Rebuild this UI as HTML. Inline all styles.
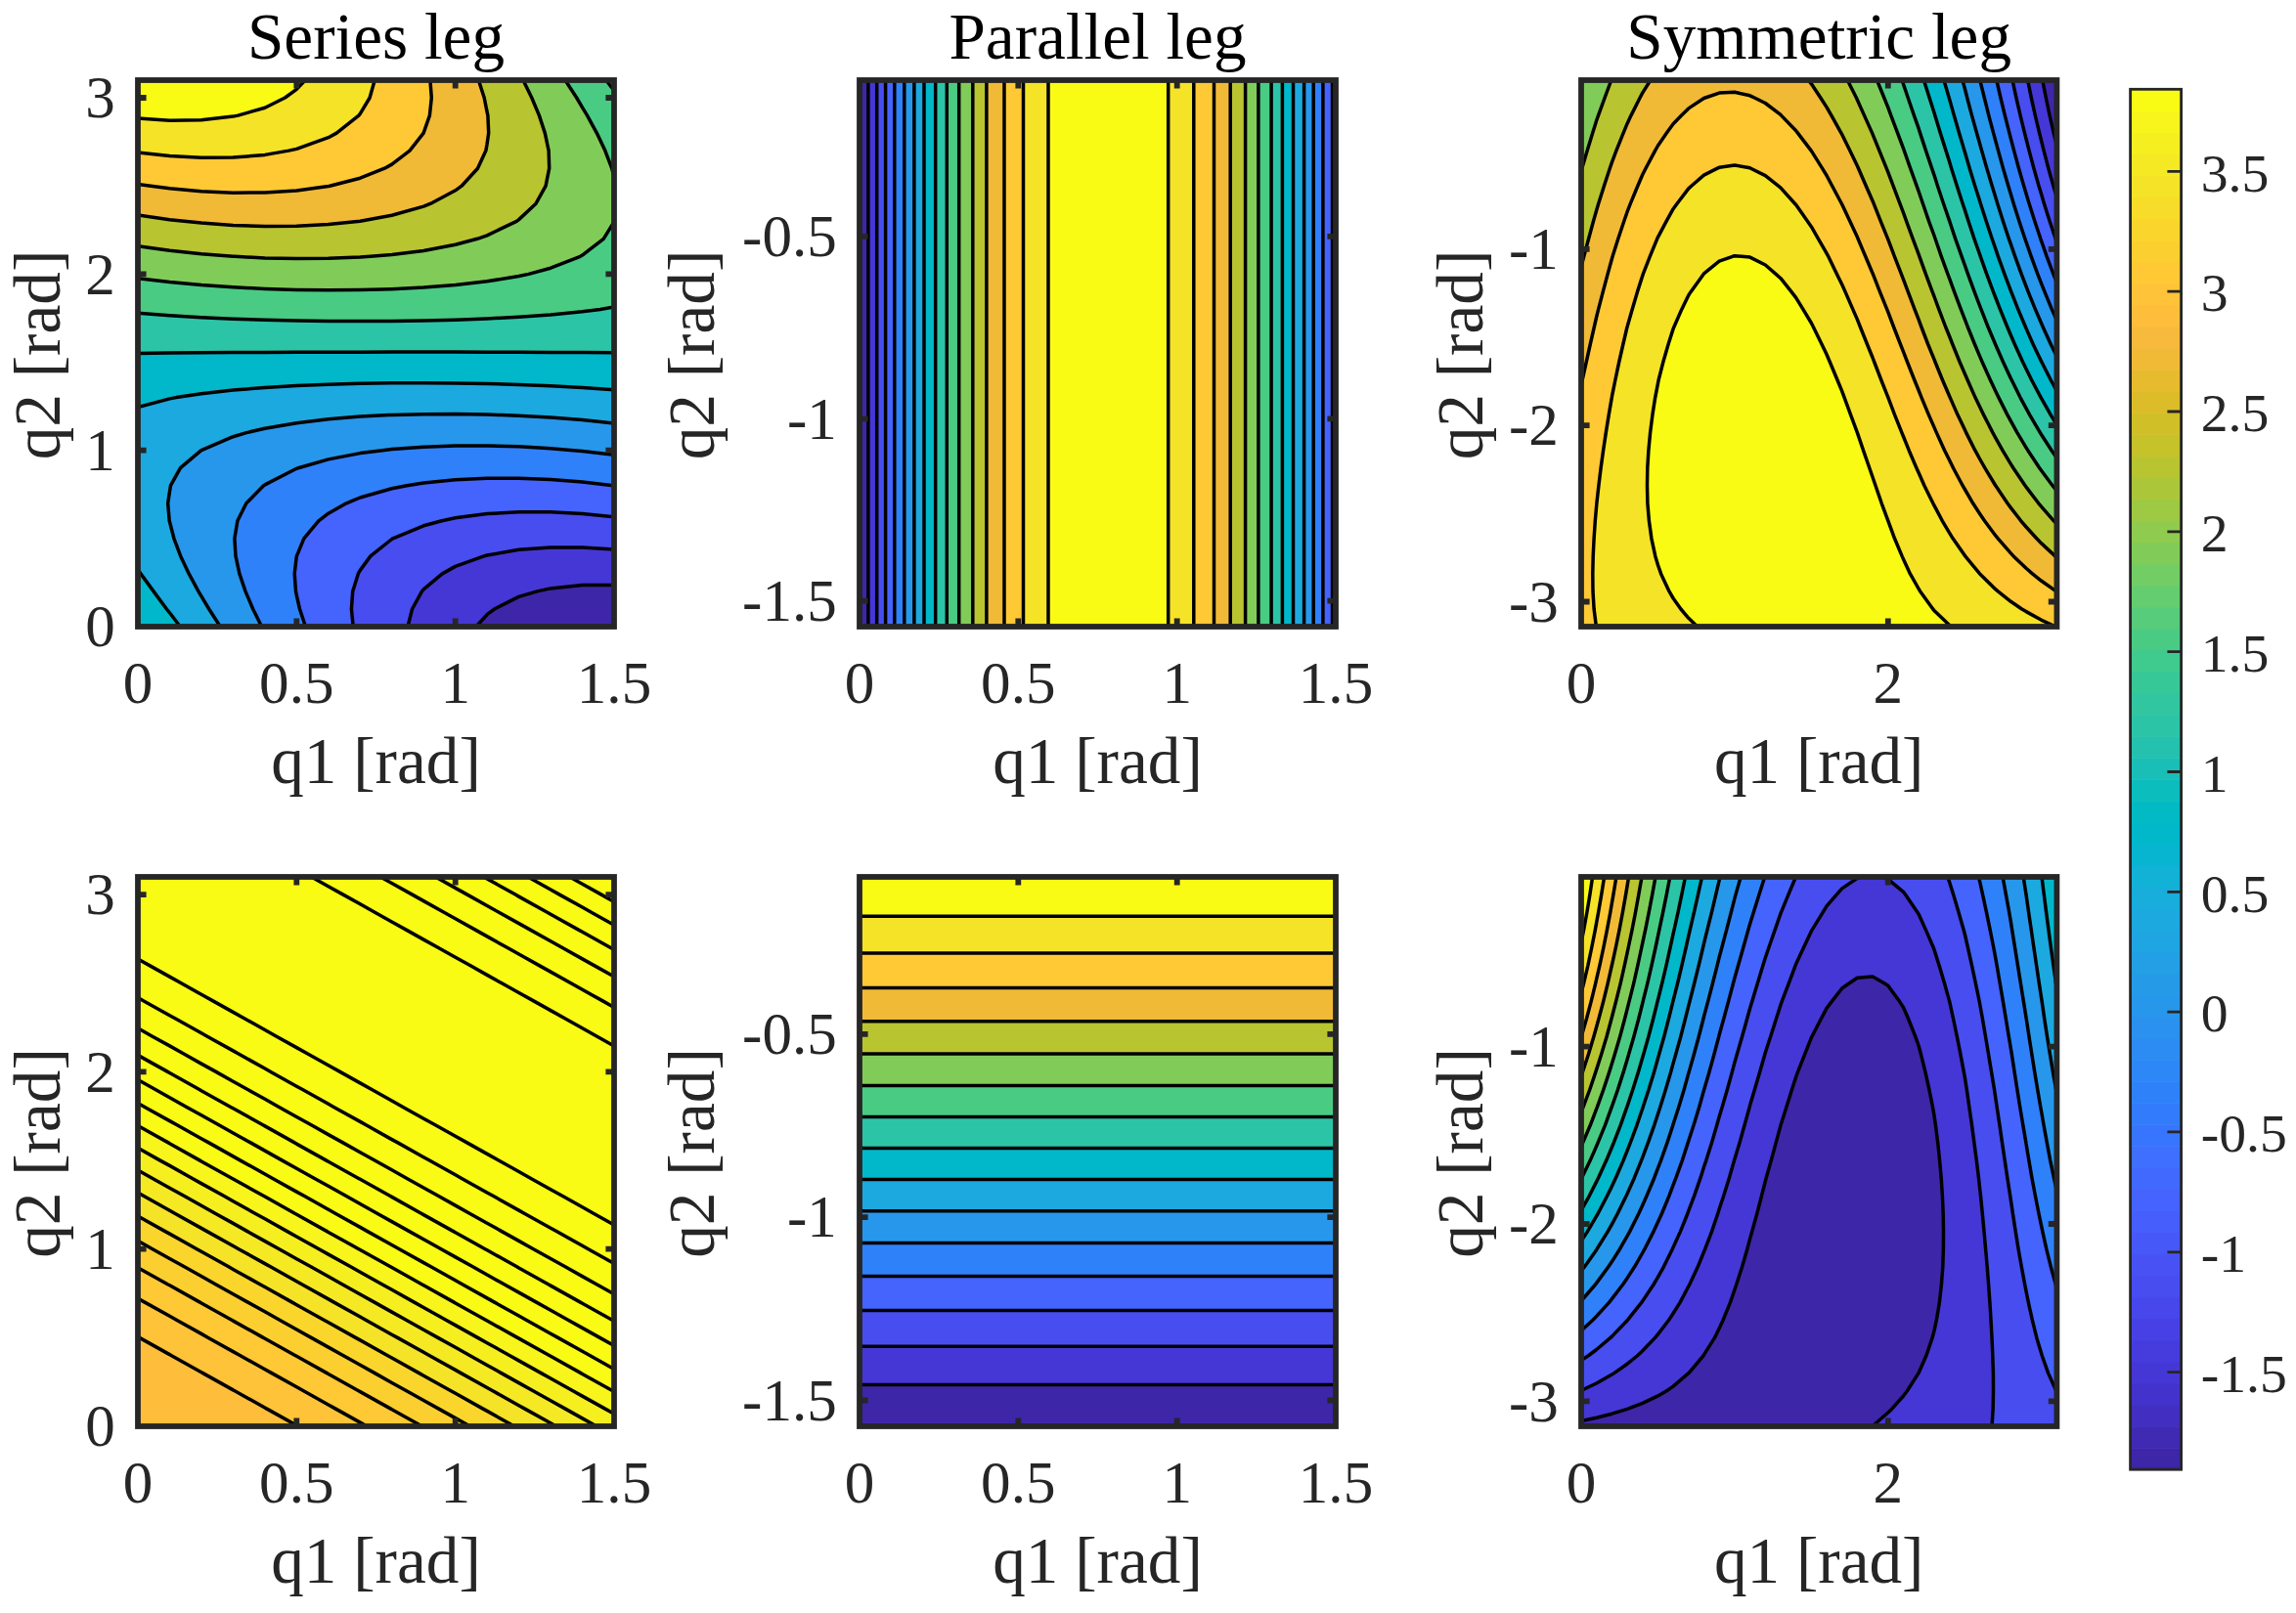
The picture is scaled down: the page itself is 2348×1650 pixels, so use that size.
<!DOCTYPE html>
<html><head><meta charset="utf-8"><title>Leg contour plots</title>
<style>html,body{margin:0;padding:0;background:#fff}svg{display:block}text{font-family:"Liberation Serif","Times New Roman",Times,serif}</style></head>
<body>
<svg xmlns="http://www.w3.org/2000/svg" width="2348" height="1650" viewBox="0 0 2348 1650">
<rect width="2348" height="1650" fill="#fff"/>
<g id="ax00">
<clipPath id="cp00"><rect x="141.0" y="82.0" width="487.0" height="559.0"/></clipPath>
<g clip-path="url(#cp00)">
<rect x="141.0" y="82.0" width="487.0" height="559.0" fill="#3e26a8"/>
<path d="M141.0,641.0 L173.5,641.0 L205.9,641.0 L238.4,641.0 L270.9,641.0 L303.3,641.0 L335.8,641.0 L368.3,641.0 L400.7,641.0 L433.2,641.0 L465.7,641.0 L486.9,641.0 L498.1,628.7 L505.7,623.0 L530.6,610.4 L549.5,604.9 L563.1,601.9 L595.5,598.6 L628.0,598.5 L628.0,586.9 L628.0,568.9 L628.0,550.8 L628.0,532.8 L628.0,514.8 L628.0,496.7 L628.0,478.7 L628.0,460.7 L628.0,442.6 L628.0,424.6 L628.0,406.6 L628.0,388.5 L628.0,370.5 L628.0,352.5 L628.0,334.5 L628.0,316.4 L628.0,298.4 L628.0,280.4 L628.0,262.3 L628.0,244.3 L628.0,226.3 L628.0,208.2 L628.0,190.2 L628.0,172.2 L628.0,154.1 L628.0,136.1 L628.0,118.1 L628.0,100.0 L628.0,82.0 L595.5,82.0 L563.1,82.0 L530.6,82.0 L498.1,82.0 L465.7,82.0 L433.2,82.0 L400.7,82.0 L368.3,82.0 L335.8,82.0 L303.3,82.0 L270.9,82.0 L238.4,82.0 L205.9,82.0 L173.5,82.0 L141.0,82.0 L141.0,100.0 L141.0,118.1 L141.0,136.1 L141.0,154.1 L141.0,172.2 L141.0,190.2 L141.0,208.2 L141.0,226.3 L141.0,244.3 L141.0,262.3 L141.0,280.4 L141.0,298.4 L141.0,316.4 L141.0,334.5 L141.0,352.5 L141.0,370.5 L141.0,388.5 L141.0,406.6 L141.0,424.6 L141.0,442.6 L141.0,460.7 L141.0,478.7 L141.0,496.7 L141.0,514.8 L141.0,532.8 L141.0,550.8 L141.0,568.9 L141.0,586.9 L141.0,604.9 L141.0,623.0 L141.0,641.0Z" fill="#4537d5" fill-rule="evenodd"/>
<path d="M141.0,641.0 L173.5,641.0 L205.9,641.0 L238.4,641.0 L270.9,641.0 L303.3,641.0 L335.8,641.0 L368.3,641.0 L400.7,641.0 L417.0,641.0 L421.5,623.0 L431.5,604.9 L433.2,602.9 L452.3,586.9 L465.7,579.4 L494.9,568.9 L498.1,568.0 L530.6,562.3 L563.1,559.9 L595.5,559.9 L628.0,562.1 L628.0,550.8 L628.0,532.8 L628.0,514.8 L628.0,496.7 L628.0,478.7 L628.0,460.7 L628.0,442.6 L628.0,424.6 L628.0,406.6 L628.0,388.5 L628.0,370.5 L628.0,352.5 L628.0,334.5 L628.0,316.4 L628.0,298.4 L628.0,280.4 L628.0,262.3 L628.0,244.3 L628.0,226.3 L628.0,208.2 L628.0,190.2 L628.0,172.2 L628.0,154.1 L628.0,136.1 L628.0,118.1 L628.0,100.0 L628.0,82.0 L595.5,82.0 L563.1,82.0 L530.6,82.0 L498.1,82.0 L465.7,82.0 L433.2,82.0 L400.7,82.0 L368.3,82.0 L335.8,82.0 L303.3,82.0 L270.9,82.0 L238.4,82.0 L205.9,82.0 L173.5,82.0 L141.0,82.0 L141.0,100.0 L141.0,118.1 L141.0,136.1 L141.0,154.1 L141.0,172.2 L141.0,190.2 L141.0,208.2 L141.0,226.3 L141.0,244.3 L141.0,262.3 L141.0,280.4 L141.0,298.4 L141.0,316.4 L141.0,334.5 L141.0,352.5 L141.0,370.5 L141.0,388.5 L141.0,406.6 L141.0,424.6 L141.0,442.6 L141.0,460.7 L141.0,478.7 L141.0,496.7 L141.0,514.8 L141.0,532.8 L141.0,550.8 L141.0,568.9 L141.0,586.9 L141.0,604.9 L141.0,623.0 L141.0,641.0Z" fill="#484df0" fill-rule="evenodd"/>
<path d="M141.0,641.0 L173.5,641.0 L205.9,641.0 L238.4,641.0 L270.9,641.0 L303.3,641.0 L335.8,641.0 L361.2,641.0 L359.4,623.0 L360.7,604.9 L366.3,586.9 L368.3,583.4 L378.9,568.9 L400.7,551.5 L401.8,550.8 L433.2,537.8 L451.9,532.8 L465.7,529.8 L498.1,525.6 L530.6,523.7 L563.1,523.8 L595.5,525.5 L628.0,528.7 L628.0,514.8 L628.0,496.7 L628.0,478.7 L628.0,460.7 L628.0,442.6 L628.0,424.6 L628.0,406.6 L628.0,388.5 L628.0,370.5 L628.0,352.5 L628.0,334.5 L628.0,316.4 L628.0,298.4 L628.0,280.4 L628.0,262.3 L628.0,244.3 L628.0,226.3 L628.0,208.2 L628.0,190.2 L628.0,172.2 L628.0,154.1 L628.0,136.1 L628.0,118.1 L628.0,100.0 L628.0,82.0 L595.5,82.0 L563.1,82.0 L530.6,82.0 L498.1,82.0 L465.7,82.0 L433.2,82.0 L400.7,82.0 L368.3,82.0 L335.8,82.0 L303.3,82.0 L270.9,82.0 L238.4,82.0 L205.9,82.0 L173.5,82.0 L141.0,82.0 L141.0,100.0 L141.0,118.1 L141.0,136.1 L141.0,154.1 L141.0,172.2 L141.0,190.2 L141.0,208.2 L141.0,226.3 L141.0,244.3 L141.0,262.3 L141.0,280.4 L141.0,298.4 L141.0,316.4 L141.0,334.5 L141.0,352.5 L141.0,370.5 L141.0,388.5 L141.0,406.6 L141.0,424.6 L141.0,442.6 L141.0,460.7 L141.0,478.7 L141.0,496.7 L141.0,514.8 L141.0,532.8 L141.0,550.8 L141.0,568.9 L141.0,586.9 L141.0,604.9 L141.0,623.0 L141.0,641.0Z" fill="#4563fd" fill-rule="evenodd"/>
<path d="M141.0,641.0 L173.5,641.0 L205.9,641.0 L238.4,641.0 L270.9,641.0 L303.3,641.0 L312.5,641.0 L306.5,623.0 L303.3,608.8 L302.5,604.9 L301.2,586.9 L303.3,569.0 L303.4,568.9 L310.8,550.8 L325.8,532.8 L335.8,525.2 L354.2,514.8 L368.3,509.0 L400.7,499.7 L416.1,496.7 L433.2,494.0 L465.7,490.8 L498.1,489.3 L530.6,489.3 L563.1,490.5 L595.5,493.1 L627.3,496.7 L628.0,496.8 L628.0,496.7 L628.0,478.7 L628.0,460.7 L628.0,442.6 L628.0,424.6 L628.0,406.6 L628.0,388.5 L628.0,370.5 L628.0,352.5 L628.0,334.5 L628.0,316.4 L628.0,298.4 L628.0,280.4 L628.0,262.3 L628.0,244.3 L628.0,226.3 L628.0,208.2 L628.0,190.2 L628.0,172.2 L628.0,154.1 L628.0,136.1 L628.0,118.1 L628.0,100.0 L628.0,82.0 L595.5,82.0 L563.1,82.0 L530.6,82.0 L498.1,82.0 L465.7,82.0 L433.2,82.0 L400.7,82.0 L368.3,82.0 L335.8,82.0 L303.3,82.0 L270.9,82.0 L238.4,82.0 L205.9,82.0 L173.5,82.0 L141.0,82.0 L141.0,100.0 L141.0,118.1 L141.0,136.1 L141.0,154.1 L141.0,172.2 L141.0,190.2 L141.0,208.2 L141.0,226.3 L141.0,244.3 L141.0,262.3 L141.0,280.4 L141.0,298.4 L141.0,316.4 L141.0,334.5 L141.0,352.5 L141.0,370.5 L141.0,388.5 L141.0,406.6 L141.0,424.6 L141.0,442.6 L141.0,460.7 L141.0,478.7 L141.0,496.7 L141.0,514.8 L141.0,532.8 L141.0,550.8 L141.0,568.9 L141.0,586.9 L141.0,604.9 L141.0,623.0 L141.0,641.0Z" fill="#2f81fa" fill-rule="evenodd"/>
<path d="M141.0,641.0 L173.5,641.0 L205.9,641.0 L238.4,641.0 L267.6,641.0 L258.7,623.0 L251.0,604.9 L244.9,586.9 L241.0,568.9 L239.9,550.8 L242.9,532.8 L251.9,514.8 L269.6,496.7 L270.9,495.9 L303.3,479.3 L305.0,478.7 L335.8,469.9 L368.3,463.6 L391.1,460.7 L400.7,459.6 L433.2,457.2 L465.7,456.1 L498.1,456.0 L530.6,456.8 L563.1,458.7 L586.3,460.7 L595.5,461.5 L628.0,465.3 L628.0,460.7 L628.0,442.6 L628.0,424.6 L628.0,406.6 L628.0,388.5 L628.0,370.5 L628.0,352.5 L628.0,334.5 L628.0,316.4 L628.0,298.4 L628.0,280.4 L628.0,262.3 L628.0,244.3 L628.0,226.3 L628.0,208.2 L628.0,190.2 L628.0,172.2 L628.0,154.1 L628.0,136.1 L628.0,118.1 L628.0,100.0 L628.0,82.0 L595.5,82.0 L563.1,82.0 L530.6,82.0 L498.1,82.0 L465.7,82.0 L433.2,82.0 L400.7,82.0 L368.3,82.0 L335.8,82.0 L303.3,82.0 L270.9,82.0 L238.4,82.0 L205.9,82.0 L173.5,82.0 L141.0,82.0 L141.0,100.0 L141.0,118.1 L141.0,136.1 L141.0,154.1 L141.0,172.2 L141.0,190.2 L141.0,208.2 L141.0,226.3 L141.0,244.3 L141.0,262.3 L141.0,280.4 L141.0,298.4 L141.0,316.4 L141.0,334.5 L141.0,352.5 L141.0,370.5 L141.0,388.5 L141.0,406.6 L141.0,424.6 L141.0,442.6 L141.0,460.7 L141.0,478.7 L141.0,496.7 L141.0,514.8 L141.0,532.8 L141.0,550.8 L141.0,568.9 L141.0,586.9 L141.0,604.9 L141.0,623.0 L141.0,641.0Z" fill="#2797eb" fill-rule="evenodd"/>
<path d="M141.0,641.0 L173.5,641.0 L205.9,641.0 L225.3,641.0 L213.7,623.0 L205.9,609.9 L202.9,604.9 L193.2,586.9 L184.7,568.9 L177.9,550.8 L173.5,533.8 L173.2,532.8 L171.7,514.8 L173.5,502.7 L174.5,496.7 L184.5,478.7 L205.8,460.7 L205.9,460.6 L238.4,446.7 L252.0,442.6 L270.9,438.3 L303.3,432.7 L335.8,428.8 L368.3,426.1 L397.8,424.6 L400.7,424.5 L433.2,423.7 L465.7,423.5 L498.1,424.1 L513.0,424.6 L530.6,425.3 L563.1,427.1 L595.5,429.6 L628.0,433.0 L628.0,424.6 L628.0,406.6 L628.0,388.5 L628.0,370.5 L628.0,352.5 L628.0,334.5 L628.0,316.4 L628.0,298.4 L628.0,280.4 L628.0,262.3 L628.0,244.3 L628.0,226.3 L628.0,208.2 L628.0,190.2 L628.0,172.2 L628.0,154.1 L628.0,136.1 L628.0,118.1 L628.0,100.0 L628.0,82.0 L595.5,82.0 L563.1,82.0 L530.6,82.0 L498.1,82.0 L465.7,82.0 L433.2,82.0 L400.7,82.0 L368.3,82.0 L335.8,82.0 L303.3,82.0 L270.9,82.0 L238.4,82.0 L205.9,82.0 L173.5,82.0 L141.0,82.0 L141.0,100.0 L141.0,118.1 L141.0,136.1 L141.0,154.1 L141.0,172.2 L141.0,190.2 L141.0,208.2 L141.0,226.3 L141.0,244.3 L141.0,262.3 L141.0,280.4 L141.0,298.4 L141.0,316.4 L141.0,334.5 L141.0,352.5 L141.0,370.5 L141.0,388.5 L141.0,406.6 L141.0,424.6 L141.0,442.6 L141.0,460.7 L141.0,478.7 L141.0,496.7 L141.0,514.8 L141.0,532.8 L141.0,550.8 L141.0,568.9 L141.0,586.9 L141.0,604.9 L141.0,623.0 L141.0,641.0Z" fill="#1ca9df" fill-rule="evenodd"/>
<path d="M141.0,641.0 L173.5,641.0 L184.3,641.0 L173.5,626.8 L170.4,623.0 L157.0,604.9 L143.9,586.9 L141.0,582.4 L141.0,586.9 L141.0,604.9 L141.0,623.0 L141.0,641.0ZM141.0,406.6 L141.0,416.5 L173.5,407.9 L180.2,406.6 L205.9,402.7 L238.4,399.1 L270.9,396.4 L303.3,394.5 L335.8,393.2 L368.3,392.3 L400.7,391.8 L433.2,391.7 L465.7,391.9 L498.1,392.5 L530.6,393.4 L563.1,394.7 L595.5,396.5 L628.0,398.8 L628.0,388.5 L628.0,370.5 L628.0,352.5 L628.0,334.5 L628.0,316.4 L628.0,298.4 L628.0,280.4 L628.0,262.3 L628.0,244.3 L628.0,226.3 L628.0,208.2 L628.0,190.2 L628.0,172.2 L628.0,154.1 L628.0,136.1 L628.0,118.1 L628.0,100.0 L628.0,82.0 L595.5,82.0 L563.1,82.0 L530.6,82.0 L498.1,82.0 L465.7,82.0 L433.2,82.0 L400.7,82.0 L368.3,82.0 L335.8,82.0 L303.3,82.0 L270.9,82.0 L238.4,82.0 L205.9,82.0 L173.5,82.0 L141.0,82.0 L141.0,100.0 L141.0,118.1 L141.0,136.1 L141.0,154.1 L141.0,172.2 L141.0,190.2 L141.0,208.2 L141.0,226.3 L141.0,244.3 L141.0,262.3 L141.0,280.4 L141.0,298.4 L141.0,316.4 L141.0,334.5 L141.0,352.5 L141.0,370.5 L141.0,388.5 L141.0,406.6Z" fill="#01b8ca" fill-rule="evenodd"/>
<path d="M141.0,641.0 L144.0,641.0 L141.0,637.4 L141.0,641.0ZM141.0,352.5 L141.0,361.4 L173.5,361.0 L205.9,360.8 L238.4,360.6 L270.9,360.4 L303.3,360.3 L335.8,360.2 L368.3,360.2 L400.7,360.1 L433.2,360.1 L465.7,360.1 L498.1,360.2 L530.6,360.3 L563.1,360.4 L595.5,360.5 L628.0,360.7 L628.0,352.5 L628.0,334.5 L628.0,316.4 L628.0,298.4 L628.0,280.4 L628.0,262.3 L628.0,244.3 L628.0,226.3 L628.0,208.2 L628.0,190.2 L628.0,172.2 L628.0,154.1 L628.0,136.1 L628.0,118.1 L628.0,100.0 L628.0,82.0 L595.5,82.0 L563.1,82.0 L530.6,82.0 L498.1,82.0 L465.7,82.0 L433.2,82.0 L400.7,82.0 L368.3,82.0 L335.8,82.0 L303.3,82.0 L270.9,82.0 L238.4,82.0 L205.9,82.0 L173.5,82.0 L141.0,82.0 L141.0,100.0 L141.0,118.1 L141.0,136.1 L141.0,154.1 L141.0,172.2 L141.0,190.2 L141.0,208.2 L141.0,226.3 L141.0,244.3 L141.0,262.3 L141.0,280.4 L141.0,298.4 L141.0,316.4 L141.0,334.5 L141.0,352.5Z" fill="#2cc4a7" fill-rule="evenodd"/>
<path d="M141.0,316.4 L141.0,320.3 L173.5,322.8 L205.9,324.7 L238.4,326.2 L270.9,327.3 L303.3,328.0 L335.8,328.4 L368.3,328.6 L400.7,328.4 L433.2,328.0 L465.7,327.2 L498.1,325.9 L530.6,324.2 L563.1,321.9 L595.5,318.8 L613.9,316.4 L628.0,314.1 L628.0,298.4 L628.0,280.4 L628.0,262.3 L628.0,244.3 L628.0,226.3 L628.0,208.2 L628.0,190.2 L628.0,172.2 L628.0,154.1 L628.0,136.1 L628.0,118.1 L628.0,100.0 L628.0,92.8 L619.8,82.0 L595.5,82.0 L563.1,82.0 L530.6,82.0 L498.1,82.0 L465.7,82.0 L433.2,82.0 L400.7,82.0 L368.3,82.0 L335.8,82.0 L303.3,82.0 L270.9,82.0 L238.4,82.0 L205.9,82.0 L173.5,82.0 L141.0,82.0 L141.0,100.0 L141.0,118.1 L141.0,136.1 L141.0,154.1 L141.0,172.2 L141.0,190.2 L141.0,208.2 L141.0,226.3 L141.0,244.3 L141.0,262.3 L141.0,280.4 L141.0,298.4 L141.0,316.4Z" fill="#4acb84" fill-rule="evenodd"/>
<path d="M141.0,280.4 L141.0,284.7 L173.5,288.6 L205.9,291.6 L238.4,293.8 L270.9,295.4 L303.3,296.4 L335.8,296.8 L368.3,296.6 L400.7,295.7 L433.2,294.1 L465.7,291.5 L498.1,287.8 L530.6,282.5 L540.6,280.4 L563.1,274.2 L593.4,262.3 L595.5,261.1 L617.2,244.3 L628.0,226.8 L628.0,226.3 L628.0,208.2 L628.0,190.2 L628.0,181.5 L625.7,172.2 L618.8,154.1 L610.3,136.1 L600.5,118.1 L595.5,109.9 L589.7,100.0 L578.0,82.0 L563.1,82.0 L530.6,82.0 L498.1,82.0 L465.7,82.0 L433.2,82.0 L400.7,82.0 L368.3,82.0 L335.8,82.0 L303.3,82.0 L270.9,82.0 L238.4,82.0 L205.9,82.0 L173.5,82.0 L141.0,82.0 L141.0,100.0 L141.0,118.1 L141.0,136.1 L141.0,154.1 L141.0,172.2 L141.0,190.2 L141.0,208.2 L141.0,226.3 L141.0,244.3 L141.0,262.3 L141.0,280.4Z" fill="#81cc59" fill-rule="evenodd"/>
<path d="M240.0,262.3 L270.9,263.9 L303.3,264.6 L335.8,264.3 L368.3,263.1 L378.8,262.3 L400.7,260.6 L433.2,256.5 L465.7,250.3 L488.1,244.3 L498.1,240.8 L528.3,226.3 L530.6,224.6 L548.1,208.2 L558.1,190.2 L561.7,172.2 L561.1,154.1 L557.3,136.1 L551.4,118.1 L543.8,100.0 L535.0,82.0 L530.6,82.0 L498.1,82.0 L465.7,82.0 L433.2,82.0 L400.7,82.0 L368.3,82.0 L335.8,82.0 L303.3,82.0 L270.9,82.0 L238.4,82.0 L205.9,82.0 L173.5,82.0 L141.0,82.0 L141.0,100.0 L141.0,118.1 L141.0,136.1 L141.0,154.1 L141.0,172.2 L141.0,190.2 L141.0,208.2 L141.0,226.3 L141.0,244.3 L141.0,251.8 L173.5,256.3 L205.9,259.7 L238.4,262.2 L240.0,262.3Z" fill="#b9c431" fill-rule="evenodd"/>
<path d="M188.3,226.3 L205.9,228.1 L238.4,230.4 L270.9,231.4 L303.3,231.2 L335.8,229.6 L368.3,226.3 L368.3,226.3 L400.7,220.3 L433.2,211.1 L440.5,208.2 L465.7,194.8 L472.1,190.2 L488.5,172.2 L496.9,154.1 L498.1,147.2 L499.7,136.1 L498.9,118.1 L498.1,114.5 L495.2,100.0 L489.4,82.0 L465.7,82.0 L433.2,82.0 L400.7,82.0 L368.3,82.0 L335.8,82.0 L303.3,82.0 L270.9,82.0 L238.4,82.0 L205.9,82.0 L173.5,82.0 L141.0,82.0 L141.0,100.0 L141.0,118.1 L141.0,136.1 L141.0,154.1 L141.0,172.2 L141.0,190.2 L141.0,208.2 L141.0,220.0 L173.5,224.7 L188.3,226.3Z" fill="#f0ba36" fill-rule="evenodd"/>
<path d="M154.2,190.2 L173.5,192.8 L205.9,195.7 L238.4,197.2 L270.9,197.0 L303.3,194.9 L335.8,190.5 L337.2,190.2 L368.3,182.2 L393.3,172.2 L400.7,168.1 L419.0,154.1 L433.1,136.1 L433.2,135.9 L439.4,118.1 L441.3,100.0 L439.9,82.0 L433.2,82.0 L400.7,82.0 L368.3,82.0 L335.8,82.0 L303.3,82.0 L270.9,82.0 L238.4,82.0 L205.9,82.0 L173.5,82.0 L141.0,82.0 L141.0,100.0 L141.0,118.1 L141.0,136.1 L141.0,154.1 L141.0,172.2 L141.0,188.4 L154.2,190.2Z" fill="#fec934" fill-rule="evenodd"/>
<path d="M141.0,154.1 L141.0,155.9 L173.5,159.5 L205.9,161.3 L238.4,161.1 L270.9,158.4 L295.2,154.1 L303.3,152.4 L335.8,140.7 L344.2,136.1 L366.9,118.1 L368.3,116.4 L378.1,100.0 L383.2,82.0 L368.3,82.0 L335.8,82.0 L303.3,82.0 L270.9,82.0 L238.4,82.0 L205.9,82.0 L173.5,82.0 L141.0,82.0 L141.0,100.0 L141.0,118.1 L141.0,136.1 L141.0,154.1Z" fill="#f5e327" fill-rule="evenodd"/>
<path d="M141.0,118.1 L141.0,121.1 L173.5,123.2 L205.9,122.8 L238.4,119.1 L243.3,118.1 L270.9,110.2 L291.4,100.0 L303.3,91.3 L312.2,82.0 L303.3,82.0 L270.9,82.0 L238.4,82.0 L205.9,82.0 L173.5,82.0 L141.0,82.0 L141.0,100.0 L141.0,118.1Z" fill="#f9fb15" fill-rule="evenodd"/>
<path d="M486.9,641.0 L498.1,628.7 L505.7,623.0 L530.6,610.4 L549.5,604.9 L563.1,601.9 L595.5,598.6 L628.0,598.5M417.0,641.0 L421.5,623.0 L431.5,604.9 L433.2,602.9 L452.3,586.9 L465.7,579.4 L494.9,568.9 L498.1,568.0 L530.6,562.3 L563.1,559.9 L595.5,559.9 L628.0,562.1M361.2,641.0 L359.4,623.0 L360.7,604.9 L366.3,586.9 L368.3,583.4 L378.9,568.9 L400.7,551.5 L401.8,550.8 L433.2,537.8 L451.9,532.8 L465.7,529.8 L498.1,525.6 L530.6,523.7 L563.1,523.8 L595.5,525.5 L628.0,528.7M312.5,641.0 L306.5,623.0 L303.3,608.8 L302.5,604.9 L301.2,586.9 L303.3,569.0 L303.4,568.9 L310.8,550.8 L325.8,532.8 L335.8,525.2 L354.2,514.8 L368.3,509.0 L400.7,499.7 L416.1,496.7 L433.2,494.0 L465.7,490.8 L498.1,489.3 L530.6,489.3 L563.1,490.5 L595.5,493.1 L627.3,496.7 L628.0,496.8M267.6,641.0 L258.7,623.0 L251.0,604.9 L244.9,586.9 L241.0,568.9 L239.9,550.8 L242.9,532.8 L251.9,514.8 L269.6,496.7 L270.9,495.9 L303.3,479.3 L305.0,478.7 L335.8,469.9 L368.3,463.6 L391.1,460.7 L400.7,459.6 L433.2,457.2 L465.7,456.1 L498.1,456.0 L530.6,456.8 L563.1,458.7 L586.3,460.7 L595.5,461.5 L628.0,465.3M225.3,641.0 L213.7,623.0 L205.9,609.9 L202.9,604.9 L193.2,586.9 L184.7,568.9 L177.9,550.8 L173.5,533.8 L173.2,532.8 L171.7,514.8 L173.5,502.7 L174.5,496.7 L184.5,478.7 L205.8,460.7 L205.9,460.6 L238.4,446.7 L252.0,442.6 L270.9,438.3 L303.3,432.7 L335.8,428.8 L368.3,426.1 L397.8,424.6 L400.7,424.5 L433.2,423.7 L465.7,423.5 L498.1,424.1 L513.0,424.6 L530.6,425.3 L563.1,427.1 L595.5,429.6 L628.0,433.0M184.3,641.0 L173.5,626.8 L170.4,623.0 L157.0,604.9 L143.9,586.9 L141.0,582.4M141.0,416.5 L173.5,407.9 L180.2,406.6 L205.9,402.7 L238.4,399.1 L270.9,396.4 L303.3,394.5 L335.8,393.2 L368.3,392.3 L400.7,391.8 L433.2,391.7 L465.7,391.9 L498.1,392.5 L530.6,393.4 L563.1,394.7 L595.5,396.5 L628.0,398.8M144.0,641.0 L141.0,637.4M141.0,361.4 L173.5,361.0 L205.9,360.8 L238.4,360.6 L270.9,360.4 L303.3,360.3 L335.8,360.2 L368.3,360.2 L400.7,360.1 L433.2,360.1 L465.7,360.1 L498.1,360.2 L530.6,360.3 L563.1,360.4 L595.5,360.5 L628.0,360.7M141.0,320.3 L173.5,322.8 L205.9,324.7 L238.4,326.2 L270.9,327.3 L303.3,328.0 L335.8,328.4 L368.3,328.6 L400.7,328.4 L433.2,328.0 L465.7,327.2 L498.1,325.9 L530.6,324.2 L563.1,321.9 L595.5,318.8 L613.9,316.4 L628.0,314.1M628.0,92.8 L619.8,82.0M141.0,284.7 L173.5,288.6 L205.9,291.6 L238.4,293.8 L270.9,295.4 L303.3,296.4 L335.8,296.8 L368.3,296.6 L400.7,295.7 L433.2,294.1 L465.7,291.5 L498.1,287.8 L530.6,282.5 L540.6,280.4 L563.1,274.2 L593.4,262.3 L595.5,261.1 L617.2,244.3 L628.0,226.8M628.0,181.5 L625.7,172.2 L618.8,154.1 L610.3,136.1 L600.5,118.1 L595.5,109.9 L589.7,100.0 L578.0,82.0M141.0,251.8 L173.5,256.3 L205.9,259.7 L238.4,262.2 L240.0,262.3 L270.9,263.9 L303.3,264.6 L335.8,264.3 L368.3,263.1 L378.8,262.3 L400.7,260.6 L433.2,256.5 L465.7,250.3 L488.1,244.3 L498.1,240.8 L528.3,226.3 L530.6,224.6 L548.1,208.2 L558.1,190.2 L561.7,172.2 L561.1,154.1 L557.3,136.1 L551.4,118.1 L543.8,100.0 L535.0,82.0M141.0,220.0 L173.5,224.7 L188.3,226.3 L205.9,228.1 L238.4,230.4 L270.9,231.4 L303.3,231.2 L335.8,229.6 L368.3,226.3 L368.3,226.3 L400.7,220.3 L433.2,211.1 L440.5,208.2 L465.7,194.8 L472.1,190.2 L488.5,172.2 L496.9,154.1 L498.1,147.2 L499.7,136.1 L498.9,118.1 L498.1,114.5 L495.2,100.0 L489.4,82.0M141.0,188.4 L154.2,190.2 L173.5,192.8 L205.9,195.7 L238.4,197.2 L270.9,197.0 L303.3,194.9 L335.8,190.5 L337.2,190.2 L368.3,182.2 L393.3,172.2 L400.7,168.1 L419.0,154.1 L433.1,136.1 L433.2,135.9 L439.4,118.1 L441.3,100.0 L439.9,82.0M141.0,155.9 L173.5,159.5 L205.9,161.3 L238.4,161.1 L270.9,158.4 L295.2,154.1 L303.3,152.4 L335.8,140.7 L344.2,136.1 L366.9,118.1 L368.3,116.4 L378.1,100.0 L383.2,82.0M141.0,121.1 L173.5,123.2 L205.9,122.8 L238.4,119.1 L243.3,118.1 L270.9,110.2 L291.4,100.0 L303.3,91.3 L312.2,82.0" fill="none" stroke="#000" stroke-width="3.5" stroke-linejoin="round" stroke-linecap="butt"/>
</g>
<path d="M303.3,641.0v-8.6M303.3,82.0v8.6M465.7,641.0v-8.6M465.7,82.0v8.6M141.0,460.7h8.6M628.0,460.7h-8.6M141.0,280.4h8.6M628.0,280.4h-8.6M141.0,100.0h8.6M628.0,100.0h-8.6" stroke="#262626" stroke-width="5.8" fill="none"/>
<rect x="141.0" y="82.0" width="487.0" height="559.0" fill="none" stroke="#262626" stroke-width="5.8"/>
<text x="141.0" y="718.5" font-size="61.1" text-anchor="middle" fill="#262626">0</text>
<text x="303.3" y="718.5" font-size="61.1" text-anchor="middle" fill="#262626">0.5</text>
<text x="465.7" y="718.5" font-size="61.1" text-anchor="middle" fill="#262626">1</text>
<text x="628.0" y="718.5" font-size="61.1" text-anchor="middle" fill="#262626">1.5</text>
<text x="117.8" y="661.3" font-size="61.1" text-anchor="end" fill="#262626">0</text>
<text x="117.8" y="481.0" font-size="61.1" text-anchor="end" fill="#262626">1</text>
<text x="117.8" y="300.7" font-size="61.1" text-anchor="end" fill="#262626">2</text>
<text x="117.8" y="120.3" font-size="61.1" text-anchor="end" fill="#262626">3</text>
<text x="384.5" y="801.1" font-size="67.2" text-anchor="middle" fill="#262626">q1 [rad]</text>
<text transform="translate(61.3,363.0) rotate(-90)" font-size="67.2" text-anchor="middle" fill="#262626">q2 [rad]</text>
<text x="384.5" y="59.8" font-size="67.2" text-anchor="middle" fill="#000">Series leg</text>
</g>
<g id="ax01">
<clipPath id="cp01"><rect x="879.0" y="82.0" width="487.0" height="559.0"/></clipPath>
<g clip-path="url(#cp01)">
<rect x="879.0" y="82.0" width="487.0" height="559.0" fill="#3e26a8"/>
<path d="M887.9,641.0 L911.5,641.0 L943.9,641.0 L976.4,641.0 L1008.9,641.0 L1041.3,641.0 L1073.8,641.0 L1106.3,641.0 L1138.7,641.0 L1171.2,641.0 L1203.7,641.0 L1236.1,641.0 L1268.6,641.0 L1301.1,641.0 L1333.5,641.0 L1366.0,641.0 L1366.0,603.7 L1366.0,566.5 L1366.0,529.2 L1366.0,491.9 L1366.0,454.7 L1366.0,417.4 L1366.0,380.1 L1366.0,342.9 L1366.0,305.6 L1366.0,268.3 L1366.0,231.1 L1366.0,193.8 L1366.0,156.5 L1366.0,119.3 L1366.0,82.0 L1333.5,82.0 L1301.1,82.0 L1268.6,82.0 L1236.1,82.0 L1203.7,82.0 L1171.2,82.0 L1138.7,82.0 L1106.3,82.0 L1073.8,82.0 L1041.3,82.0 L1008.9,82.0 L976.4,82.0 L943.9,82.0 L911.5,82.0 L887.9,82.0 L887.9,119.3 L887.9,156.5 L887.9,193.8 L887.9,231.1 L887.9,268.3 L887.9,305.6 L887.9,342.9 L887.9,380.1 L887.9,417.4 L887.9,454.7 L887.9,491.9 L887.9,529.2 L887.9,566.5 L887.9,603.7 L887.9,641.0Z" fill="#4537d5" fill-rule="evenodd"/>
<path d="M896.7,641.0 L911.5,641.0 L943.9,641.0 L976.4,641.0 L1008.9,641.0 L1041.3,641.0 L1073.8,641.0 L1106.3,641.0 L1138.7,641.0 L1171.2,641.0 L1203.7,641.0 L1236.1,641.0 L1268.6,641.0 L1301.1,641.0 L1333.5,641.0 L1366.0,641.0 L1366.0,603.7 L1366.0,566.5 L1366.0,529.2 L1366.0,491.9 L1366.0,454.7 L1366.0,417.4 L1366.0,380.1 L1366.0,342.9 L1366.0,305.6 L1366.0,268.3 L1366.0,231.1 L1366.0,193.8 L1366.0,156.5 L1366.0,119.3 L1366.0,82.0 L1333.5,82.0 L1301.1,82.0 L1268.6,82.0 L1236.1,82.0 L1203.7,82.0 L1171.2,82.0 L1138.7,82.0 L1106.3,82.0 L1073.8,82.0 L1041.3,82.0 L1008.9,82.0 L976.4,82.0 L943.9,82.0 L911.5,82.0 L896.7,82.0 L896.7,119.3 L896.7,156.5 L896.7,193.8 L896.7,231.1 L896.7,268.3 L896.7,305.6 L896.7,342.9 L896.7,380.1 L896.7,417.4 L896.7,454.7 L896.7,491.9 L896.7,529.2 L896.7,566.5 L896.7,603.7 L896.7,641.0Z" fill="#484df0" fill-rule="evenodd"/>
<path d="M905.6,641.0 L911.5,641.0 L943.9,641.0 L976.4,641.0 L1008.9,641.0 L1041.3,641.0 L1073.8,641.0 L1106.3,641.0 L1138.7,641.0 L1171.2,641.0 L1203.7,641.0 L1236.1,641.0 L1268.6,641.0 L1301.1,641.0 L1333.5,641.0 L1362.5,641.0 L1362.5,603.7 L1362.5,566.5 L1362.5,529.2 L1362.5,491.9 L1362.5,454.7 L1362.5,417.4 L1362.5,380.1 L1362.5,342.9 L1362.5,305.6 L1362.5,268.3 L1362.5,231.1 L1362.5,193.8 L1362.5,156.5 L1362.5,119.3 L1362.5,82.0 L1333.5,82.0 L1301.1,82.0 L1268.6,82.0 L1236.1,82.0 L1203.7,82.0 L1171.2,82.0 L1138.7,82.0 L1106.3,82.0 L1073.8,82.0 L1041.3,82.0 L1008.9,82.0 L976.4,82.0 L943.9,82.0 L911.5,82.0 L905.6,82.0 L905.6,119.3 L905.6,156.5 L905.6,193.8 L905.6,231.1 L905.6,268.3 L905.6,305.6 L905.6,342.9 L905.6,380.1 L905.6,417.4 L905.6,454.7 L905.6,491.9 L905.6,529.2 L905.6,566.5 L905.6,603.7 L905.6,641.0Z" fill="#4563fd" fill-rule="evenodd"/>
<path d="M914.8,641.0 L943.9,641.0 L976.4,641.0 L1008.9,641.0 L1041.3,641.0 L1073.8,641.0 L1106.3,641.0 L1138.7,641.0 L1171.2,641.0 L1203.7,641.0 L1236.1,641.0 L1268.6,641.0 L1301.1,641.0 L1333.5,641.0 L1352.9,641.0 L1352.9,603.7 L1352.9,566.5 L1352.9,529.2 L1352.9,491.9 L1352.9,454.7 L1352.9,417.4 L1352.9,380.1 L1352.9,342.9 L1352.9,305.6 L1352.9,268.3 L1352.9,231.1 L1352.9,193.8 L1352.9,156.5 L1352.9,119.3 L1352.9,82.0 L1333.5,82.0 L1301.1,82.0 L1268.6,82.0 L1236.1,82.0 L1203.7,82.0 L1171.2,82.0 L1138.7,82.0 L1106.3,82.0 L1073.8,82.0 L1041.3,82.0 L1008.9,82.0 L976.4,82.0 L943.9,82.0 L914.8,82.0 L914.8,119.3 L914.8,156.5 L914.8,193.8 L914.8,231.1 L914.8,268.3 L914.8,305.6 L914.8,342.9 L914.8,380.1 L914.8,417.4 L914.8,454.7 L914.8,491.9 L914.8,529.2 L914.8,566.5 L914.8,603.7 L914.8,641.0Z" fill="#2f81fa" fill-rule="evenodd"/>
<path d="M924.8,641.0 L943.9,641.0 L976.4,641.0 L1008.9,641.0 L1041.3,641.0 L1073.8,641.0 L1106.3,641.0 L1138.7,641.0 L1171.2,641.0 L1203.7,641.0 L1236.1,641.0 L1268.6,641.0 L1301.1,641.0 L1333.5,641.0 L1343.2,641.0 L1343.2,603.7 L1343.2,566.5 L1343.2,529.2 L1343.2,491.9 L1343.2,454.7 L1343.2,417.4 L1343.2,380.1 L1343.2,342.9 L1343.2,305.6 L1343.2,268.3 L1343.2,231.1 L1343.2,193.8 L1343.2,156.5 L1343.2,119.3 L1343.2,82.0 L1333.5,82.0 L1301.1,82.0 L1268.6,82.0 L1236.1,82.0 L1203.7,82.0 L1171.2,82.0 L1138.7,82.0 L1106.3,82.0 L1073.8,82.0 L1041.3,82.0 L1008.9,82.0 L976.4,82.0 L943.9,82.0 L924.8,82.0 L924.8,119.3 L924.8,156.5 L924.8,193.8 L924.8,231.1 L924.8,268.3 L924.8,305.6 L924.8,342.9 L924.8,380.1 L924.8,417.4 L924.8,454.7 L924.8,491.9 L924.8,529.2 L924.8,566.5 L924.8,603.7 L924.8,641.0Z" fill="#2797eb" fill-rule="evenodd"/>
<path d="M934.9,641.0 L943.9,641.0 L976.4,641.0 L1008.9,641.0 L1041.3,641.0 L1073.8,641.0 L1106.3,641.0 L1138.7,641.0 L1171.2,641.0 L1203.7,641.0 L1236.1,641.0 L1268.6,641.0 L1301.1,641.0 L1333.5,641.0 L1333.6,641.0 L1333.6,603.7 L1333.6,566.5 L1333.6,529.2 L1333.6,491.9 L1333.6,454.7 L1333.6,417.4 L1333.6,380.1 L1333.6,342.9 L1333.6,305.6 L1333.6,268.3 L1333.6,231.1 L1333.6,193.8 L1333.6,156.5 L1333.6,119.3 L1333.6,82.0 L1333.5,82.0 L1301.1,82.0 L1268.6,82.0 L1236.1,82.0 L1203.7,82.0 L1171.2,82.0 L1138.7,82.0 L1106.3,82.0 L1073.8,82.0 L1041.3,82.0 L1008.9,82.0 L976.4,82.0 L943.9,82.0 L934.9,82.0 L934.9,119.3 L934.9,156.5 L934.9,193.8 L934.9,231.1 L934.9,268.3 L934.9,305.6 L934.9,342.9 L934.9,380.1 L934.9,417.4 L934.9,454.7 L934.9,491.9 L934.9,529.2 L934.9,566.5 L934.9,603.7 L934.9,641.0Z" fill="#1ca9df" fill-rule="evenodd"/>
<path d="M945.0,641.0 L976.4,641.0 L1008.9,641.0 L1041.3,641.0 L1073.8,641.0 L1106.3,641.0 L1138.7,641.0 L1171.2,641.0 L1203.7,641.0 L1236.1,641.0 L1268.6,641.0 L1301.1,641.0 L1322.5,641.0 L1322.5,603.7 L1322.5,566.5 L1322.5,529.2 L1322.5,491.9 L1322.5,454.7 L1322.5,417.4 L1322.5,380.1 L1322.5,342.9 L1322.5,305.6 L1322.5,268.3 L1322.5,231.1 L1322.5,193.8 L1322.5,156.5 L1322.5,119.3 L1322.5,82.0 L1301.1,82.0 L1268.6,82.0 L1236.1,82.0 L1203.7,82.0 L1171.2,82.0 L1138.7,82.0 L1106.3,82.0 L1073.8,82.0 L1041.3,82.0 L1008.9,82.0 L976.4,82.0 L945.0,82.0 L945.0,119.3 L945.0,156.5 L945.0,193.8 L945.0,231.1 L945.0,268.3 L945.0,305.6 L945.0,342.9 L945.0,380.1 L945.0,417.4 L945.0,454.7 L945.0,491.9 L945.0,529.2 L945.0,566.5 L945.0,603.7 L945.0,641.0Z" fill="#01b8ca" fill-rule="evenodd"/>
<path d="M956.7,641.0 L976.4,641.0 L1008.9,641.0 L1041.3,641.0 L1073.8,641.0 L1106.3,641.0 L1138.7,641.0 L1171.2,641.0 L1203.7,641.0 L1236.1,641.0 L1268.6,641.0 L1301.1,641.0 L1311.4,641.0 L1311.4,603.7 L1311.4,566.5 L1311.4,529.2 L1311.4,491.9 L1311.4,454.7 L1311.4,417.4 L1311.4,380.1 L1311.4,342.9 L1311.4,305.6 L1311.4,268.3 L1311.4,231.1 L1311.4,193.8 L1311.4,156.5 L1311.4,119.3 L1311.4,82.0 L1301.1,82.0 L1268.6,82.0 L1236.1,82.0 L1203.7,82.0 L1171.2,82.0 L1138.7,82.0 L1106.3,82.0 L1073.8,82.0 L1041.3,82.0 L1008.9,82.0 L976.4,82.0 L956.7,82.0 L956.7,119.3 L956.7,156.5 L956.7,193.8 L956.7,231.1 L956.7,268.3 L956.7,305.6 L956.7,342.9 L956.7,380.1 L956.7,417.4 L956.7,454.7 L956.7,491.9 L956.7,529.2 L956.7,566.5 L956.7,603.7 L956.7,641.0Z" fill="#2cc4a7" fill-rule="evenodd"/>
<path d="M968.3,641.0 L976.4,641.0 L1008.9,641.0 L1041.3,641.0 L1073.8,641.0 L1106.3,641.0 L1138.7,641.0 L1171.2,641.0 L1203.7,641.0 L1236.1,641.0 L1268.6,641.0 L1300.1,641.0 L1300.1,603.7 L1300.1,566.5 L1300.1,529.2 L1300.1,491.9 L1300.1,454.7 L1300.1,417.4 L1300.1,380.1 L1300.1,342.9 L1300.1,305.6 L1300.1,268.3 L1300.1,231.1 L1300.1,193.8 L1300.1,156.5 L1300.1,119.3 L1300.1,82.0 L1268.6,82.0 L1236.1,82.0 L1203.7,82.0 L1171.2,82.0 L1138.7,82.0 L1106.3,82.0 L1073.8,82.0 L1041.3,82.0 L1008.9,82.0 L976.4,82.0 L968.3,82.0 L968.3,119.3 L968.3,156.5 L968.3,193.8 L968.3,231.1 L968.3,268.3 L968.3,305.6 L968.3,342.9 L968.3,380.1 L968.3,417.4 L968.3,454.7 L968.3,491.9 L968.3,529.2 L968.3,566.5 L968.3,603.7 L968.3,641.0Z" fill="#4acb84" fill-rule="evenodd"/>
<path d="M980.7,641.0 L1008.9,641.0 L1041.3,641.0 L1073.8,641.0 L1106.3,641.0 L1138.7,641.0 L1171.2,641.0 L1203.7,641.0 L1236.1,641.0 L1268.6,641.0 L1286.9,641.0 L1286.9,603.7 L1286.9,566.5 L1286.9,529.2 L1286.9,491.9 L1286.9,454.7 L1286.9,417.4 L1286.9,380.1 L1286.9,342.9 L1286.9,305.6 L1286.9,268.3 L1286.9,231.1 L1286.9,193.8 L1286.9,156.5 L1286.9,119.3 L1286.9,82.0 L1268.6,82.0 L1236.1,82.0 L1203.7,82.0 L1171.2,82.0 L1138.7,82.0 L1106.3,82.0 L1073.8,82.0 L1041.3,82.0 L1008.9,82.0 L980.7,82.0 L980.7,119.3 L980.7,156.5 L980.7,193.8 L980.7,231.1 L980.7,268.3 L980.7,305.6 L980.7,342.9 L980.7,380.1 L980.7,417.4 L980.7,454.7 L980.7,491.9 L980.7,529.2 L980.7,566.5 L980.7,603.7 L980.7,641.0Z" fill="#81cc59" fill-rule="evenodd"/>
<path d="M994.8,641.0 L1008.9,641.0 L1041.3,641.0 L1073.8,641.0 L1106.3,641.0 L1138.7,641.0 L1171.2,641.0 L1203.7,641.0 L1236.1,641.0 L1268.6,641.0 L1273.6,641.0 L1273.6,603.7 L1273.6,566.5 L1273.6,529.2 L1273.6,491.9 L1273.6,454.7 L1273.6,417.4 L1273.6,380.1 L1273.6,342.9 L1273.6,305.6 L1273.6,268.3 L1273.6,231.1 L1273.6,193.8 L1273.6,156.5 L1273.6,119.3 L1273.6,82.0 L1268.6,82.0 L1236.1,82.0 L1203.7,82.0 L1171.2,82.0 L1138.7,82.0 L1106.3,82.0 L1073.8,82.0 L1041.3,82.0 L1008.9,82.0 L994.8,82.0 L994.8,119.3 L994.8,156.5 L994.8,193.8 L994.8,231.1 L994.8,268.3 L994.8,305.6 L994.8,342.9 L994.8,380.1 L994.8,417.4 L994.8,454.7 L994.8,491.9 L994.8,529.2 L994.8,566.5 L994.8,603.7 L994.8,641.0Z" fill="#b9c431" fill-rule="evenodd"/>
<path d="M1008.9,641.0 L1041.3,641.0 L1073.8,641.0 L1106.3,641.0 L1138.7,641.0 L1171.2,641.0 L1203.7,641.0 L1236.1,641.0 L1258.2,641.0 L1258.2,603.7 L1258.2,566.5 L1258.2,529.2 L1258.2,491.9 L1258.2,454.7 L1258.2,417.4 L1258.2,380.1 L1258.2,342.9 L1258.2,305.6 L1258.2,268.3 L1258.2,231.1 L1258.2,193.8 L1258.2,156.5 L1258.2,119.3 L1258.2,82.0 L1236.1,82.0 L1203.7,82.0 L1171.2,82.0 L1138.7,82.0 L1106.3,82.0 L1073.8,82.0 L1041.3,82.0 L1008.9,82.0 L1008.9,119.3 L1008.9,156.5 L1008.9,193.8 L1008.9,231.1 L1008.9,268.3 L1008.9,305.6 L1008.9,342.9 L1008.9,380.1 L1008.9,417.4 L1008.9,454.7 L1008.9,491.9 L1008.9,529.2 L1008.9,566.5 L1008.9,603.7 L1008.9,641.0Z" fill="#f0ba36" fill-rule="evenodd"/>
<path d="M1027.0,641.0 L1041.3,641.0 L1073.8,641.0 L1106.3,641.0 L1138.7,641.0 L1171.2,641.0 L1203.7,641.0 L1236.1,641.0 L1241.5,641.0 L1241.5,603.7 L1241.5,566.5 L1241.5,529.2 L1241.5,491.9 L1241.5,454.7 L1241.5,417.4 L1241.5,380.1 L1241.5,342.9 L1241.5,305.6 L1241.5,268.3 L1241.5,231.1 L1241.5,193.8 L1241.5,156.5 L1241.5,119.3 L1241.5,82.0 L1236.1,82.0 L1203.7,82.0 L1171.2,82.0 L1138.7,82.0 L1106.3,82.0 L1073.8,82.0 L1041.3,82.0 L1027.0,82.0 L1027.0,119.3 L1027.0,156.5 L1027.0,193.8 L1027.0,231.1 L1027.0,268.3 L1027.0,305.6 L1027.0,342.9 L1027.0,380.1 L1027.0,417.4 L1027.0,454.7 L1027.0,491.9 L1027.0,529.2 L1027.0,566.5 L1027.0,603.7 L1027.0,641.0Z" fill="#fec934" fill-rule="evenodd"/>
<path d="M1046.5,641.0 L1073.8,641.0 L1106.3,641.0 L1138.7,641.0 L1171.2,641.0 L1203.7,641.0 L1220.8,641.0 L1220.8,603.7 L1220.8,566.5 L1220.8,529.2 L1220.8,491.9 L1220.8,454.7 L1220.8,417.4 L1220.8,380.1 L1220.8,342.9 L1220.8,305.6 L1220.8,268.3 L1220.8,231.1 L1220.8,193.8 L1220.8,156.5 L1220.8,119.3 L1220.8,82.0 L1203.7,82.0 L1171.2,82.0 L1138.7,82.0 L1106.3,82.0 L1073.8,82.0 L1046.5,82.0 L1046.5,119.3 L1046.5,156.5 L1046.5,193.8 L1046.5,231.1 L1046.5,268.3 L1046.5,305.6 L1046.5,342.9 L1046.5,380.1 L1046.5,417.4 L1046.5,454.7 L1046.5,491.9 L1046.5,529.2 L1046.5,566.5 L1046.5,603.7 L1046.5,641.0Z" fill="#f5e327" fill-rule="evenodd"/>
<path d="M1072.0,641.0 L1073.8,641.0 L1106.3,641.0 L1138.7,641.0 L1171.2,641.0 L1194.7,641.0 L1194.7,603.7 L1194.7,566.5 L1194.7,529.2 L1194.7,491.9 L1194.7,454.7 L1194.7,417.4 L1194.7,380.1 L1194.7,342.9 L1194.7,305.6 L1194.7,268.3 L1194.7,231.1 L1194.7,193.8 L1194.7,156.5 L1194.7,119.3 L1194.7,82.0 L1171.2,82.0 L1138.7,82.0 L1106.3,82.0 L1073.8,82.0 L1072.0,82.0 L1072.0,119.3 L1072.0,156.5 L1072.0,193.8 L1072.0,231.1 L1072.0,268.3 L1072.0,305.6 L1072.0,342.9 L1072.0,380.1 L1072.0,417.4 L1072.0,454.7 L1072.0,491.9 L1072.0,529.2 L1072.0,566.5 L1072.0,603.7 L1072.0,641.0Z" fill="#f9fb15" fill-rule="evenodd"/>
<path d="M887.9,82.0 L887.9,119.3 L887.9,156.5 L887.9,193.8 L887.9,231.1 L887.9,268.3 L887.9,305.6 L887.9,342.9 L887.9,380.1 L887.9,417.4 L887.9,454.7 L887.9,491.9 L887.9,529.2 L887.9,566.5 L887.9,603.7 L887.9,641.0M896.7,82.0 L896.7,119.3 L896.7,156.5 L896.7,193.8 L896.7,231.1 L896.7,268.3 L896.7,305.6 L896.7,342.9 L896.7,380.1 L896.7,417.4 L896.7,454.7 L896.7,491.9 L896.7,529.2 L896.7,566.5 L896.7,603.7 L896.7,641.0M1362.5,641.0 L1362.5,603.7 L1362.5,566.5 L1362.5,529.2 L1362.5,491.9 L1362.5,454.7 L1362.5,417.4 L1362.5,380.1 L1362.5,342.9 L1362.5,305.6 L1362.5,268.3 L1362.5,231.1 L1362.5,193.8 L1362.5,156.5 L1362.5,119.3 L1362.5,82.0M905.6,82.0 L905.6,119.3 L905.6,156.5 L905.6,193.8 L905.6,231.1 L905.6,268.3 L905.6,305.6 L905.6,342.9 L905.6,380.1 L905.6,417.4 L905.6,454.7 L905.6,491.9 L905.6,529.2 L905.6,566.5 L905.6,603.7 L905.6,641.0M1352.9,641.0 L1352.9,603.7 L1352.9,566.5 L1352.9,529.2 L1352.9,491.9 L1352.9,454.7 L1352.9,417.4 L1352.9,380.1 L1352.9,342.9 L1352.9,305.6 L1352.9,268.3 L1352.9,231.1 L1352.9,193.8 L1352.9,156.5 L1352.9,119.3 L1352.9,82.0M914.8,82.0 L914.8,119.3 L914.8,156.5 L914.8,193.8 L914.8,231.1 L914.8,268.3 L914.8,305.6 L914.8,342.9 L914.8,380.1 L914.8,417.4 L914.8,454.7 L914.8,491.9 L914.8,529.2 L914.8,566.5 L914.8,603.7 L914.8,641.0M1343.2,641.0 L1343.2,603.7 L1343.2,566.5 L1343.2,529.2 L1343.2,491.9 L1343.2,454.7 L1343.2,417.4 L1343.2,380.1 L1343.2,342.9 L1343.2,305.6 L1343.2,268.3 L1343.2,231.1 L1343.2,193.8 L1343.2,156.5 L1343.2,119.3 L1343.2,82.0M924.8,82.0 L924.8,119.3 L924.8,156.5 L924.8,193.8 L924.8,231.1 L924.8,268.3 L924.8,305.6 L924.8,342.9 L924.8,380.1 L924.8,417.4 L924.8,454.7 L924.8,491.9 L924.8,529.2 L924.8,566.5 L924.8,603.7 L924.8,641.0M1333.6,641.0 L1333.6,603.7 L1333.6,566.5 L1333.6,529.2 L1333.6,491.9 L1333.6,454.7 L1333.6,417.4 L1333.6,380.1 L1333.6,342.9 L1333.6,305.6 L1333.6,268.3 L1333.6,231.1 L1333.6,193.8 L1333.6,156.5 L1333.6,119.3 L1333.6,82.0M934.9,82.0 L934.9,119.3 L934.9,156.5 L934.9,193.8 L934.9,231.1 L934.9,268.3 L934.9,305.6 L934.9,342.9 L934.9,380.1 L934.9,417.4 L934.9,454.7 L934.9,491.9 L934.9,529.2 L934.9,566.5 L934.9,603.7 L934.9,641.0M1322.5,641.0 L1322.5,603.7 L1322.5,566.5 L1322.5,529.2 L1322.5,491.9 L1322.5,454.7 L1322.5,417.4 L1322.5,380.1 L1322.5,342.9 L1322.5,305.6 L1322.5,268.3 L1322.5,231.1 L1322.5,193.8 L1322.5,156.5 L1322.5,119.3 L1322.5,82.0M945.0,82.0 L945.0,119.3 L945.0,156.5 L945.0,193.8 L945.0,231.1 L945.0,268.3 L945.0,305.6 L945.0,342.9 L945.0,380.1 L945.0,417.4 L945.0,454.7 L945.0,491.9 L945.0,529.2 L945.0,566.5 L945.0,603.7 L945.0,641.0M1311.4,641.0 L1311.4,603.7 L1311.4,566.5 L1311.4,529.2 L1311.4,491.9 L1311.4,454.7 L1311.4,417.4 L1311.4,380.1 L1311.4,342.9 L1311.4,305.6 L1311.4,268.3 L1311.4,231.1 L1311.4,193.8 L1311.4,156.5 L1311.4,119.3 L1311.4,82.0M956.7,82.0 L956.7,119.3 L956.7,156.5 L956.7,193.8 L956.7,231.1 L956.7,268.3 L956.7,305.6 L956.7,342.9 L956.7,380.1 L956.7,417.4 L956.7,454.7 L956.7,491.9 L956.7,529.2 L956.7,566.5 L956.7,603.7 L956.7,641.0M1300.1,641.0 L1300.1,603.7 L1300.1,566.5 L1300.1,529.2 L1300.1,491.9 L1300.1,454.7 L1300.1,417.4 L1300.1,380.1 L1300.1,342.9 L1300.1,305.6 L1300.1,268.3 L1300.1,231.1 L1300.1,193.8 L1300.1,156.5 L1300.1,119.3 L1300.1,82.0M968.3,82.0 L968.3,119.3 L968.3,156.5 L968.3,193.8 L968.3,231.1 L968.3,268.3 L968.3,305.6 L968.3,342.9 L968.3,380.1 L968.3,417.4 L968.3,454.7 L968.3,491.9 L968.3,529.2 L968.3,566.5 L968.3,603.7 L968.3,641.0M1286.9,641.0 L1286.9,603.7 L1286.9,566.5 L1286.9,529.2 L1286.9,491.9 L1286.9,454.7 L1286.9,417.4 L1286.9,380.1 L1286.9,342.9 L1286.9,305.6 L1286.9,268.3 L1286.9,231.1 L1286.9,193.8 L1286.9,156.5 L1286.9,119.3 L1286.9,82.0M980.7,82.0 L980.7,119.3 L980.7,156.5 L980.7,193.8 L980.7,231.1 L980.7,268.3 L980.7,305.6 L980.7,342.9 L980.7,380.1 L980.7,417.4 L980.7,454.7 L980.7,491.9 L980.7,529.2 L980.7,566.5 L980.7,603.7 L980.7,641.0M1273.6,641.0 L1273.6,603.7 L1273.6,566.5 L1273.6,529.2 L1273.6,491.9 L1273.6,454.7 L1273.6,417.4 L1273.6,380.1 L1273.6,342.9 L1273.6,305.6 L1273.6,268.3 L1273.6,231.1 L1273.6,193.8 L1273.6,156.5 L1273.6,119.3 L1273.6,82.0M994.8,82.0 L994.8,119.3 L994.8,156.5 L994.8,193.8 L994.8,231.1 L994.8,268.3 L994.8,305.6 L994.8,342.9 L994.8,380.1 L994.8,417.4 L994.8,454.7 L994.8,491.9 L994.8,529.2 L994.8,566.5 L994.8,603.7 L994.8,641.0M1258.2,641.0 L1258.2,603.7 L1258.2,566.5 L1258.2,529.2 L1258.2,491.9 L1258.2,454.7 L1258.2,417.4 L1258.2,380.1 L1258.2,342.9 L1258.2,305.6 L1258.2,268.3 L1258.2,231.1 L1258.2,193.8 L1258.2,156.5 L1258.2,119.3 L1258.2,82.0M1008.9,82.0 L1008.9,119.3 L1008.9,156.5 L1008.9,193.8 L1008.9,231.1 L1008.9,268.3 L1008.9,305.6 L1008.9,342.9 L1008.9,380.1 L1008.9,417.4 L1008.9,454.7 L1008.9,491.9 L1008.9,529.2 L1008.9,566.5 L1008.9,603.7 L1008.9,641.0M1241.5,641.0 L1241.5,603.7 L1241.5,566.5 L1241.5,529.2 L1241.5,491.9 L1241.5,454.7 L1241.5,417.4 L1241.5,380.1 L1241.5,342.9 L1241.5,305.6 L1241.5,268.3 L1241.5,231.1 L1241.5,193.8 L1241.5,156.5 L1241.5,119.3 L1241.5,82.0M1027.0,82.0 L1027.0,119.3 L1027.0,156.5 L1027.0,193.8 L1027.0,231.1 L1027.0,268.3 L1027.0,305.6 L1027.0,342.9 L1027.0,380.1 L1027.0,417.4 L1027.0,454.7 L1027.0,491.9 L1027.0,529.2 L1027.0,566.5 L1027.0,603.7 L1027.0,641.0M1220.8,641.0 L1220.8,603.7 L1220.8,566.5 L1220.8,529.2 L1220.8,491.9 L1220.8,454.7 L1220.8,417.4 L1220.8,380.1 L1220.8,342.9 L1220.8,305.6 L1220.8,268.3 L1220.8,231.1 L1220.8,193.8 L1220.8,156.5 L1220.8,119.3 L1220.8,82.0M1046.5,82.0 L1046.5,119.3 L1046.5,156.5 L1046.5,193.8 L1046.5,231.1 L1046.5,268.3 L1046.5,305.6 L1046.5,342.9 L1046.5,380.1 L1046.5,417.4 L1046.5,454.7 L1046.5,491.9 L1046.5,529.2 L1046.5,566.5 L1046.5,603.7 L1046.5,641.0M1194.7,641.0 L1194.7,603.7 L1194.7,566.5 L1194.7,529.2 L1194.7,491.9 L1194.7,454.7 L1194.7,417.4 L1194.7,380.1 L1194.7,342.9 L1194.7,305.6 L1194.7,268.3 L1194.7,231.1 L1194.7,193.8 L1194.7,156.5 L1194.7,119.3 L1194.7,82.0M1072.0,82.0 L1072.0,119.3 L1072.0,156.5 L1072.0,193.8 L1072.0,231.1 L1072.0,268.3 L1072.0,305.6 L1072.0,342.9 L1072.0,380.1 L1072.0,417.4 L1072.0,454.7 L1072.0,491.9 L1072.0,529.2 L1072.0,566.5 L1072.0,603.7 L1072.0,641.0" fill="none" stroke="#000" stroke-width="3.5" stroke-linejoin="round" stroke-linecap="butt"/>
</g>
<path d="M1041.3,641.0v-8.6M1041.3,82.0v8.6M1203.7,641.0v-8.6M1203.7,82.0v8.6M879.0,614.6h8.6M1366.0,614.6h-8.6M879.0,428.3h8.6M1366.0,428.3h-8.6M879.0,241.9h8.6M1366.0,241.9h-8.6" stroke="#262626" stroke-width="5.8" fill="none"/>
<rect x="879.0" y="82.0" width="487.0" height="559.0" fill="none" stroke="#262626" stroke-width="5.8"/>
<text x="879.0" y="718.5" font-size="61.1" text-anchor="middle" fill="#262626">0</text>
<text x="1041.3" y="718.5" font-size="61.1" text-anchor="middle" fill="#262626">0.5</text>
<text x="1203.7" y="718.5" font-size="61.1" text-anchor="middle" fill="#262626">1</text>
<text x="1366.0" y="718.5" font-size="61.1" text-anchor="middle" fill="#262626">1.5</text>
<text x="855.8" y="634.9" font-size="61.1" text-anchor="end" fill="#262626">-1.5</text>
<text x="855.8" y="448.6" font-size="61.1" text-anchor="end" fill="#262626">-1</text>
<text x="855.8" y="262.2" font-size="61.1" text-anchor="end" fill="#262626">-0.5</text>
<text x="1122.5" y="801.1" font-size="67.2" text-anchor="middle" fill="#262626">q1 [rad]</text>
<text transform="translate(730.4,363.0) rotate(-90)" font-size="67.2" text-anchor="middle" fill="#262626">q2 [rad]</text>
<text x="1122.5" y="59.8" font-size="67.2" text-anchor="middle" fill="#000">Parallel leg</text>
</g>
<g id="ax02">
<clipPath id="cp02"><rect x="1617.0" y="82.0" width="486.4000000000001" height="559.0"/></clipPath>
<g clip-path="url(#cp02)">
<rect x="1617.0" y="82.0" width="486.4000000000001" height="559.0" fill="#3e26a8"/>
<path d="M1617.0,641.0 L1632.7,641.0 L1648.4,641.0 L1664.1,641.0 L1679.8,641.0 L1695.5,641.0 L1711.1,641.0 L1726.8,641.0 L1742.5,641.0 L1758.2,641.0 L1773.9,641.0 L1789.6,641.0 L1805.3,641.0 L1821.0,641.0 L1836.7,641.0 L1852.4,641.0 L1868.0,641.0 L1883.7,641.0 L1899.4,641.0 L1915.1,641.0 L1930.8,641.0 L1946.5,641.0 L1962.2,641.0 L1977.9,641.0 L1993.6,641.0 L2009.3,641.0 L2024.9,641.0 L2040.6,641.0 L2056.3,641.0 L2072.0,641.0 L2087.7,641.0 L2103.4,641.0 L2103.4,623.0 L2103.4,604.9 L2103.4,586.9 L2103.4,568.9 L2103.4,550.8 L2103.4,532.8 L2103.4,514.8 L2103.4,496.7 L2103.4,478.7 L2103.4,460.7 L2103.4,442.6 L2103.4,424.6 L2103.4,406.6 L2103.4,388.5 L2103.4,370.5 L2103.4,352.5 L2103.4,334.5 L2103.4,316.4 L2103.4,298.4 L2103.4,280.4 L2103.4,262.3 L2103.4,244.3 L2103.4,226.3 L2103.4,208.2 L2103.4,190.2 L2103.4,172.2 L2103.4,154.1 L2103.4,149.0 L2100.2,136.1 L2096.1,118.1 L2092.3,100.0 L2088.7,82.0 L2087.7,82.0 L2072.0,82.0 L2056.3,82.0 L2040.6,82.0 L2024.9,82.0 L2009.3,82.0 L1993.6,82.0 L1977.9,82.0 L1962.2,82.0 L1946.5,82.0 L1930.8,82.0 L1915.1,82.0 L1899.4,82.0 L1883.7,82.0 L1868.0,82.0 L1852.4,82.0 L1836.7,82.0 L1821.0,82.0 L1805.3,82.0 L1789.6,82.0 L1773.9,82.0 L1758.2,82.0 L1742.5,82.0 L1726.8,82.0 L1711.1,82.0 L1695.5,82.0 L1679.8,82.0 L1664.1,82.0 L1648.4,82.0 L1632.7,82.0 L1617.0,82.0 L1617.0,100.0 L1617.0,118.1 L1617.0,136.1 L1617.0,154.1 L1617.0,172.2 L1617.0,190.2 L1617.0,208.2 L1617.0,226.3 L1617.0,244.3 L1617.0,262.3 L1617.0,280.4 L1617.0,298.4 L1617.0,316.4 L1617.0,334.5 L1617.0,352.5 L1617.0,370.5 L1617.0,388.5 L1617.0,406.6 L1617.0,424.6 L1617.0,442.6 L1617.0,460.7 L1617.0,478.7 L1617.0,496.7 L1617.0,514.8 L1617.0,532.8 L1617.0,550.8 L1617.0,568.9 L1617.0,586.9 L1617.0,604.9 L1617.0,623.0 L1617.0,641.0Z" fill="#4537d5" fill-rule="evenodd"/>
<path d="M1617.0,641.0 L1632.7,641.0 L1648.4,641.0 L1664.1,641.0 L1679.8,641.0 L1695.5,641.0 L1711.1,641.0 L1726.8,641.0 L1742.5,641.0 L1758.2,641.0 L1773.9,641.0 L1789.6,641.0 L1805.3,641.0 L1821.0,641.0 L1836.7,641.0 L1852.4,641.0 L1868.0,641.0 L1883.7,641.0 L1899.4,641.0 L1915.1,641.0 L1930.8,641.0 L1946.5,641.0 L1962.2,641.0 L1977.9,641.0 L1993.6,641.0 L2009.3,641.0 L2024.9,641.0 L2040.6,641.0 L2056.3,641.0 L2072.0,641.0 L2087.7,641.0 L2103.4,641.0 L2103.4,623.0 L2103.4,604.9 L2103.4,586.9 L2103.4,568.9 L2103.4,550.8 L2103.4,532.8 L2103.4,514.8 L2103.4,496.7 L2103.4,478.7 L2103.4,460.7 L2103.4,442.6 L2103.4,424.6 L2103.4,406.6 L2103.4,388.5 L2103.4,370.5 L2103.4,352.5 L2103.4,334.5 L2103.4,316.4 L2103.4,298.4 L2103.4,280.4 L2103.4,262.3 L2103.4,244.3 L2103.4,226.3 L2103.4,208.2 L2103.4,201.9 L2099.9,190.2 L2094.8,172.2 L2090.1,154.1 L2087.7,144.5 L2085.6,136.1 L2081.3,118.1 L2077.3,100.0 L2073.6,82.0 L2072.0,82.0 L2056.3,82.0 L2040.6,82.0 L2024.9,82.0 L2009.3,82.0 L1993.6,82.0 L1977.9,82.0 L1962.2,82.0 L1946.5,82.0 L1930.8,82.0 L1915.1,82.0 L1899.4,82.0 L1883.7,82.0 L1868.0,82.0 L1852.4,82.0 L1836.7,82.0 L1821.0,82.0 L1805.3,82.0 L1789.6,82.0 L1773.9,82.0 L1758.2,82.0 L1742.5,82.0 L1726.8,82.0 L1711.1,82.0 L1695.5,82.0 L1679.8,82.0 L1664.1,82.0 L1648.4,82.0 L1632.7,82.0 L1617.0,82.0 L1617.0,100.0 L1617.0,118.1 L1617.0,136.1 L1617.0,154.1 L1617.0,172.2 L1617.0,190.2 L1617.0,208.2 L1617.0,226.3 L1617.0,244.3 L1617.0,262.3 L1617.0,280.4 L1617.0,298.4 L1617.0,316.4 L1617.0,334.5 L1617.0,352.5 L1617.0,370.5 L1617.0,388.5 L1617.0,406.6 L1617.0,424.6 L1617.0,442.6 L1617.0,460.7 L1617.0,478.7 L1617.0,496.7 L1617.0,514.8 L1617.0,532.8 L1617.0,550.8 L1617.0,568.9 L1617.0,586.9 L1617.0,604.9 L1617.0,623.0 L1617.0,641.0Z" fill="#484df0" fill-rule="evenodd"/>
<path d="M1617.0,641.0 L1632.7,641.0 L1648.4,641.0 L1664.1,641.0 L1679.8,641.0 L1695.5,641.0 L1711.1,641.0 L1726.8,641.0 L1742.5,641.0 L1758.2,641.0 L1773.9,641.0 L1789.6,641.0 L1805.3,641.0 L1821.0,641.0 L1836.7,641.0 L1852.4,641.0 L1868.0,641.0 L1883.7,641.0 L1899.4,641.0 L1915.1,641.0 L1930.8,641.0 L1946.5,641.0 L1962.2,641.0 L1977.9,641.0 L1993.6,641.0 L2009.3,641.0 L2024.9,641.0 L2040.6,641.0 L2056.3,641.0 L2072.0,641.0 L2087.7,641.0 L2103.4,641.0 L2103.4,623.0 L2103.4,604.9 L2103.4,586.9 L2103.4,568.9 L2103.4,550.8 L2103.4,532.8 L2103.4,514.8 L2103.4,496.7 L2103.4,478.7 L2103.4,460.7 L2103.4,442.6 L2103.4,424.6 L2103.4,406.6 L2103.4,388.5 L2103.4,370.5 L2103.4,352.5 L2103.4,334.5 L2103.4,316.4 L2103.4,298.4 L2103.4,280.4 L2103.4,262.3 L2103.4,247.7 L2102.2,244.3 L2096.1,226.3 L2090.4,208.2 L2087.7,199.1 L2085.0,190.2 L2079.9,172.2 L2075.1,154.1 L2072.0,142.0 L2070.5,136.1 L2066.1,118.1 L2061.9,100.0 L2058.0,82.0 L2056.3,82.0 L2040.6,82.0 L2024.9,82.0 L2009.3,82.0 L1993.6,82.0 L1977.9,82.0 L1962.2,82.0 L1946.5,82.0 L1930.8,82.0 L1915.1,82.0 L1899.4,82.0 L1883.7,82.0 L1868.0,82.0 L1852.4,82.0 L1836.7,82.0 L1821.0,82.0 L1805.3,82.0 L1789.6,82.0 L1773.9,82.0 L1758.2,82.0 L1742.5,82.0 L1726.8,82.0 L1711.1,82.0 L1695.5,82.0 L1679.8,82.0 L1664.1,82.0 L1648.4,82.0 L1632.7,82.0 L1617.0,82.0 L1617.0,100.0 L1617.0,118.1 L1617.0,136.1 L1617.0,154.1 L1617.0,172.2 L1617.0,190.2 L1617.0,208.2 L1617.0,226.3 L1617.0,244.3 L1617.0,262.3 L1617.0,280.4 L1617.0,298.4 L1617.0,316.4 L1617.0,334.5 L1617.0,352.5 L1617.0,370.5 L1617.0,388.5 L1617.0,406.6 L1617.0,424.6 L1617.0,442.6 L1617.0,460.7 L1617.0,478.7 L1617.0,496.7 L1617.0,514.8 L1617.0,532.8 L1617.0,550.8 L1617.0,568.9 L1617.0,586.9 L1617.0,604.9 L1617.0,623.0 L1617.0,641.0Z" fill="#4563fd" fill-rule="evenodd"/>
<path d="M1617.0,641.0 L1632.7,641.0 L1648.4,641.0 L1664.1,641.0 L1679.8,641.0 L1695.5,641.0 L1711.1,641.0 L1726.8,641.0 L1742.5,641.0 L1758.2,641.0 L1773.9,641.0 L1789.6,641.0 L1805.3,641.0 L1821.0,641.0 L1836.7,641.0 L1852.4,641.0 L1868.0,641.0 L1883.7,641.0 L1899.4,641.0 L1915.1,641.0 L1930.8,641.0 L1946.5,641.0 L1962.2,641.0 L1977.9,641.0 L1993.6,641.0 L2009.3,641.0 L2024.9,641.0 L2040.6,641.0 L2056.3,641.0 L2072.0,641.0 L2087.7,641.0 L2103.4,641.0 L2103.4,623.0 L2103.4,604.9 L2103.4,586.9 L2103.4,568.9 L2103.4,550.8 L2103.4,532.8 L2103.4,514.8 L2103.4,496.7 L2103.4,478.7 L2103.4,460.7 L2103.4,442.6 L2103.4,424.6 L2103.4,406.6 L2103.4,388.5 L2103.4,370.5 L2103.4,352.5 L2103.4,334.5 L2103.4,316.4 L2103.4,298.4 L2103.4,289.2 L2099.9,280.4 L2093.1,262.3 L2087.7,246.8 L2086.8,244.3 L2080.8,226.3 L2075.1,208.2 L2072.0,197.9 L2069.7,190.2 L2064.5,172.2 L2059.6,154.1 L2056.3,141.6 L2054.9,136.1 L2050.3,118.1 L2045.9,100.0 L2041.8,82.0 L2040.6,82.0 L2024.9,82.0 L2009.3,82.0 L1993.6,82.0 L1977.9,82.0 L1962.2,82.0 L1946.5,82.0 L1930.8,82.0 L1915.1,82.0 L1899.4,82.0 L1883.7,82.0 L1868.0,82.0 L1852.4,82.0 L1836.7,82.0 L1821.0,82.0 L1805.3,82.0 L1789.6,82.0 L1773.9,82.0 L1758.2,82.0 L1742.5,82.0 L1726.8,82.0 L1711.1,82.0 L1695.5,82.0 L1679.8,82.0 L1664.1,82.0 L1648.4,82.0 L1632.7,82.0 L1617.0,82.0 L1617.0,100.0 L1617.0,118.1 L1617.0,136.1 L1617.0,154.1 L1617.0,172.2 L1617.0,190.2 L1617.0,208.2 L1617.0,226.3 L1617.0,244.3 L1617.0,262.3 L1617.0,280.4 L1617.0,298.4 L1617.0,316.4 L1617.0,334.5 L1617.0,352.5 L1617.0,370.5 L1617.0,388.5 L1617.0,406.6 L1617.0,424.6 L1617.0,442.6 L1617.0,460.7 L1617.0,478.7 L1617.0,496.7 L1617.0,514.8 L1617.0,532.8 L1617.0,550.8 L1617.0,568.9 L1617.0,586.9 L1617.0,604.9 L1617.0,623.0 L1617.0,641.0Z" fill="#2f81fa" fill-rule="evenodd"/>
<path d="M1617.0,641.0 L1632.7,641.0 L1648.4,641.0 L1664.1,641.0 L1679.8,641.0 L1695.5,641.0 L1711.1,641.0 L1726.8,641.0 L1742.5,641.0 L1758.2,641.0 L1773.9,641.0 L1789.6,641.0 L1805.3,641.0 L1821.0,641.0 L1836.7,641.0 L1852.4,641.0 L1868.0,641.0 L1883.7,641.0 L1899.4,641.0 L1915.1,641.0 L1930.8,641.0 L1946.5,641.0 L1962.2,641.0 L1977.9,641.0 L1993.6,641.0 L2009.3,641.0 L2024.9,641.0 L2040.6,641.0 L2056.3,641.0 L2072.0,641.0 L2087.7,641.0 L2103.4,641.0 L2103.4,623.0 L2103.4,604.9 L2103.4,586.9 L2103.4,568.9 L2103.4,550.8 L2103.4,532.8 L2103.4,514.8 L2103.4,496.7 L2103.4,478.7 L2103.4,460.7 L2103.4,442.6 L2103.4,424.6 L2103.4,406.6 L2103.4,388.5 L2103.4,370.5 L2103.4,352.5 L2103.4,334.5 L2103.4,327.9 L2098.3,316.4 L2090.9,298.4 L2087.7,290.3 L2083.8,280.4 L2077.2,262.3 L2072.0,247.4 L2070.9,244.3 L2064.9,226.3 L2059.2,208.2 L2056.3,198.5 L2053.8,190.2 L2048.5,172.2 L2043.5,154.1 L2040.6,143.5 L2038.6,136.1 L2033.8,118.1 L2029.3,100.0 L2024.9,82.3 L2024.9,82.0 L2009.3,82.0 L1993.6,82.0 L1977.9,82.0 L1962.2,82.0 L1946.5,82.0 L1930.8,82.0 L1915.1,82.0 L1899.4,82.0 L1883.7,82.0 L1868.0,82.0 L1852.4,82.0 L1836.7,82.0 L1821.0,82.0 L1805.3,82.0 L1789.6,82.0 L1773.9,82.0 L1758.2,82.0 L1742.5,82.0 L1726.8,82.0 L1711.1,82.0 L1695.5,82.0 L1679.8,82.0 L1664.1,82.0 L1648.4,82.0 L1632.7,82.0 L1617.0,82.0 L1617.0,100.0 L1617.0,118.1 L1617.0,136.1 L1617.0,154.1 L1617.0,172.2 L1617.0,190.2 L1617.0,208.2 L1617.0,226.3 L1617.0,244.3 L1617.0,262.3 L1617.0,280.4 L1617.0,298.4 L1617.0,316.4 L1617.0,334.5 L1617.0,352.5 L1617.0,370.5 L1617.0,388.5 L1617.0,406.6 L1617.0,424.6 L1617.0,442.6 L1617.0,460.7 L1617.0,478.7 L1617.0,496.7 L1617.0,514.8 L1617.0,532.8 L1617.0,550.8 L1617.0,568.9 L1617.0,586.9 L1617.0,604.9 L1617.0,623.0 L1617.0,641.0Z" fill="#2797eb" fill-rule="evenodd"/>
<path d="M1617.0,641.0 L1632.7,641.0 L1648.4,641.0 L1664.1,641.0 L1679.8,641.0 L1695.5,641.0 L1711.1,641.0 L1726.8,641.0 L1742.5,641.0 L1758.2,641.0 L1773.9,641.0 L1789.6,641.0 L1805.3,641.0 L1821.0,641.0 L1836.7,641.0 L1852.4,641.0 L1868.0,641.0 L1883.7,641.0 L1899.4,641.0 L1915.1,641.0 L1930.8,641.0 L1946.5,641.0 L1962.2,641.0 L1977.9,641.0 L1993.6,641.0 L2009.3,641.0 L2024.9,641.0 L2040.6,641.0 L2056.3,641.0 L2072.0,641.0 L2087.7,641.0 L2103.4,641.0 L2103.4,623.0 L2103.4,604.9 L2103.4,586.9 L2103.4,568.9 L2103.4,550.8 L2103.4,532.8 L2103.4,514.8 L2103.4,496.7 L2103.4,478.7 L2103.4,460.7 L2103.4,442.6 L2103.4,424.6 L2103.4,406.6 L2103.4,388.5 L2103.4,370.5 L2103.4,364.6 L2097.4,352.5 L2089.2,334.5 L2087.7,331.0 L2081.4,316.4 L2074.1,298.4 L2072.0,292.8 L2067.2,280.4 L2060.7,262.3 L2056.3,249.7 L2054.4,244.3 L2048.4,226.3 L2042.7,208.2 L2040.6,201.3 L2037.2,190.2 L2031.8,172.2 L2026.6,154.1 L2024.9,148.0 L2021.5,136.1 L2016.5,118.1 L2011.7,100.0 L2009.3,90.5 L2006.9,82.0 L1993.6,82.0 L1977.9,82.0 L1962.2,82.0 L1946.5,82.0 L1930.8,82.0 L1915.1,82.0 L1899.4,82.0 L1883.7,82.0 L1868.0,82.0 L1852.4,82.0 L1836.7,82.0 L1821.0,82.0 L1805.3,82.0 L1789.6,82.0 L1773.9,82.0 L1758.2,82.0 L1742.5,82.0 L1726.8,82.0 L1711.1,82.0 L1695.5,82.0 L1679.8,82.0 L1664.1,82.0 L1648.4,82.0 L1632.7,82.0 L1617.0,82.0 L1617.0,100.0 L1617.0,118.1 L1617.0,136.1 L1617.0,154.1 L1617.0,172.2 L1617.0,190.2 L1617.0,208.2 L1617.0,226.3 L1617.0,244.3 L1617.0,262.3 L1617.0,280.4 L1617.0,298.4 L1617.0,316.4 L1617.0,334.5 L1617.0,352.5 L1617.0,370.5 L1617.0,388.5 L1617.0,406.6 L1617.0,424.6 L1617.0,442.6 L1617.0,460.7 L1617.0,478.7 L1617.0,496.7 L1617.0,514.8 L1617.0,532.8 L1617.0,550.8 L1617.0,568.9 L1617.0,586.9 L1617.0,604.9 L1617.0,623.0 L1617.0,641.0Z" fill="#1ca9df" fill-rule="evenodd"/>
<path d="M1617.0,641.0 L1632.7,641.0 L1648.4,641.0 L1664.1,641.0 L1679.8,641.0 L1695.5,641.0 L1711.1,641.0 L1726.8,641.0 L1742.5,641.0 L1758.2,641.0 L1773.9,641.0 L1789.6,641.0 L1805.3,641.0 L1821.0,641.0 L1836.7,641.0 L1852.4,641.0 L1868.0,641.0 L1883.7,641.0 L1899.4,641.0 L1915.1,641.0 L1930.8,641.0 L1946.5,641.0 L1962.2,641.0 L1977.9,641.0 L1993.6,641.0 L2009.3,641.0 L2024.9,641.0 L2040.6,641.0 L2056.3,641.0 L2072.0,641.0 L2087.7,641.0 L2103.4,641.0 L2103.4,623.0 L2103.4,604.9 L2103.4,586.9 L2103.4,568.9 L2103.4,550.8 L2103.4,532.8 L2103.4,514.8 L2103.4,496.7 L2103.4,478.7 L2103.4,460.7 L2103.4,442.6 L2103.4,424.6 L2103.4,406.6 L2103.4,400.0 L2097.1,388.5 L2088.0,370.5 L2087.7,370.0 L2079.3,352.5 L2072.0,335.9 L2071.4,334.5 L2063.8,316.4 L2056.7,298.4 L2056.3,297.3 L2049.9,280.4 L2043.4,262.3 L2040.6,254.1 L2037.2,244.3 L2031.2,226.3 L2025.4,208.2 L2024.9,206.6 L2019.7,190.2 L2014.2,172.2 L2009.3,155.3 L2008.9,154.1 L2003.5,136.1 L1998.3,118.1 L1993.6,101.4 L1993.2,100.0 L1987.9,82.0 L1977.9,82.0 L1962.2,82.0 L1946.5,82.0 L1930.8,82.0 L1915.1,82.0 L1899.4,82.0 L1883.7,82.0 L1868.0,82.0 L1852.4,82.0 L1836.7,82.0 L1821.0,82.0 L1805.3,82.0 L1789.6,82.0 L1773.9,82.0 L1758.2,82.0 L1742.5,82.0 L1726.8,82.0 L1711.1,82.0 L1695.5,82.0 L1679.8,82.0 L1664.1,82.0 L1648.4,82.0 L1632.7,82.0 L1617.0,82.0 L1617.0,100.0 L1617.0,118.1 L1617.0,136.1 L1617.0,154.1 L1617.0,172.2 L1617.0,190.2 L1617.0,208.2 L1617.0,226.3 L1617.0,244.3 L1617.0,262.3 L1617.0,280.4 L1617.0,298.4 L1617.0,316.4 L1617.0,334.5 L1617.0,352.5 L1617.0,370.5 L1617.0,388.5 L1617.0,406.6 L1617.0,424.6 L1617.0,442.6 L1617.0,460.7 L1617.0,478.7 L1617.0,496.7 L1617.0,514.8 L1617.0,532.8 L1617.0,550.8 L1617.0,568.9 L1617.0,586.9 L1617.0,604.9 L1617.0,623.0 L1617.0,641.0Z" fill="#01b8ca" fill-rule="evenodd"/>
<path d="M1617.0,641.0 L1632.7,641.0 L1648.4,641.0 L1664.1,641.0 L1679.8,641.0 L1695.5,641.0 L1711.1,641.0 L1726.8,641.0 L1742.5,641.0 L1758.2,641.0 L1773.9,641.0 L1789.6,641.0 L1805.3,641.0 L1821.0,641.0 L1836.7,641.0 L1852.4,641.0 L1868.0,641.0 L1883.7,641.0 L1899.4,641.0 L1915.1,641.0 L1930.8,641.0 L1946.5,641.0 L1962.2,641.0 L1977.9,641.0 L1993.6,641.0 L2009.3,641.0 L2024.9,641.0 L2040.6,641.0 L2056.3,641.0 L2072.0,641.0 L2087.7,641.0 L2103.4,641.0 L2103.4,623.0 L2103.4,604.9 L2103.4,586.9 L2103.4,568.9 L2103.4,550.8 L2103.4,532.8 L2103.4,514.8 L2103.4,496.7 L2103.4,478.7 L2103.4,460.7 L2103.4,442.6 L2103.4,434.5 L2097.3,424.6 L2087.7,407.7 L2087.1,406.6 L2077.5,388.5 L2072.0,377.2 L2068.7,370.5 L2060.5,352.5 L2056.3,342.7 L2052.8,334.5 L2045.4,316.4 L2040.6,304.0 L2038.4,298.4 L2031.7,280.4 L2025.3,262.3 L2024.9,261.2 L2019.0,244.3 L2013.0,226.3 L2009.3,214.6 L2007.1,208.2 L2001.3,190.2 L1995.6,172.2 L1993.6,165.4 L1990.0,154.1 L1984.3,136.1 L1978.8,118.1 L1977.9,115.0 L1973.1,100.0 L1967.4,82.0 L1962.2,82.0 L1946.5,82.0 L1930.8,82.0 L1915.1,82.0 L1899.4,82.0 L1883.7,82.0 L1868.0,82.0 L1852.4,82.0 L1836.7,82.0 L1821.0,82.0 L1805.3,82.0 L1789.6,82.0 L1773.9,82.0 L1758.2,82.0 L1742.5,82.0 L1726.8,82.0 L1711.1,82.0 L1695.5,82.0 L1679.8,82.0 L1664.1,82.0 L1648.4,82.0 L1632.7,82.0 L1617.0,82.0 L1617.0,100.0 L1617.0,118.1 L1617.0,136.1 L1617.0,154.1 L1617.0,172.2 L1617.0,190.2 L1617.0,208.2 L1617.0,226.3 L1617.0,244.3 L1617.0,262.3 L1617.0,280.4 L1617.0,298.4 L1617.0,316.4 L1617.0,334.5 L1617.0,352.5 L1617.0,370.5 L1617.0,388.5 L1617.0,406.6 L1617.0,424.6 L1617.0,442.6 L1617.0,460.7 L1617.0,478.7 L1617.0,496.7 L1617.0,514.8 L1617.0,532.8 L1617.0,550.8 L1617.0,568.9 L1617.0,586.9 L1617.0,604.9 L1617.0,623.0 L1617.0,641.0Z" fill="#2cc4a7" fill-rule="evenodd"/>
<path d="M1617.0,641.0 L1632.7,641.0 L1648.4,641.0 L1664.1,641.0 L1679.8,641.0 L1695.5,641.0 L1711.1,641.0 L1726.8,641.0 L1742.5,641.0 L1758.2,641.0 L1773.9,641.0 L1789.6,641.0 L1805.3,641.0 L1821.0,641.0 L1836.7,641.0 L1852.4,641.0 L1868.0,641.0 L1883.7,641.0 L1899.4,641.0 L1915.1,641.0 L1930.8,641.0 L1946.5,641.0 L1962.2,641.0 L1977.9,641.0 L1993.6,641.0 L2009.3,641.0 L2024.9,641.0 L2040.6,641.0 L2056.3,641.0 L2072.0,641.0 L2087.7,641.0 L2103.4,641.0 L2103.4,623.0 L2103.4,604.9 L2103.4,586.9 L2103.4,568.9 L2103.4,550.8 L2103.4,532.8 L2103.4,514.8 L2103.4,496.7 L2103.4,478.7 L2103.4,468.4 L2098.0,460.7 L2087.7,444.8 L2086.4,442.6 L2075.8,424.6 L2072.0,417.7 L2066.0,406.6 L2057.1,388.5 L2056.3,387.0 L2048.6,370.5 L2040.7,352.5 L2040.6,352.3 L2033.1,334.5 L2026.0,316.4 L2024.9,313.6 L2019.1,298.4 L2012.5,280.4 L2009.3,271.2 L2006.1,262.3 L1999.7,244.3 L1993.7,226.3 L1993.6,225.9 L1987.5,208.2 L1981.5,190.2 L1977.9,178.8 L1975.6,172.2 L1969.5,154.1 L1963.6,136.1 L1962.2,131.7 L1957.4,118.1 L1951.2,100.0 L1946.5,86.1 L1945.0,82.0 L1930.8,82.0 L1915.1,82.0 L1899.4,82.0 L1883.7,82.0 L1868.0,82.0 L1852.4,82.0 L1836.7,82.0 L1821.0,82.0 L1805.3,82.0 L1789.6,82.0 L1773.9,82.0 L1758.2,82.0 L1742.5,82.0 L1726.8,82.0 L1711.1,82.0 L1695.5,82.0 L1679.8,82.0 L1664.1,82.0 L1648.4,82.0 L1632.7,82.0 L1617.0,82.0 L1617.0,100.0 L1617.0,118.1 L1617.0,136.1 L1617.0,154.1 L1617.0,172.2 L1617.0,190.2 L1617.0,208.2 L1617.0,226.3 L1617.0,244.3 L1617.0,262.3 L1617.0,280.4 L1617.0,298.4 L1617.0,316.4 L1617.0,334.5 L1617.0,352.5 L1617.0,370.5 L1617.0,388.5 L1617.0,406.6 L1617.0,424.6 L1617.0,442.6 L1617.0,460.7 L1617.0,478.7 L1617.0,496.7 L1617.0,514.8 L1617.0,532.8 L1617.0,550.8 L1617.0,568.9 L1617.0,586.9 L1617.0,604.9 L1617.0,623.0 L1617.0,641.0Z" fill="#4acb84" fill-rule="evenodd"/>
<path d="M1617.0,641.0 L1632.7,641.0 L1648.4,641.0 L1664.1,641.0 L1679.8,641.0 L1695.5,641.0 L1711.1,641.0 L1726.8,641.0 L1742.5,641.0 L1758.2,641.0 L1773.9,641.0 L1789.6,641.0 L1805.3,641.0 L1821.0,641.0 L1836.7,641.0 L1852.4,641.0 L1868.0,641.0 L1883.7,641.0 L1899.4,641.0 L1915.1,641.0 L1930.8,641.0 L1946.5,641.0 L1962.2,641.0 L1977.9,641.0 L1993.6,641.0 L2009.3,641.0 L2024.9,641.0 L2040.6,641.0 L2056.3,641.0 L2072.0,641.0 L2087.7,641.0 L2103.4,641.0 L2103.4,623.0 L2103.4,604.9 L2103.4,586.9 L2103.4,568.9 L2103.4,550.8 L2103.4,532.8 L2103.4,514.8 L2103.4,502.2 L2099.0,496.7 L2087.7,481.5 L2085.7,478.7 L2073.8,460.7 L2072.0,457.8 L2062.9,442.6 L2056.3,430.7 L2053.0,424.6 L2043.9,406.6 L2040.6,399.8 L2035.3,388.5 L2027.2,370.5 L2024.9,365.1 L2019.6,352.5 L2012.3,334.5 L2009.3,326.6 L2005.3,316.4 L1998.5,298.4 L1993.6,284.8 L1991.9,280.4 L1985.3,262.3 L1979.1,244.3 L1977.9,240.8 L1972.6,226.3 L1966.4,208.2 L1962.2,196.0 L1960.1,190.2 L1953.6,172.2 L1947.3,154.1 L1946.5,151.9 L1940.6,136.1 L1933.8,118.1 L1930.8,109.9 L1926.8,100.0 L1919.5,82.0 L1915.1,82.0 L1899.4,82.0 L1883.7,82.0 L1868.0,82.0 L1852.4,82.0 L1836.7,82.0 L1821.0,82.0 L1805.3,82.0 L1789.6,82.0 L1773.9,82.0 L1758.2,82.0 L1742.5,82.0 L1726.8,82.0 L1711.1,82.0 L1695.5,82.0 L1679.8,82.0 L1664.1,82.0 L1648.4,82.0 L1632.7,82.0 L1618.0,82.0 L1617.0,85.2 L1617.0,100.0 L1617.0,118.1 L1617.0,136.1 L1617.0,154.1 L1617.0,172.2 L1617.0,190.2 L1617.0,208.2 L1617.0,226.3 L1617.0,244.3 L1617.0,262.3 L1617.0,280.4 L1617.0,298.4 L1617.0,316.4 L1617.0,334.5 L1617.0,352.5 L1617.0,370.5 L1617.0,388.5 L1617.0,406.6 L1617.0,424.6 L1617.0,442.6 L1617.0,460.7 L1617.0,478.7 L1617.0,496.7 L1617.0,514.8 L1617.0,532.8 L1617.0,550.8 L1617.0,568.9 L1617.0,586.9 L1617.0,604.9 L1617.0,623.0 L1617.0,641.0Z" fill="#81cc59" fill-rule="evenodd"/>
<path d="M1617.0,641.0 L1632.7,641.0 L1648.4,641.0 L1664.1,641.0 L1679.8,641.0 L1695.5,641.0 L1711.1,641.0 L1726.8,641.0 L1742.5,641.0 L1758.2,641.0 L1773.9,641.0 L1789.6,641.0 L1805.3,641.0 L1821.0,641.0 L1836.7,641.0 L1852.4,641.0 L1868.0,641.0 L1883.7,641.0 L1899.4,641.0 L1915.1,641.0 L1930.8,641.0 L1946.5,641.0 L1962.2,641.0 L1977.9,641.0 L1993.6,641.0 L2009.3,641.0 L2024.9,641.0 L2040.6,641.0 L2056.3,641.0 L2072.0,641.0 L2087.7,641.0 L2103.4,641.0 L2103.4,623.0 L2103.4,604.9 L2103.4,586.9 L2103.4,568.9 L2103.4,550.8 L2103.4,536.0 L2100.3,532.8 L2087.7,518.4 L2084.7,514.8 L2072.0,498.1 L2071.0,496.7 L2058.9,478.7 L2056.3,474.6 L2047.9,460.7 L2040.6,447.6 L2037.9,442.6 L2028.7,424.6 L2024.9,416.8 L2020.0,406.6 L2012.0,388.5 L2009.3,382.2 L2004.2,370.5 L1996.9,352.5 L1993.6,344.0 L1989.7,334.5 L1982.8,316.4 L1977.9,303.0 L1976.1,298.4 L1969.4,280.4 L1962.9,262.3 L1962.2,260.4 L1956.2,244.3 L1949.6,226.3 L1946.5,217.6 L1942.9,208.2 L1936.1,190.2 L1930.8,176.1 L1929.2,172.2 L1921.9,154.1 L1915.1,137.4 L1914.6,136.1 L1906.5,118.1 L1899.4,102.2 L1898.4,100.0 L1889.3,82.0 L1883.7,82.0 L1868.0,82.0 L1852.4,82.0 L1836.7,82.0 L1821.0,82.0 L1805.3,82.0 L1789.6,82.0 L1773.9,82.0 L1758.2,82.0 L1742.5,82.0 L1726.8,82.0 L1711.1,82.0 L1695.5,82.0 L1679.8,82.0 L1664.1,82.0 L1648.4,82.0 L1647.8,82.0 L1641.1,100.0 L1634.5,118.1 L1632.7,123.3 L1628.7,136.1 L1623.2,154.1 L1617.8,172.2 L1617.0,174.9 L1617.0,190.2 L1617.0,208.2 L1617.0,226.3 L1617.0,244.3 L1617.0,262.3 L1617.0,280.4 L1617.0,298.4 L1617.0,316.4 L1617.0,334.5 L1617.0,352.5 L1617.0,370.5 L1617.0,388.5 L1617.0,406.6 L1617.0,424.6 L1617.0,442.6 L1617.0,460.7 L1617.0,478.7 L1617.0,496.7 L1617.0,514.8 L1617.0,532.8 L1617.0,550.8 L1617.0,568.9 L1617.0,586.9 L1617.0,604.9 L1617.0,623.0 L1617.0,641.0Z" fill="#b9c431" fill-rule="evenodd"/>
<path d="M1617.0,641.0 L1632.7,641.0 L1648.4,641.0 L1664.1,641.0 L1679.8,641.0 L1695.5,641.0 L1711.1,641.0 L1726.8,641.0 L1742.5,641.0 L1758.2,641.0 L1773.9,641.0 L1789.6,641.0 L1805.3,641.0 L1821.0,641.0 L1836.7,641.0 L1852.4,641.0 L1868.0,641.0 L1883.7,641.0 L1899.4,641.0 L1915.1,641.0 L1930.8,641.0 L1946.5,641.0 L1962.2,641.0 L1977.9,641.0 L1993.6,641.0 L2009.3,641.0 L2024.9,641.0 L2040.6,641.0 L2056.3,641.0 L2072.0,641.0 L2087.7,641.0 L2103.4,641.0 L2103.4,623.0 L2103.4,604.9 L2103.4,586.9 L2103.4,570.3 L2101.7,568.9 L2087.7,555.9 L2082.7,550.8 L2072.0,539.0 L2066.7,532.8 L2056.3,519.4 L2052.9,514.8 L2040.8,496.7 L2040.6,496.5 L2029.8,478.7 L2024.9,470.0 L2019.8,460.7 L2010.7,442.6 L2009.3,439.5 L2002.1,424.6 L1994.2,406.6 L1993.6,405.2 L1986.4,388.5 L1979.1,370.5 L1977.9,367.4 L1971.8,352.5 L1964.9,334.5 L1962.2,327.2 L1958.0,316.4 L1951.2,298.4 L1946.5,285.8 L1944.4,280.4 L1937.4,262.3 L1930.8,244.8 L1930.6,244.3 L1923.3,226.3 L1916.1,208.2 L1915.1,205.7 L1908.3,190.2 L1900.5,172.2 L1899.4,169.7 L1891.8,154.1 L1883.7,137.5 L1882.9,136.1 L1872.9,118.1 L1868.0,109.6 L1861.8,100.0 L1852.4,85.8 L1849.3,82.0 L1836.7,82.0 L1821.0,82.0 L1805.3,82.0 L1789.6,82.0 L1773.9,82.0 L1758.2,82.0 L1742.5,82.0 L1726.8,82.0 L1711.1,82.0 L1695.5,82.0 L1687.9,82.0 L1679.8,94.9 L1677.1,100.0 L1668.0,118.1 L1664.1,126.4 L1660.1,136.1 L1652.9,154.1 L1648.4,166.1 L1646.3,172.2 L1640.4,190.2 L1634.7,208.2 L1632.7,214.9 L1629.5,226.3 L1624.6,244.3 L1619.8,262.3 L1617.0,272.8 L1617.0,280.4 L1617.0,298.4 L1617.0,316.4 L1617.0,334.5 L1617.0,352.5 L1617.0,370.5 L1617.0,388.5 L1617.0,406.6 L1617.0,424.6 L1617.0,442.6 L1617.0,460.7 L1617.0,478.7 L1617.0,496.7 L1617.0,514.8 L1617.0,532.8 L1617.0,550.8 L1617.0,568.9 L1617.0,586.9 L1617.0,604.9 L1617.0,623.0 L1617.0,641.0Z" fill="#f0ba36" fill-rule="evenodd"/>
<path d="M1617.0,641.0 L1632.7,641.0 L1648.4,641.0 L1664.1,641.0 L1679.8,641.0 L1695.5,641.0 L1711.1,641.0 L1726.8,641.0 L1742.5,641.0 L1758.2,641.0 L1773.9,641.0 L1789.6,641.0 L1805.3,641.0 L1821.0,641.0 L1836.7,641.0 L1852.4,641.0 L1868.0,641.0 L1883.7,641.0 L1899.4,641.0 L1915.1,641.0 L1930.8,641.0 L1946.5,641.0 L1962.2,641.0 L1977.9,641.0 L1993.6,641.0 L2009.3,641.0 L2024.9,641.0 L2040.6,641.0 L2056.3,641.0 L2072.0,641.0 L2087.7,641.0 L2103.4,641.0 L2103.4,623.0 L2103.4,605.3 L2102.8,604.9 L2087.7,594.3 L2078.4,586.9 L2072.0,581.3 L2059.1,568.9 L2056.3,565.9 L2043.2,550.8 L2040.6,547.7 L2029.5,532.8 L2024.9,526.0 L2017.6,514.8 L2009.3,500.5 L2007.1,496.7 L1997.5,478.7 L1993.6,470.8 L1988.6,460.7 L1980.4,442.6 L1977.9,436.9 L1972.5,424.6 L1965.0,406.6 L1962.2,399.5 L1957.7,388.5 L1950.6,370.5 L1946.5,359.8 L1943.6,352.5 L1936.6,334.5 L1930.8,319.2 L1929.7,316.4 L1922.4,298.4 L1915.4,280.4 L1915.1,279.7 L1907.7,262.3 L1900.1,244.3 L1899.4,242.6 L1891.8,226.3 L1883.7,209.0 L1883.3,208.2 L1873.7,190.2 L1868.0,179.5 L1863.5,172.2 L1852.4,154.4 L1852.2,154.1 L1838.5,136.1 L1836.7,133.7 L1821.6,118.1 L1821.0,117.4 L1805.3,105.5 L1794.2,100.0 L1789.6,97.8 L1773.9,94.3 L1758.2,95.1 L1743.9,100.0 L1742.5,100.5 L1726.8,110.9 L1719.6,118.1 L1711.1,126.8 L1704.4,136.1 L1695.5,149.0 L1692.6,154.1 L1683.0,172.2 L1679.8,178.5 L1674.8,190.2 L1667.4,208.2 L1664.1,216.7 L1660.8,226.3 L1654.8,244.3 L1649.1,262.3 L1648.4,264.7 L1644.1,280.4 L1639.3,298.4 L1634.6,316.4 L1632.7,324.0 L1630.3,334.5 L1626.2,352.5 L1622.2,370.5 L1618.2,388.5 L1617.0,394.1 L1617.0,406.6 L1617.0,424.6 L1617.0,442.6 L1617.0,460.7 L1617.0,478.7 L1617.0,496.7 L1617.0,514.8 L1617.0,532.8 L1617.0,550.8 L1617.0,568.9 L1617.0,586.9 L1617.0,604.9 L1617.0,623.0 L1617.0,641.0Z" fill="#fec934" fill-rule="evenodd"/>
<path d="M1632.4,641.0 L1632.7,641.0 L1648.4,641.0 L1664.1,641.0 L1679.8,641.0 L1695.5,641.0 L1711.1,641.0 L1726.8,641.0 L1742.5,641.0 L1758.2,641.0 L1773.9,641.0 L1789.6,641.0 L1805.3,641.0 L1821.0,641.0 L1836.7,641.0 L1852.4,641.0 L1868.0,641.0 L1883.7,641.0 L1899.4,641.0 L1915.1,641.0 L1930.8,641.0 L1946.5,641.0 L1962.2,641.0 L1977.9,641.0 L1993.6,641.0 L2009.3,641.0 L2024.9,641.0 L2040.6,641.0 L2056.3,641.0 L2072.0,641.0 L2087.7,641.0 L2102.3,641.0 L2087.7,634.3 L2072.0,625.6 L2067.6,623.0 L2056.3,615.3 L2043.2,604.9 L2040.6,602.7 L2024.9,587.2 L2024.6,586.9 L2009.7,568.9 L2009.3,568.3 L1997.1,550.8 L1993.6,545.1 L1986.3,532.8 L1977.9,516.9 L1976.8,514.8 L1967.9,496.7 L1962.2,483.8 L1959.9,478.7 L1952.2,460.7 L1946.5,446.5 L1944.9,442.6 L1937.7,424.6 L1930.9,406.6 L1930.8,406.4 L1923.7,388.5 L1916.8,370.5 L1915.1,366.0 L1909.6,352.5 L1902.4,334.5 L1899.4,326.9 L1894.8,316.4 L1887.0,298.4 L1883.7,291.0 L1878.5,280.4 L1869.7,262.3 L1868.0,259.1 L1859.5,244.3 L1852.4,231.9 L1848.4,226.3 L1836.7,209.5 L1835.5,208.2 L1821.0,192.1 L1818.6,190.2 L1805.3,179.6 L1790.4,172.2 L1789.6,171.8 L1773.9,169.0 L1758.2,171.3 L1756.3,172.2 L1742.5,179.1 L1729.7,190.2 L1726.8,192.9 L1715.1,208.2 L1711.1,213.7 L1704.1,226.3 L1695.5,242.6 L1694.7,244.3 L1687.3,262.3 L1680.3,280.4 L1679.8,281.9 L1674.5,298.4 L1669.2,316.4 L1664.1,334.3 L1664.0,334.5 L1659.8,352.5 L1655.7,370.5 L1651.9,388.5 L1648.4,405.9 L1648.3,406.6 L1645.2,424.6 L1642.3,442.6 L1639.6,460.7 L1637.1,478.7 L1634.9,496.7 L1632.9,514.8 L1632.7,516.9 L1631.3,532.8 L1630.1,550.8 L1629.2,568.9 L1628.8,586.9 L1629.0,604.9 L1630.1,623.0 L1632.4,641.0Z" fill="#f5e327" fill-rule="evenodd"/>
<path d="M1718.9,623.0 L1726.8,632.3 L1735.8,641.0 L1742.5,641.0 L1758.2,641.0 L1773.9,641.0 L1789.6,641.0 L1805.3,641.0 L1821.0,641.0 L1836.7,641.0 L1852.4,641.0 L1868.0,641.0 L1883.7,641.0 L1899.4,641.0 L1915.1,641.0 L1930.8,641.0 L1946.5,641.0 L1962.2,641.0 L1977.9,641.0 L1993.6,641.0 L1995.3,641.0 L1993.6,639.6 L1977.9,624.4 L1976.7,623.0 L1963.7,604.9 L1962.2,602.5 L1953.4,586.9 L1946.5,572.0 L1945.1,568.9 L1937.5,550.8 L1930.9,532.8 L1930.8,532.6 L1924.2,514.8 L1918.0,496.7 L1915.1,488.2 L1911.8,478.7 L1905.5,460.7 L1899.4,442.6 L1899.4,442.6 L1892.7,424.6 L1886.1,406.6 L1883.7,400.2 L1878.9,388.5 L1871.4,370.5 L1868.0,362.5 L1863.2,352.5 L1854.4,334.5 L1852.4,330.5 L1843.9,316.4 L1836.7,304.6 L1831.9,298.4 L1821.0,284.7 L1816.1,280.4 L1805.3,271.0 L1789.6,263.1 L1780.8,262.3 L1773.9,261.7 L1771.9,262.3 L1758.2,267.1 L1742.5,279.8 L1742.1,280.4 L1729.2,298.4 L1726.8,302.0 L1719.8,316.4 L1711.9,334.5 L1711.1,336.4 L1706.0,352.5 L1700.8,370.5 L1696.2,388.5 L1695.5,392.1 L1692.7,406.6 L1689.9,424.6 L1687.6,442.6 L1685.9,460.7 L1684.8,478.7 L1684.5,496.7 L1684.9,514.8 L1686.4,532.8 L1688.9,550.8 L1692.8,568.9 L1695.5,578.0 L1698.6,586.9 L1707.0,604.9 L1711.1,612.0 L1718.9,623.0Z" fill="#f9fb15" fill-rule="evenodd"/>
<path d="M2103.4,149.0 L2100.2,136.1 L2096.1,118.1 L2092.3,100.0 L2088.7,82.0M2103.4,201.9 L2099.9,190.2 L2094.8,172.2 L2090.1,154.1 L2087.7,144.5 L2085.6,136.1 L2081.3,118.1 L2077.3,100.0 L2073.6,82.0M2103.4,247.7 L2102.2,244.3 L2096.1,226.3 L2090.4,208.2 L2087.7,199.1 L2085.0,190.2 L2079.9,172.2 L2075.1,154.1 L2072.0,142.0 L2070.5,136.1 L2066.1,118.1 L2061.9,100.0 L2058.0,82.0M2103.4,289.2 L2099.9,280.4 L2093.1,262.3 L2087.7,246.8 L2086.8,244.3 L2080.8,226.3 L2075.1,208.2 L2072.0,197.9 L2069.7,190.2 L2064.5,172.2 L2059.6,154.1 L2056.3,141.6 L2054.9,136.1 L2050.3,118.1 L2045.9,100.0 L2041.8,82.0M2103.4,327.9 L2098.3,316.4 L2090.9,298.4 L2087.7,290.3 L2083.8,280.4 L2077.2,262.3 L2072.0,247.4 L2070.9,244.3 L2064.9,226.3 L2059.2,208.2 L2056.3,198.5 L2053.8,190.2 L2048.5,172.2 L2043.5,154.1 L2040.6,143.5 L2038.6,136.1 L2033.8,118.1 L2029.3,100.0 L2024.9,82.3 L2024.9,82.0M2103.4,364.6 L2097.4,352.5 L2089.2,334.5 L2087.7,331.0 L2081.4,316.4 L2074.1,298.4 L2072.0,292.8 L2067.2,280.4 L2060.7,262.3 L2056.3,249.7 L2054.4,244.3 L2048.4,226.3 L2042.7,208.2 L2040.6,201.3 L2037.2,190.2 L2031.8,172.2 L2026.6,154.1 L2024.9,148.0 L2021.5,136.1 L2016.5,118.1 L2011.7,100.0 L2009.3,90.5 L2006.9,82.0M2103.4,400.0 L2097.1,388.5 L2088.0,370.5 L2087.7,370.0 L2079.3,352.5 L2072.0,335.9 L2071.4,334.5 L2063.8,316.4 L2056.7,298.4 L2056.3,297.3 L2049.9,280.4 L2043.4,262.3 L2040.6,254.1 L2037.2,244.3 L2031.2,226.3 L2025.4,208.2 L2024.9,206.6 L2019.7,190.2 L2014.2,172.2 L2009.3,155.3 L2008.9,154.1 L2003.5,136.1 L1998.3,118.1 L1993.6,101.4 L1993.2,100.0 L1987.9,82.0M2103.4,434.5 L2097.3,424.6 L2087.7,407.7 L2087.1,406.6 L2077.5,388.5 L2072.0,377.2 L2068.7,370.5 L2060.5,352.5 L2056.3,342.7 L2052.8,334.5 L2045.4,316.4 L2040.6,304.0 L2038.4,298.4 L2031.7,280.4 L2025.3,262.3 L2024.9,261.2 L2019.0,244.3 L2013.0,226.3 L2009.3,214.6 L2007.1,208.2 L2001.3,190.2 L1995.6,172.2 L1993.6,165.4 L1990.0,154.1 L1984.3,136.1 L1978.8,118.1 L1977.9,115.0 L1973.1,100.0 L1967.4,82.0M2103.4,468.4 L2098.0,460.7 L2087.7,444.8 L2086.4,442.6 L2075.8,424.6 L2072.0,417.7 L2066.0,406.6 L2057.1,388.5 L2056.3,387.0 L2048.6,370.5 L2040.7,352.5 L2040.6,352.3 L2033.1,334.5 L2026.0,316.4 L2024.9,313.6 L2019.1,298.4 L2012.5,280.4 L2009.3,271.2 L2006.1,262.3 L1999.7,244.3 L1993.7,226.3 L1993.6,225.9 L1987.5,208.2 L1981.5,190.2 L1977.9,178.8 L1975.6,172.2 L1969.5,154.1 L1963.6,136.1 L1962.2,131.7 L1957.4,118.1 L1951.2,100.0 L1946.5,86.1 L1945.0,82.0M2103.4,502.2 L2099.0,496.7 L2087.7,481.5 L2085.7,478.7 L2073.8,460.7 L2072.0,457.8 L2062.9,442.6 L2056.3,430.7 L2053.0,424.6 L2043.9,406.6 L2040.6,399.8 L2035.3,388.5 L2027.2,370.5 L2024.9,365.1 L2019.6,352.5 L2012.3,334.5 L2009.3,326.6 L2005.3,316.4 L1998.5,298.4 L1993.6,284.8 L1991.9,280.4 L1985.3,262.3 L1979.1,244.3 L1977.9,240.8 L1972.6,226.3 L1966.4,208.2 L1962.2,196.0 L1960.1,190.2 L1953.6,172.2 L1947.3,154.1 L1946.5,151.9 L1940.6,136.1 L1933.8,118.1 L1930.8,109.9 L1926.8,100.0 L1919.5,82.0M1618.0,82.0 L1617.0,85.2M2103.4,536.0 L2100.3,532.8 L2087.7,518.4 L2084.7,514.8 L2072.0,498.1 L2071.0,496.7 L2058.9,478.7 L2056.3,474.6 L2047.9,460.7 L2040.6,447.6 L2037.9,442.6 L2028.7,424.6 L2024.9,416.8 L2020.0,406.6 L2012.0,388.5 L2009.3,382.2 L2004.2,370.5 L1996.9,352.5 L1993.6,344.0 L1989.7,334.5 L1982.8,316.4 L1977.9,303.0 L1976.1,298.4 L1969.4,280.4 L1962.9,262.3 L1962.2,260.4 L1956.2,244.3 L1949.6,226.3 L1946.5,217.6 L1942.9,208.2 L1936.1,190.2 L1930.8,176.1 L1929.2,172.2 L1921.9,154.1 L1915.1,137.4 L1914.6,136.1 L1906.5,118.1 L1899.4,102.2 L1898.4,100.0 L1889.3,82.0M1647.8,82.0 L1641.1,100.0 L1634.5,118.1 L1632.7,123.3 L1628.7,136.1 L1623.2,154.1 L1617.8,172.2 L1617.0,174.9M2103.4,570.3 L2101.7,568.9 L2087.7,555.9 L2082.7,550.8 L2072.0,539.0 L2066.7,532.8 L2056.3,519.4 L2052.9,514.8 L2040.8,496.7 L2040.6,496.5 L2029.8,478.7 L2024.9,470.0 L2019.8,460.7 L2010.7,442.6 L2009.3,439.5 L2002.1,424.6 L1994.2,406.6 L1993.6,405.2 L1986.4,388.5 L1979.1,370.5 L1977.9,367.4 L1971.8,352.5 L1964.9,334.5 L1962.2,327.2 L1958.0,316.4 L1951.2,298.4 L1946.5,285.8 L1944.4,280.4 L1937.4,262.3 L1930.8,244.8 L1930.6,244.3 L1923.3,226.3 L1916.1,208.2 L1915.1,205.7 L1908.3,190.2 L1900.5,172.2 L1899.4,169.7 L1891.8,154.1 L1883.7,137.5 L1882.9,136.1 L1872.9,118.1 L1868.0,109.6 L1861.8,100.0 L1852.4,85.8 L1849.3,82.0M1687.9,82.0 L1679.8,94.9 L1677.1,100.0 L1668.0,118.1 L1664.1,126.4 L1660.1,136.1 L1652.9,154.1 L1648.4,166.1 L1646.3,172.2 L1640.4,190.2 L1634.7,208.2 L1632.7,214.9 L1629.5,226.3 L1624.6,244.3 L1619.8,262.3 L1617.0,272.8M2103.4,605.3 L2102.8,604.9 L2087.7,594.3 L2078.4,586.9 L2072.0,581.3 L2059.1,568.9 L2056.3,565.9 L2043.2,550.8 L2040.6,547.7 L2029.5,532.8 L2024.9,526.0 L2017.6,514.8 L2009.3,500.5 L2007.1,496.7 L1997.5,478.7 L1993.6,470.8 L1988.6,460.7 L1980.4,442.6 L1977.9,436.9 L1972.5,424.6 L1965.0,406.6 L1962.2,399.5 L1957.7,388.5 L1950.6,370.5 L1946.5,359.8 L1943.6,352.5 L1936.6,334.5 L1930.8,319.2 L1929.7,316.4 L1922.4,298.4 L1915.4,280.4 L1915.1,279.7 L1907.7,262.3 L1900.1,244.3 L1899.4,242.6 L1891.8,226.3 L1883.7,209.0 L1883.3,208.2 L1873.7,190.2 L1868.0,179.5 L1863.5,172.2 L1852.4,154.4 L1852.2,154.1 L1838.5,136.1 L1836.7,133.7 L1821.6,118.1 L1821.0,117.4 L1805.3,105.5 L1794.2,100.0 L1789.6,97.8 L1773.9,94.3 L1758.2,95.1 L1743.9,100.0 L1742.5,100.5 L1726.8,110.9 L1719.6,118.1 L1711.1,126.8 L1704.4,136.1 L1695.5,149.0 L1692.6,154.1 L1683.0,172.2 L1679.8,178.5 L1674.8,190.2 L1667.4,208.2 L1664.1,216.7 L1660.8,226.3 L1654.8,244.3 L1649.1,262.3 L1648.4,264.7 L1644.1,280.4 L1639.3,298.4 L1634.6,316.4 L1632.7,324.0 L1630.3,334.5 L1626.2,352.5 L1622.2,370.5 L1618.2,388.5 L1617.0,394.1M2102.3,641.0 L2087.7,634.3 L2072.0,625.6 L2067.6,623.0 L2056.3,615.3 L2043.2,604.9 L2040.6,602.7 L2024.9,587.2 L2024.6,586.9 L2009.7,568.9 L2009.3,568.3 L1997.1,550.8 L1993.6,545.1 L1986.3,532.8 L1977.9,516.9 L1976.8,514.8 L1967.9,496.7 L1962.2,483.8 L1959.9,478.7 L1952.2,460.7 L1946.5,446.5 L1944.9,442.6 L1937.7,424.6 L1930.9,406.6 L1930.8,406.4 L1923.7,388.5 L1916.8,370.5 L1915.1,366.0 L1909.6,352.5 L1902.4,334.5 L1899.4,326.9 L1894.8,316.4 L1887.0,298.4 L1883.7,291.0 L1878.5,280.4 L1869.7,262.3 L1868.0,259.1 L1859.5,244.3 L1852.4,231.9 L1848.4,226.3 L1836.7,209.5 L1835.5,208.2 L1821.0,192.1 L1818.6,190.2 L1805.3,179.6 L1790.4,172.2 L1789.6,171.8 L1773.9,169.0 L1758.2,171.3 L1756.3,172.2 L1742.5,179.1 L1729.7,190.2 L1726.8,192.9 L1715.1,208.2 L1711.1,213.7 L1704.1,226.3 L1695.5,242.6 L1694.7,244.3 L1687.3,262.3 L1680.3,280.4 L1679.8,281.9 L1674.5,298.4 L1669.2,316.4 L1664.1,334.3 L1664.0,334.5 L1659.8,352.5 L1655.7,370.5 L1651.9,388.5 L1648.4,405.9 L1648.3,406.6 L1645.2,424.6 L1642.3,442.6 L1639.6,460.7 L1637.1,478.7 L1634.9,496.7 L1632.9,514.8 L1632.7,516.9 L1631.3,532.8 L1630.1,550.8 L1629.2,568.9 L1628.8,586.9 L1629.0,604.9 L1630.1,623.0 L1632.4,641.0M1995.3,641.0 L1993.6,639.6 L1977.9,624.4 L1976.7,623.0 L1963.7,604.9 L1962.2,602.5 L1953.4,586.9 L1946.5,572.0 L1945.1,568.9 L1937.5,550.8 L1930.9,532.8 L1930.8,532.6 L1924.2,514.8 L1918.0,496.7 L1915.1,488.2 L1911.8,478.7 L1905.5,460.7 L1899.4,442.6 L1899.4,442.6 L1892.7,424.6 L1886.1,406.6 L1883.7,400.2 L1878.9,388.5 L1871.4,370.5 L1868.0,362.5 L1863.2,352.5 L1854.4,334.5 L1852.4,330.5 L1843.9,316.4 L1836.7,304.6 L1831.9,298.4 L1821.0,284.7 L1816.1,280.4 L1805.3,271.0 L1789.6,263.1 L1780.8,262.3 L1773.9,261.7 L1771.9,262.3 L1758.2,267.1 L1742.5,279.8 L1742.1,280.4 L1729.2,298.4 L1726.8,302.0 L1719.8,316.4 L1711.9,334.5 L1711.1,336.4 L1706.0,352.5 L1700.8,370.5 L1696.2,388.5 L1695.5,392.1 L1692.7,406.6 L1689.9,424.6 L1687.6,442.6 L1685.9,460.7 L1684.8,478.7 L1684.5,496.7 L1684.9,514.8 L1686.4,532.8 L1688.9,550.8 L1692.8,568.9 L1695.5,578.0 L1698.6,586.9 L1707.0,604.9 L1711.1,612.0 L1718.9,623.0 L1726.8,632.3 L1735.8,641.0" fill="none" stroke="#000" stroke-width="3.5" stroke-linejoin="round" stroke-linecap="butt"/>
</g>
<path d="M1930.8,641.0v-8.6M1930.8,82.0v8.6M1617.0,615.5h8.6M2103.4,615.5h-8.6M1617.0,435.1h8.6M2103.4,435.1h-8.6M1617.0,254.8h8.6M2103.4,254.8h-8.6" stroke="#262626" stroke-width="5.8" fill="none"/>
<rect x="1617.0" y="82.0" width="486.4000000000001" height="559.0" fill="none" stroke="#262626" stroke-width="5.8"/>
<text x="1617.0" y="718.5" font-size="61.1" text-anchor="middle" fill="#262626">0</text>
<text x="1930.8" y="718.5" font-size="61.1" text-anchor="middle" fill="#262626">2</text>
<text x="1593.8" y="635.8" font-size="61.1" text-anchor="end" fill="#262626">-3</text>
<text x="1593.8" y="455.4" font-size="61.1" text-anchor="end" fill="#262626">-2</text>
<text x="1593.8" y="275.1" font-size="61.1" text-anchor="end" fill="#262626">-1</text>
<text x="1860.2" y="801.1" font-size="67.2" text-anchor="middle" fill="#262626">q1 [rad]</text>
<text transform="translate(1515.6,363.0) rotate(-90)" font-size="67.2" text-anchor="middle" fill="#262626">q2 [rad]</text>
<text x="1860.2" y="59.8" font-size="67.2" text-anchor="middle" fill="#000">Symmetric leg</text>
</g>
<g id="ax10">
<clipPath id="cp10"><rect x="141.0" y="897.0" width="487.0" height="562.0"/></clipPath>
<g clip-path="url(#cp10)">
<rect x="141.0" y="897.0" width="487.0" height="562.0" fill="#febe3c"/>
<path d="M272.4,1440.9 L303.3,1458.1 L304.9,1459.0 L335.8,1459.0 L368.3,1459.0 L400.7,1459.0 L433.2,1459.0 L465.7,1459.0 L498.1,1459.0 L530.6,1459.0 L563.1,1459.0 L595.5,1459.0 L628.0,1459.0 L628.0,1440.9 L628.0,1422.7 L628.0,1404.6 L628.0,1386.5 L628.0,1368.4 L628.0,1350.2 L628.0,1332.1 L628.0,1314.0 L628.0,1295.8 L628.0,1277.7 L628.0,1259.6 L628.0,1241.5 L628.0,1223.3 L628.0,1205.2 L628.0,1187.1 L628.0,1168.9 L628.0,1150.8 L628.0,1132.7 L628.0,1114.5 L628.0,1096.4 L628.0,1078.3 L628.0,1060.2 L628.0,1042.0 L628.0,1023.9 L628.0,1005.8 L628.0,987.6 L628.0,969.5 L628.0,951.4 L628.0,933.3 L628.0,915.1 L628.0,897.0 L595.5,897.0 L563.1,897.0 L530.6,897.0 L498.1,897.0 L465.7,897.0 L433.2,897.0 L400.7,897.0 L368.3,897.0 L335.8,897.0 L303.3,897.0 L270.9,897.0 L238.4,897.0 L205.9,897.0 L173.5,897.0 L141.0,897.0 L141.0,915.1 L141.0,933.3 L141.0,951.4 L141.0,969.5 L141.0,987.6 L141.0,1005.8 L141.0,1023.9 L141.0,1042.0 L141.0,1060.2 L141.0,1078.3 L141.0,1096.4 L141.0,1114.5 L141.0,1132.7 L141.0,1150.8 L141.0,1168.9 L141.0,1187.1 L141.0,1205.2 L141.0,1223.3 L141.0,1241.5 L141.0,1259.6 L141.0,1277.7 L141.0,1295.8 L141.0,1314.0 L141.0,1332.1 L141.0,1350.2 L141.0,1367.5 L142.6,1368.4 L173.5,1385.6 L175.0,1386.5 L205.9,1403.7 L207.5,1404.6 L238.4,1421.9 L240.0,1422.7 L270.9,1440.0 L272.4,1440.9Z" fill="#fec338" fill-rule="evenodd"/>
<path d="M342.8,1440.9 L368.3,1455.1 L375.3,1459.0 L400.7,1459.0 L433.2,1459.0 L465.7,1459.0 L498.1,1459.0 L530.6,1459.0 L563.1,1459.0 L595.5,1459.0 L628.0,1459.0 L628.0,1440.9 L628.0,1422.7 L628.0,1404.6 L628.0,1386.5 L628.0,1368.4 L628.0,1350.2 L628.0,1332.1 L628.0,1314.0 L628.0,1295.8 L628.0,1277.7 L628.0,1259.6 L628.0,1241.5 L628.0,1223.3 L628.0,1205.2 L628.0,1187.1 L628.0,1168.9 L628.0,1150.8 L628.0,1132.7 L628.0,1114.5 L628.0,1096.4 L628.0,1078.3 L628.0,1060.2 L628.0,1042.0 L628.0,1023.9 L628.0,1005.8 L628.0,987.6 L628.0,969.5 L628.0,951.4 L628.0,933.3 L628.0,915.1 L628.0,897.0 L595.5,897.0 L563.1,897.0 L530.6,897.0 L498.1,897.0 L465.7,897.0 L433.2,897.0 L400.7,897.0 L368.3,897.0 L335.8,897.0 L303.3,897.0 L270.9,897.0 L238.4,897.0 L205.9,897.0 L173.5,897.0 L141.0,897.0 L141.0,915.1 L141.0,933.3 L141.0,951.4 L141.0,969.5 L141.0,987.6 L141.0,1005.8 L141.0,1023.9 L141.0,1042.0 L141.0,1060.2 L141.0,1078.3 L141.0,1096.4 L141.0,1114.5 L141.0,1132.7 L141.0,1150.8 L141.0,1168.9 L141.0,1187.1 L141.0,1205.2 L141.0,1223.3 L141.0,1241.5 L141.0,1259.6 L141.0,1277.7 L141.0,1295.8 L141.0,1314.0 L141.0,1328.2 L148.0,1332.1 L173.5,1346.3 L180.5,1350.2 L205.9,1364.4 L213.0,1368.4 L238.4,1382.6 L245.4,1386.5 L270.9,1400.7 L277.9,1404.6 L303.3,1418.8 L310.4,1422.7 L335.8,1437.0 L342.8,1440.9Z" fill="#fec934" fill-rule="evenodd"/>
<path d="M399.2,1440.9 L400.7,1441.7 L431.7,1459.0 L433.2,1459.0 L465.7,1459.0 L498.1,1459.0 L530.6,1459.0 L563.1,1459.0 L595.5,1459.0 L628.0,1459.0 L628.0,1440.9 L628.0,1422.7 L628.0,1404.6 L628.0,1386.5 L628.0,1368.4 L628.0,1350.2 L628.0,1332.1 L628.0,1314.0 L628.0,1295.8 L628.0,1277.7 L628.0,1259.6 L628.0,1241.5 L628.0,1223.3 L628.0,1205.2 L628.0,1187.1 L628.0,1168.9 L628.0,1150.8 L628.0,1132.7 L628.0,1114.5 L628.0,1096.4 L628.0,1078.3 L628.0,1060.2 L628.0,1042.0 L628.0,1023.9 L628.0,1005.8 L628.0,987.6 L628.0,969.5 L628.0,951.4 L628.0,933.3 L628.0,915.1 L628.0,897.0 L595.5,897.0 L563.1,897.0 L530.6,897.0 L498.1,897.0 L465.7,897.0 L433.2,897.0 L400.7,897.0 L368.3,897.0 L335.8,897.0 L303.3,897.0 L270.9,897.0 L238.4,897.0 L205.9,897.0 L173.5,897.0 L141.0,897.0 L141.0,915.1 L141.0,933.3 L141.0,951.4 L141.0,969.5 L141.0,987.6 L141.0,1005.8 L141.0,1023.9 L141.0,1042.0 L141.0,1060.2 L141.0,1078.3 L141.0,1096.4 L141.0,1114.5 L141.0,1132.7 L141.0,1150.8 L141.0,1168.9 L141.0,1187.1 L141.0,1205.2 L141.0,1223.3 L141.0,1241.5 L141.0,1259.6 L141.0,1277.7 L141.0,1295.8 L141.0,1296.7 L171.9,1314.0 L173.5,1314.8 L204.4,1332.1 L205.9,1333.0 L236.9,1350.2 L238.4,1351.1 L269.3,1368.4 L270.9,1369.2 L301.8,1386.5 L303.3,1387.3 L334.3,1404.6 L335.8,1405.5 L366.7,1422.7 L368.3,1423.6 L399.2,1440.9Z" fill="#fccf30" fill-rule="evenodd"/>
<path d="M448.2,1440.9 L465.7,1450.6 L480.7,1459.0 L498.1,1459.0 L530.6,1459.0 L563.1,1459.0 L595.5,1459.0 L628.0,1459.0 L628.0,1440.9 L628.0,1422.7 L628.0,1404.6 L628.0,1386.5 L628.0,1368.4 L628.0,1350.2 L628.0,1332.1 L628.0,1314.0 L628.0,1295.8 L628.0,1277.7 L628.0,1259.6 L628.0,1241.5 L628.0,1223.3 L628.0,1205.2 L628.0,1187.1 L628.0,1168.9 L628.0,1150.8 L628.0,1132.7 L628.0,1114.5 L628.0,1096.4 L628.0,1078.3 L628.0,1060.2 L628.0,1042.0 L628.0,1023.9 L628.0,1005.8 L628.0,987.6 L628.0,969.5 L628.0,951.4 L628.0,933.3 L628.0,915.1 L628.0,897.0 L595.5,897.0 L563.1,897.0 L530.6,897.0 L498.1,897.0 L465.7,897.0 L433.2,897.0 L400.7,897.0 L368.3,897.0 L335.8,897.0 L303.3,897.0 L270.9,897.0 L238.4,897.0 L205.9,897.0 L173.5,897.0 L141.0,897.0 L141.0,915.1 L141.0,933.3 L141.0,951.4 L141.0,969.5 L141.0,987.6 L141.0,1005.8 L141.0,1023.9 L141.0,1042.0 L141.0,1060.2 L141.0,1078.3 L141.0,1096.4 L141.0,1114.5 L141.0,1132.7 L141.0,1150.8 L141.0,1168.9 L141.0,1187.1 L141.0,1205.2 L141.0,1223.3 L141.0,1241.5 L141.0,1259.6 L141.0,1269.3 L156.0,1277.7 L173.5,1287.5 L188.5,1295.8 L205.9,1305.6 L220.9,1314.0 L238.4,1323.7 L253.4,1332.1 L270.9,1341.8 L285.9,1350.2 L303.3,1360.0 L318.3,1368.4 L335.8,1378.1 L350.8,1386.5 L368.3,1396.2 L383.3,1404.6 L400.7,1414.4 L415.7,1422.7 L433.2,1432.5 L448.2,1440.9Z" fill="#fad62d" fill-rule="evenodd"/>
<path d="M493.5,1440.9 L498.1,1443.4 L526.0,1459.0 L530.6,1459.0 L563.1,1459.0 L595.5,1459.0 L628.0,1459.0 L628.0,1440.9 L628.0,1422.7 L628.0,1404.6 L628.0,1386.5 L628.0,1368.4 L628.0,1350.2 L628.0,1332.1 L628.0,1314.0 L628.0,1295.8 L628.0,1277.7 L628.0,1259.6 L628.0,1241.5 L628.0,1223.3 L628.0,1205.2 L628.0,1187.1 L628.0,1168.9 L628.0,1150.8 L628.0,1132.7 L628.0,1114.5 L628.0,1096.4 L628.0,1078.3 L628.0,1060.2 L628.0,1042.0 L628.0,1023.9 L628.0,1005.8 L628.0,987.6 L628.0,969.5 L628.0,951.4 L628.0,933.3 L628.0,915.1 L628.0,897.0 L595.5,897.0 L563.1,897.0 L530.6,897.0 L498.1,897.0 L465.7,897.0 L433.2,897.0 L400.7,897.0 L368.3,897.0 L335.8,897.0 L303.3,897.0 L270.9,897.0 L238.4,897.0 L205.9,897.0 L173.5,897.0 L141.0,897.0 L141.0,915.1 L141.0,933.3 L141.0,951.4 L141.0,969.5 L141.0,987.6 L141.0,1005.8 L141.0,1023.9 L141.0,1042.0 L141.0,1060.2 L141.0,1078.3 L141.0,1096.4 L141.0,1114.5 L141.0,1132.7 L141.0,1150.8 L141.0,1168.9 L141.0,1187.1 L141.0,1205.2 L141.0,1223.3 L141.0,1241.5 L141.0,1244.0 L168.9,1259.6 L173.5,1262.1 L201.3,1277.7 L205.9,1280.3 L233.8,1295.8 L238.4,1298.4 L266.3,1314.0 L270.9,1316.5 L298.7,1332.1 L303.3,1334.7 L331.2,1350.2 L335.8,1352.8 L363.7,1368.4 L368.3,1370.9 L396.1,1386.5 L400.7,1389.0 L428.6,1404.6 L433.2,1407.2 L461.1,1422.7 L465.7,1425.3 L493.5,1440.9Z" fill="#f5e327" fill-rule="evenodd"/>
<path d="M536.3,1440.9 L563.1,1455.8 L568.8,1459.0 L595.5,1459.0 L628.0,1459.0 L628.0,1440.9 L628.0,1422.7 L628.0,1404.6 L628.0,1386.5 L628.0,1368.4 L628.0,1350.2 L628.0,1332.1 L628.0,1314.0 L628.0,1295.8 L628.0,1277.7 L628.0,1259.6 L628.0,1241.5 L628.0,1223.3 L628.0,1205.2 L628.0,1187.1 L628.0,1168.9 L628.0,1150.8 L628.0,1132.7 L628.0,1114.5 L628.0,1096.4 L628.0,1078.3 L628.0,1060.2 L628.0,1042.0 L628.0,1023.9 L628.0,1005.8 L628.0,987.6 L628.0,969.5 L628.0,951.4 L628.0,933.3 L628.0,915.1 L628.0,897.0 L595.5,897.0 L563.1,897.0 L530.6,897.0 L498.1,897.0 L465.7,897.0 L433.2,897.0 L400.7,897.0 L368.3,897.0 L335.8,897.0 L303.3,897.0 L270.9,897.0 L238.4,897.0 L205.9,897.0 L173.5,897.0 L141.0,897.0 L141.0,915.1 L141.0,933.3 L141.0,951.4 L141.0,969.5 L141.0,987.6 L141.0,1005.8 L141.0,1023.9 L141.0,1042.0 L141.0,1060.2 L141.0,1078.3 L141.0,1096.4 L141.0,1114.5 L141.0,1132.7 L141.0,1150.8 L141.0,1168.9 L141.0,1187.1 L141.0,1205.2 L141.0,1220.1 L146.7,1223.3 L173.5,1238.3 L179.2,1241.5 L205.9,1256.4 L211.7,1259.6 L238.4,1274.5 L244.1,1277.7 L270.9,1292.6 L276.6,1295.8 L303.3,1310.8 L309.1,1314.0 L335.8,1328.9 L341.5,1332.1 L368.3,1347.0 L374.0,1350.2 L400.7,1365.2 L406.5,1368.4 L433.2,1383.3 L438.9,1386.5 L465.7,1401.4 L471.4,1404.6 L498.1,1419.5 L503.9,1422.7 L530.6,1437.7 L536.3,1440.9Z" fill="#f5e924" fill-rule="evenodd"/>
<path d="M577.7,1440.9 L595.5,1450.9 L610.1,1459.0 L628.0,1459.0 L628.0,1440.9 L628.0,1422.7 L628.0,1404.6 L628.0,1386.5 L628.0,1368.4 L628.0,1350.2 L628.0,1332.1 L628.0,1314.0 L628.0,1295.8 L628.0,1277.7 L628.0,1259.6 L628.0,1241.5 L628.0,1223.3 L628.0,1205.2 L628.0,1187.1 L628.0,1168.9 L628.0,1150.8 L628.0,1132.7 L628.0,1114.5 L628.0,1096.4 L628.0,1078.3 L628.0,1060.2 L628.0,1042.0 L628.0,1023.9 L628.0,1005.8 L628.0,987.6 L628.0,969.5 L628.0,951.4 L628.0,933.3 L628.0,915.1 L628.0,897.0 L595.5,897.0 L563.1,897.0 L530.6,897.0 L498.1,897.0 L465.7,897.0 L433.2,897.0 L400.7,897.0 L368.3,897.0 L335.8,897.0 L303.3,897.0 L270.9,897.0 L238.4,897.0 L205.9,897.0 L173.5,897.0 L141.0,897.0 L141.0,915.1 L141.0,933.3 L141.0,951.4 L141.0,969.5 L141.0,987.6 L141.0,1005.8 L141.0,1023.9 L141.0,1042.0 L141.0,1060.2 L141.0,1078.3 L141.0,1096.4 L141.0,1114.5 L141.0,1132.7 L141.0,1150.8 L141.0,1168.9 L141.0,1187.1 L141.0,1197.0 L155.6,1205.2 L173.5,1215.2 L188.1,1223.3 L205.9,1233.3 L220.5,1241.5 L238.4,1251.4 L253.0,1259.6 L270.9,1269.6 L285.5,1277.7 L303.3,1287.7 L317.9,1295.8 L335.8,1305.8 L350.4,1314.0 L368.3,1324.0 L382.9,1332.1 L400.7,1342.1 L415.3,1350.2 L433.2,1360.2 L447.8,1368.4 L465.7,1378.3 L480.3,1386.5 L498.1,1396.5 L512.7,1404.6 L530.6,1414.6 L545.2,1422.7 L563.1,1432.7 L577.7,1440.9Z" fill="#f6ef20" fill-rule="evenodd"/>
<path d="M618.4,1440.9 L628.0,1446.2 L628.0,1440.9 L628.0,1422.7 L628.0,1404.6 L628.0,1386.5 L628.0,1368.4 L628.0,1350.2 L628.0,1332.1 L628.0,1314.0 L628.0,1295.8 L628.0,1277.7 L628.0,1259.6 L628.0,1241.5 L628.0,1223.3 L628.0,1205.2 L628.0,1187.1 L628.0,1168.9 L628.0,1150.8 L628.0,1132.7 L628.0,1114.5 L628.0,1096.4 L628.0,1078.3 L628.0,1060.2 L628.0,1042.0 L628.0,1023.9 L628.0,1005.8 L628.0,987.6 L628.0,969.5 L628.0,951.4 L628.0,933.3 L628.0,915.1 L628.0,897.0 L595.5,897.0 L563.1,897.0 L530.6,897.0 L498.1,897.0 L465.7,897.0 L433.2,897.0 L400.7,897.0 L368.3,897.0 L335.8,897.0 L303.3,897.0 L270.9,897.0 L238.4,897.0 L205.9,897.0 L173.5,897.0 L141.0,897.0 L141.0,915.1 L141.0,933.3 L141.0,951.4 L141.0,969.5 L141.0,987.6 L141.0,1005.8 L141.0,1023.9 L141.0,1042.0 L141.0,1060.2 L141.0,1078.3 L141.0,1096.4 L141.0,1114.5 L141.0,1132.7 L141.0,1150.8 L141.0,1168.9 L141.0,1174.3 L163.8,1187.1 L173.5,1192.4 L196.3,1205.2 L205.9,1210.6 L228.8,1223.3 L238.4,1228.7 L261.2,1241.5 L270.9,1246.8 L293.7,1259.6 L303.3,1265.0 L326.2,1277.7 L335.8,1283.1 L358.6,1295.8 L368.3,1301.2 L391.1,1314.0 L400.7,1319.3 L423.6,1332.1 L433.2,1337.5 L456.0,1350.2 L465.7,1355.6 L488.5,1368.4 L498.1,1373.7 L521.0,1386.5 L530.6,1391.9 L553.4,1404.6 L563.1,1410.0 L585.9,1422.7 L595.5,1428.1 L618.4,1440.9Z" fill="#f7f51b" fill-rule="evenodd"/>
<path d="M626.6,1422.7 L628.0,1423.5 L628.0,1422.7 L628.0,1404.6 L628.0,1386.5 L628.0,1368.4 L628.0,1350.2 L628.0,1332.1 L628.0,1314.0 L628.0,1295.8 L628.0,1277.7 L628.0,1259.6 L628.0,1241.5 L628.0,1223.3 L628.0,1205.2 L628.0,1187.1 L628.0,1168.9 L628.0,1150.8 L628.0,1132.7 L628.0,1114.5 L628.0,1096.4 L628.0,1078.3 L628.0,1060.2 L628.0,1042.0 L628.0,1023.9 L628.0,1005.8 L628.0,987.6 L628.0,969.5 L628.0,951.4 L628.0,933.3 L628.0,915.1 L628.0,899.3 L623.9,897.0 L595.5,897.0 L563.1,897.0 L530.6,897.0 L498.1,897.0 L465.7,897.0 L433.2,897.0 L400.7,897.0 L368.3,897.0 L335.8,897.0 L303.3,897.0 L270.9,897.0 L238.4,897.0 L205.9,897.0 L173.5,897.0 L141.0,897.0 L141.0,915.1 L141.0,933.3 L141.0,951.4 L141.0,969.5 L141.0,987.6 L141.0,1005.8 L141.0,1023.9 L141.0,1042.0 L141.0,1060.2 L141.0,1078.3 L141.0,1096.4 L141.0,1114.5 L141.0,1132.7 L141.0,1150.8 L141.0,1151.6 L172.1,1168.9 L173.5,1169.7 L204.5,1187.1 L205.9,1187.9 L237.0,1205.2 L238.4,1206.0 L269.5,1223.3 L270.9,1224.1 L301.9,1241.5 L303.3,1242.2 L334.4,1259.6 L335.8,1260.4 L366.9,1277.7 L368.3,1278.5 L399.3,1295.8 L400.7,1296.6 L431.8,1314.0 L433.2,1314.8 L464.3,1332.1 L465.7,1332.9 L496.7,1350.2 L498.1,1351.0 L529.2,1368.4 L530.6,1369.1 L561.7,1386.5 L563.1,1387.3 L594.1,1404.6 L595.5,1405.4 L626.6,1422.7Z" fill="#f9fb15" fill-rule="evenodd"/>
<path d="M603.1,1386.5 L628.0,1400.4 L628.0,1386.5 L628.0,1368.4 L628.0,1350.2 L628.0,1332.1 L628.0,1314.0 L628.0,1295.8 L628.0,1277.7 L628.0,1259.6 L628.0,1241.5 L628.0,1223.3 L628.0,1205.2 L628.0,1187.1 L628.0,1168.9 L628.0,1150.8 L628.0,1132.7 L628.0,1114.5 L628.0,1096.4 L628.0,1078.3 L628.0,1060.2 L628.0,1042.0 L628.0,1023.9 L628.0,1005.8 L628.0,987.6 L628.0,969.5 L628.0,951.4 L628.0,933.3 L628.0,922.4 L615.0,915.1 L595.5,904.3 L582.5,897.0 L563.1,897.0 L530.6,897.0 L498.1,897.0 L465.7,897.0 L433.2,897.0 L400.7,897.0 L368.3,897.0 L335.8,897.0 L303.3,897.0 L270.9,897.0 L238.4,897.0 L205.9,897.0 L173.5,897.0 L141.0,897.0 L141.0,915.1 L141.0,933.3 L141.0,951.4 L141.0,969.5 L141.0,987.6 L141.0,1005.8 L141.0,1023.9 L141.0,1042.0 L141.0,1060.2 L141.0,1078.3 L141.0,1096.4 L141.0,1114.5 L141.0,1128.5 L148.5,1132.7 L173.5,1146.6 L181.0,1150.8 L205.9,1164.7 L213.5,1168.9 L238.4,1182.9 L245.9,1187.1 L270.9,1201.0 L278.4,1205.2 L303.3,1219.1 L310.9,1223.3 L335.8,1237.3 L343.3,1241.5 L368.3,1255.4 L375.8,1259.6 L400.7,1273.5 L408.3,1277.7 L433.2,1291.6 L440.7,1295.8 L465.7,1309.8 L473.2,1314.0 L498.1,1327.9 L505.7,1332.1 L530.6,1346.0 L538.1,1350.2 L563.1,1364.2 L570.6,1368.4 L595.5,1382.3 L603.1,1386.5Z" fill="#f9fb15" fill-rule="evenodd"/>
<path d="M613.4,1368.4 L628.0,1376.5 L628.0,1368.4 L628.0,1350.2 L628.0,1332.1 L628.0,1314.0 L628.0,1295.8 L628.0,1277.7 L628.0,1259.6 L628.0,1241.5 L628.0,1223.3 L628.0,1205.2 L628.0,1187.1 L628.0,1168.9 L628.0,1150.8 L628.0,1132.7 L628.0,1114.5 L628.0,1096.4 L628.0,1078.3 L628.0,1060.2 L628.0,1042.0 L628.0,1023.9 L628.0,1005.8 L628.0,987.6 L628.0,969.5 L628.0,951.4 L628.0,946.3 L604.7,933.3 L595.5,928.1 L572.2,915.1 L563.1,910.0 L539.8,897.0 L530.6,897.0 L498.1,897.0 L465.7,897.0 L433.2,897.0 L400.7,897.0 L368.3,897.0 L335.8,897.0 L303.3,897.0 L270.9,897.0 L238.4,897.0 L205.9,897.0 L173.5,897.0 L141.0,897.0 L141.0,915.1 L141.0,933.3 L141.0,951.4 L141.0,969.5 L141.0,987.6 L141.0,1005.8 L141.0,1023.9 L141.0,1042.0 L141.0,1060.2 L141.0,1078.3 L141.0,1096.4 L141.0,1104.6 L158.9,1114.5 L173.5,1122.7 L191.3,1132.7 L205.9,1140.8 L223.8,1150.8 L238.4,1159.0 L256.3,1168.9 L270.9,1177.1 L288.7,1187.1 L303.3,1195.2 L321.2,1205.2 L335.8,1213.3 L353.7,1223.3 L368.3,1231.5 L386.1,1241.5 L400.7,1249.6 L418.6,1259.6 L433.2,1267.7 L451.1,1277.7 L465.7,1285.9 L483.5,1295.8 L498.1,1304.0 L516.0,1314.0 L530.6,1322.1 L548.5,1332.1 L563.1,1340.2 L580.9,1350.2 L595.5,1358.4 L613.4,1368.4Z" fill="#f9fb15" fill-rule="evenodd"/>
<path d="M626.0,1350.2 L628.0,1351.3 L628.0,1350.2 L628.0,1332.1 L628.0,1314.0 L628.0,1295.8 L628.0,1277.7 L628.0,1259.6 L628.0,1241.5 L628.0,1223.3 L628.0,1205.2 L628.0,1187.1 L628.0,1168.9 L628.0,1150.8 L628.0,1132.7 L628.0,1114.5 L628.0,1096.4 L628.0,1078.3 L628.0,1060.2 L628.0,1042.0 L628.0,1023.9 L628.0,1005.8 L628.0,987.6 L628.0,971.5 L624.5,969.5 L595.5,953.3 L592.0,951.4 L563.1,935.2 L559.6,933.3 L530.6,917.1 L527.1,915.1 L498.1,898.9 L494.6,897.0 L465.7,897.0 L433.2,897.0 L400.7,897.0 L368.3,897.0 L335.8,897.0 L303.3,897.0 L270.9,897.0 L238.4,897.0 L205.9,897.0 L173.5,897.0 L141.0,897.0 L141.0,915.1 L141.0,933.3 L141.0,951.4 L141.0,969.5 L141.0,987.6 L141.0,1005.8 L141.0,1023.9 L141.0,1042.0 L141.0,1060.2 L141.0,1078.3 L141.0,1079.4 L171.5,1096.4 L173.5,1097.5 L203.9,1114.5 L205.9,1115.7 L236.4,1132.7 L238.4,1133.8 L268.9,1150.8 L270.9,1151.9 L301.3,1168.9 L303.3,1170.1 L333.8,1187.1 L335.8,1188.2 L366.3,1205.2 L368.3,1206.3 L398.7,1223.3 L400.7,1224.4 L431.2,1241.5 L433.2,1242.6 L463.7,1259.6 L465.7,1260.7 L496.1,1277.7 L498.1,1278.8 L528.6,1295.8 L530.6,1297.0 L561.1,1314.0 L563.1,1315.1 L593.5,1332.1 L595.5,1333.2 L626.0,1350.2Z" fill="#f9fb15" fill-rule="evenodd"/>
<path d="M610.5,1314.0 L628.0,1323.8 L628.0,1314.0 L628.0,1295.8 L628.0,1277.7 L628.0,1259.6 L628.0,1241.5 L628.0,1223.3 L628.0,1205.2 L628.0,1187.1 L628.0,1168.9 L628.0,1150.8 L628.0,1132.7 L628.0,1114.5 L628.0,1096.4 L628.0,1078.3 L628.0,1060.2 L628.0,1042.0 L628.0,1023.9 L628.0,1005.8 L628.0,999.0 L607.6,987.6 L595.5,980.9 L575.2,969.5 L563.1,962.8 L542.7,951.4 L530.6,944.6 L510.2,933.3 L498.1,926.5 L477.8,915.1 L465.7,908.4 L445.3,897.0 L433.2,897.0 L400.7,897.0 L368.3,897.0 L335.8,897.0 L303.3,897.0 L270.9,897.0 L238.4,897.0 L205.9,897.0 L173.5,897.0 L141.0,897.0 L141.0,915.1 L141.0,933.3 L141.0,951.4 L141.0,969.5 L141.0,987.6 L141.0,1005.8 L141.0,1023.9 L141.0,1042.0 L141.0,1051.8 L155.9,1060.2 L173.5,1069.9 L188.4,1078.3 L205.9,1088.1 L220.9,1096.4 L238.4,1106.2 L253.3,1114.5 L270.9,1124.3 L285.8,1132.7 L303.3,1142.5 L318.3,1150.8 L335.8,1160.6 L350.7,1168.9 L368.3,1178.7 L383.2,1187.1 L400.7,1196.8 L415.7,1205.2 L433.2,1215.0 L448.1,1223.3 L465.7,1233.1 L480.6,1241.5 L498.1,1251.2 L513.1,1259.6 L530.6,1269.4 L545.5,1277.7 L563.1,1287.5 L578.0,1295.8 L595.5,1305.6 L610.5,1314.0Z" fill="#f9fb15" fill-rule="evenodd"/>
<path d="M601.6,1277.7 L628.0,1292.5 L628.0,1277.7 L628.0,1259.6 L628.0,1241.5 L628.0,1223.3 L628.0,1205.2 L628.0,1187.1 L628.0,1168.9 L628.0,1150.8 L628.0,1132.7 L628.0,1114.5 L628.0,1096.4 L628.0,1078.3 L628.0,1060.2 L628.0,1042.0 L628.0,1030.4 L616.4,1023.9 L595.5,1012.3 L583.9,1005.8 L563.1,994.1 L551.4,987.6 L530.6,976.0 L519.0,969.5 L498.1,957.9 L486.5,951.4 L465.7,939.8 L454.0,933.3 L433.2,921.6 L421.6,915.1 L400.7,903.5 L389.1,897.0 L368.3,897.0 L335.8,897.0 L303.3,897.0 L270.9,897.0 L238.4,897.0 L205.9,897.0 L173.5,897.0 L141.0,897.0 L141.0,915.1 L141.0,933.3 L141.0,951.4 L141.0,969.5 L141.0,987.6 L141.0,1005.8 L141.0,1020.5 L147.0,1023.9 L173.5,1038.7 L179.5,1042.0 L205.9,1056.8 L212.0,1060.2 L238.4,1074.9 L244.4,1078.3 L270.9,1093.0 L276.9,1096.4 L303.3,1111.2 L309.4,1114.5 L335.8,1129.3 L341.8,1132.7 L368.3,1147.4 L374.3,1150.8 L400.7,1165.6 L406.8,1168.9 L433.2,1183.7 L439.2,1187.1 L465.7,1201.8 L471.7,1205.2 L498.1,1220.0 L504.2,1223.3 L530.6,1238.1 L536.6,1241.5 L563.1,1256.2 L569.1,1259.6 L595.5,1274.3 L601.6,1277.7Z" fill="#f9fb15" fill-rule="evenodd"/>
<path d="M607.4,1241.5 L628.0,1252.9 L628.0,1241.5 L628.0,1223.3 L628.0,1205.2 L628.0,1187.1 L628.0,1168.9 L628.0,1150.8 L628.0,1132.7 L628.0,1114.5 L628.0,1096.4 L628.0,1078.3 L628.0,1069.9 L610.6,1060.2 L595.5,1051.8 L578.1,1042.0 L563.1,1033.6 L545.7,1023.9 L530.6,1015.5 L513.2,1005.8 L498.1,997.4 L480.7,987.6 L465.7,979.2 L448.3,969.5 L433.2,961.1 L415.8,951.4 L400.7,943.0 L383.3,933.3 L368.3,924.8 L350.9,915.1 L335.8,906.7 L318.4,897.0 L303.3,897.0 L270.9,897.0 L238.4,897.0 L205.9,897.0 L173.5,897.0 L141.0,897.0 L141.0,915.1 L141.0,933.3 L141.0,951.4 L141.0,969.5 L141.0,981.0 L152.9,987.6 L173.5,999.1 L185.4,1005.8 L205.9,1017.3 L217.8,1023.9 L238.4,1035.4 L250.3,1042.0 L270.9,1053.5 L282.8,1060.2 L303.3,1071.6 L315.2,1078.3 L335.8,1089.8 L347.7,1096.4 L368.3,1107.9 L380.2,1114.5 L400.7,1126.0 L412.6,1132.7 L433.2,1144.2 L445.1,1150.8 L465.7,1162.3 L477.6,1168.9 L498.1,1180.4 L510.0,1187.1 L530.6,1198.5 L542.5,1205.2 L563.1,1216.7 L575.0,1223.3 L595.5,1234.8 L607.4,1241.5Z" fill="#f9fb15" fill-rule="evenodd"/>
<path d="M141.0,1367.5 L142.6,1368.4 L173.5,1385.6 L175.0,1386.5 L205.9,1403.7 L207.5,1404.6 L238.4,1421.9 L240.0,1422.7 L270.9,1440.0 L272.4,1440.9 L303.3,1458.1 L304.9,1459.0M141.0,1328.2 L148.0,1332.1 L173.5,1346.3 L180.5,1350.2 L205.9,1364.4 L213.0,1368.4 L238.4,1382.6 L245.4,1386.5 L270.9,1400.7 L277.9,1404.6 L303.3,1418.8 L310.4,1422.7 L335.8,1437.0 L342.8,1440.9 L368.3,1455.1 L375.3,1459.0M141.0,1296.7 L171.9,1314.0 L173.5,1314.8 L204.4,1332.1 L205.9,1333.0 L236.9,1350.2 L238.4,1351.1 L269.3,1368.4 L270.9,1369.2 L301.8,1386.5 L303.3,1387.3 L334.3,1404.6 L335.8,1405.5 L366.7,1422.7 L368.3,1423.6 L399.2,1440.9 L400.7,1441.7 L431.7,1459.0M141.0,1269.3 L156.0,1277.7 L173.5,1287.5 L188.5,1295.8 L205.9,1305.6 L220.9,1314.0 L238.4,1323.7 L253.4,1332.1 L270.9,1341.8 L285.9,1350.2 L303.3,1360.0 L318.3,1368.4 L335.8,1378.1 L350.8,1386.5 L368.3,1396.2 L383.3,1404.6 L400.7,1414.4 L415.7,1422.7 L433.2,1432.5 L448.2,1440.9 L465.7,1450.6 L480.7,1459.0M141.0,1244.0 L168.9,1259.6 L173.5,1262.1 L201.3,1277.7 L205.9,1280.3 L233.8,1295.8 L238.4,1298.4 L266.3,1314.0 L270.9,1316.5 L298.7,1332.1 L303.3,1334.7 L331.2,1350.2 L335.8,1352.8 L363.7,1368.4 L368.3,1370.9 L396.1,1386.5 L400.7,1389.0 L428.6,1404.6 L433.2,1407.2 L461.1,1422.7 L465.7,1425.3 L493.5,1440.9 L498.1,1443.4 L526.0,1459.0M141.0,1220.1 L146.7,1223.3 L173.5,1238.3 L179.2,1241.5 L205.9,1256.4 L211.7,1259.6 L238.4,1274.5 L244.1,1277.7 L270.9,1292.6 L276.6,1295.8 L303.3,1310.8 L309.1,1314.0 L335.8,1328.9 L341.5,1332.1 L368.3,1347.0 L374.0,1350.2 L400.7,1365.2 L406.5,1368.4 L433.2,1383.3 L438.9,1386.5 L465.7,1401.4 L471.4,1404.6 L498.1,1419.5 L503.9,1422.7 L530.6,1437.7 L536.3,1440.9 L563.1,1455.8 L568.8,1459.0M141.0,1197.0 L155.6,1205.2 L173.5,1215.2 L188.1,1223.3 L205.9,1233.3 L220.5,1241.5 L238.4,1251.4 L253.0,1259.6 L270.9,1269.6 L285.5,1277.7 L303.3,1287.7 L317.9,1295.8 L335.8,1305.8 L350.4,1314.0 L368.3,1324.0 L382.9,1332.1 L400.7,1342.1 L415.3,1350.2 L433.2,1360.2 L447.8,1368.4 L465.7,1378.3 L480.3,1386.5 L498.1,1396.5 L512.7,1404.6 L530.6,1414.6 L545.2,1422.7 L563.1,1432.7 L577.7,1440.9 L595.5,1450.9 L610.1,1459.0M141.0,1174.3 L163.8,1187.1 L173.5,1192.4 L196.3,1205.2 L205.9,1210.6 L228.8,1223.3 L238.4,1228.7 L261.2,1241.5 L270.9,1246.8 L293.7,1259.6 L303.3,1265.0 L326.2,1277.7 L335.8,1283.1 L358.6,1295.8 L368.3,1301.2 L391.1,1314.0 L400.7,1319.3 L423.6,1332.1 L433.2,1337.5 L456.0,1350.2 L465.7,1355.6 L488.5,1368.4 L498.1,1373.7 L521.0,1386.5 L530.6,1391.9 L553.4,1404.6 L563.1,1410.0 L585.9,1422.7 L595.5,1428.1 L618.4,1440.9 L628.0,1446.2M141.0,1151.6 L172.1,1168.9 L173.5,1169.7 L204.5,1187.1 L205.9,1187.9 L237.0,1205.2 L238.4,1206.0 L269.5,1223.3 L270.9,1224.1 L301.9,1241.5 L303.3,1242.2 L334.4,1259.6 L335.8,1260.4 L366.9,1277.7 L368.3,1278.5 L399.3,1295.8 L400.7,1296.6 L431.8,1314.0 L433.2,1314.8 L464.3,1332.1 L465.7,1332.9 L496.7,1350.2 L498.1,1351.0 L529.2,1368.4 L530.6,1369.1 L561.7,1386.5 L563.1,1387.3 L594.1,1404.6 L595.5,1405.4 L626.6,1422.7 L628.0,1423.5M628.0,899.3 L623.9,897.0M141.0,1128.5 L148.5,1132.7 L173.5,1146.6 L181.0,1150.8 L205.9,1164.7 L213.5,1168.9 L238.4,1182.9 L245.9,1187.1 L270.9,1201.0 L278.4,1205.2 L303.3,1219.1 L310.9,1223.3 L335.8,1237.3 L343.3,1241.5 L368.3,1255.4 L375.8,1259.6 L400.7,1273.5 L408.3,1277.7 L433.2,1291.6 L440.7,1295.8 L465.7,1309.8 L473.2,1314.0 L498.1,1327.9 L505.7,1332.1 L530.6,1346.0 L538.1,1350.2 L563.1,1364.2 L570.6,1368.4 L595.5,1382.3 L603.1,1386.5 L628.0,1400.4M628.0,922.4 L615.0,915.1 L595.5,904.3 L582.5,897.0M141.0,1104.6 L158.9,1114.5 L173.5,1122.7 L191.3,1132.7 L205.9,1140.8 L223.8,1150.8 L238.4,1159.0 L256.3,1168.9 L270.9,1177.1 L288.7,1187.1 L303.3,1195.2 L321.2,1205.2 L335.8,1213.3 L353.7,1223.3 L368.3,1231.5 L386.1,1241.5 L400.7,1249.6 L418.6,1259.6 L433.2,1267.7 L451.1,1277.7 L465.7,1285.9 L483.5,1295.8 L498.1,1304.0 L516.0,1314.0 L530.6,1322.1 L548.5,1332.1 L563.1,1340.2 L580.9,1350.2 L595.5,1358.4 L613.4,1368.4 L628.0,1376.5M628.0,946.3 L604.7,933.3 L595.5,928.1 L572.2,915.1 L563.1,910.0 L539.8,897.0M141.0,1079.4 L171.5,1096.4 L173.5,1097.5 L203.9,1114.5 L205.9,1115.7 L236.4,1132.7 L238.4,1133.8 L268.9,1150.8 L270.9,1151.9 L301.3,1168.9 L303.3,1170.1 L333.8,1187.1 L335.8,1188.2 L366.3,1205.2 L368.3,1206.3 L398.7,1223.3 L400.7,1224.4 L431.2,1241.5 L433.2,1242.6 L463.7,1259.6 L465.7,1260.7 L496.1,1277.7 L498.1,1278.8 L528.6,1295.8 L530.6,1297.0 L561.1,1314.0 L563.1,1315.1 L593.5,1332.1 L595.5,1333.2 L626.0,1350.2 L628.0,1351.3M628.0,971.5 L624.5,969.5 L595.5,953.3 L592.0,951.4 L563.1,935.2 L559.6,933.3 L530.6,917.1 L527.1,915.1 L498.1,898.9 L494.6,897.0M141.0,1051.8 L155.9,1060.2 L173.5,1069.9 L188.4,1078.3 L205.9,1088.1 L220.9,1096.4 L238.4,1106.2 L253.3,1114.5 L270.9,1124.3 L285.8,1132.7 L303.3,1142.5 L318.3,1150.8 L335.8,1160.6 L350.7,1168.9 L368.3,1178.7 L383.2,1187.1 L400.7,1196.8 L415.7,1205.2 L433.2,1215.0 L448.1,1223.3 L465.7,1233.1 L480.6,1241.5 L498.1,1251.2 L513.1,1259.6 L530.6,1269.4 L545.5,1277.7 L563.1,1287.5 L578.0,1295.8 L595.5,1305.6 L610.5,1314.0 L628.0,1323.8M628.0,999.0 L607.6,987.6 L595.5,980.9 L575.2,969.5 L563.1,962.8 L542.7,951.4 L530.6,944.6 L510.2,933.3 L498.1,926.5 L477.8,915.1 L465.7,908.4 L445.3,897.0M628.0,1030.4 L616.4,1023.9 L595.5,1012.3 L583.9,1005.8 L563.1,994.1 L551.4,987.6 L530.6,976.0 L519.0,969.5 L498.1,957.9 L486.5,951.4 L465.7,939.8 L454.0,933.3 L433.2,921.6 L421.6,915.1 L400.7,903.5 L389.1,897.0M141.0,1020.5 L147.0,1023.9 L173.5,1038.7 L179.5,1042.0 L205.9,1056.8 L212.0,1060.2 L238.4,1074.9 L244.4,1078.3 L270.9,1093.0 L276.9,1096.4 L303.3,1111.2 L309.4,1114.5 L335.8,1129.3 L341.8,1132.7 L368.3,1147.4 L374.3,1150.8 L400.7,1165.6 L406.8,1168.9 L433.2,1183.7 L439.2,1187.1 L465.7,1201.8 L471.7,1205.2 L498.1,1220.0 L504.2,1223.3 L530.6,1238.1 L536.6,1241.5 L563.1,1256.2 L569.1,1259.6 L595.5,1274.3 L601.6,1277.7 L628.0,1292.5M628.0,1069.9 L610.6,1060.2 L595.5,1051.8 L578.1,1042.0 L563.1,1033.6 L545.7,1023.9 L530.6,1015.5 L513.2,1005.8 L498.1,997.4 L480.7,987.6 L465.7,979.2 L448.3,969.5 L433.2,961.1 L415.8,951.4 L400.7,943.0 L383.3,933.3 L368.3,924.8 L350.9,915.1 L335.8,906.7 L318.4,897.0M141.0,981.0 L152.9,987.6 L173.5,999.1 L185.4,1005.8 L205.9,1017.3 L217.8,1023.9 L238.4,1035.4 L250.3,1042.0 L270.9,1053.5 L282.8,1060.2 L303.3,1071.6 L315.2,1078.3 L335.8,1089.8 L347.7,1096.4 L368.3,1107.9 L380.2,1114.5 L400.7,1126.0 L412.6,1132.7 L433.2,1144.2 L445.1,1150.8 L465.7,1162.3 L477.6,1168.9 L498.1,1180.4 L510.0,1187.1 L530.6,1198.5 L542.5,1205.2 L563.1,1216.7 L575.0,1223.3 L595.5,1234.8 L607.4,1241.5 L628.0,1252.9" fill="none" stroke="#000" stroke-width="3.5" stroke-linejoin="round" stroke-linecap="butt"/>
</g>
<path d="M303.3,1459.0v-8.6M303.3,897.0v8.6M465.7,1459.0v-8.6M465.7,897.0v8.6M141.0,1277.7h8.6M628.0,1277.7h-8.6M141.0,1096.4h8.6M628.0,1096.4h-8.6M141.0,915.1h8.6M628.0,915.1h-8.6" stroke="#262626" stroke-width="5.8" fill="none"/>
<rect x="141.0" y="897.0" width="487.0" height="562.0" fill="none" stroke="#262626" stroke-width="5.8"/>
<text x="141.0" y="1536.5" font-size="61.1" text-anchor="middle" fill="#262626">0</text>
<text x="303.3" y="1536.5" font-size="61.1" text-anchor="middle" fill="#262626">0.5</text>
<text x="465.7" y="1536.5" font-size="61.1" text-anchor="middle" fill="#262626">1</text>
<text x="628.0" y="1536.5" font-size="61.1" text-anchor="middle" fill="#262626">1.5</text>
<text x="117.8" y="1479.3" font-size="61.1" text-anchor="end" fill="#262626">0</text>
<text x="117.8" y="1298.0" font-size="61.1" text-anchor="end" fill="#262626">1</text>
<text x="117.8" y="1116.7" font-size="61.1" text-anchor="end" fill="#262626">2</text>
<text x="117.8" y="935.4" font-size="61.1" text-anchor="end" fill="#262626">3</text>
<text x="384.5" y="1619.1" font-size="67.2" text-anchor="middle" fill="#262626">q1 [rad]</text>
<text transform="translate(61.3,1179.5) rotate(-90)" font-size="67.2" text-anchor="middle" fill="#262626">q2 [rad]</text>
</g>
<g id="ax11">
<clipPath id="cp11"><rect x="879.0" y="897.0" width="487.0" height="562.0"/></clipPath>
<g clip-path="url(#cp11)">
<rect x="879.0" y="897.0" width="487.0" height="562.0" fill="#3e26a8"/>
<path d="M879.0,1384.1 L879.0,1416.4 L911.5,1416.4 L943.9,1416.4 L976.4,1416.4 L1008.9,1416.4 L1041.3,1416.4 L1073.8,1416.4 L1106.3,1416.4 L1138.7,1416.4 L1171.2,1416.4 L1203.7,1416.4 L1236.1,1416.4 L1268.6,1416.4 L1301.1,1416.4 L1333.5,1416.4 L1366.0,1416.4 L1366.0,1384.1 L1366.0,1346.6 L1366.0,1309.1 L1366.0,1271.7 L1366.0,1234.2 L1366.0,1196.7 L1366.0,1159.3 L1366.0,1121.8 L1366.0,1084.3 L1366.0,1046.9 L1366.0,1009.4 L1366.0,971.9 L1366.0,934.5 L1366.0,897.0 L1333.5,897.0 L1301.1,897.0 L1268.6,897.0 L1236.1,897.0 L1203.7,897.0 L1171.2,897.0 L1138.7,897.0 L1106.3,897.0 L1073.8,897.0 L1041.3,897.0 L1008.9,897.0 L976.4,897.0 L943.9,897.0 L911.5,897.0 L879.0,897.0 L879.0,934.5 L879.0,971.9 L879.0,1009.4 L879.0,1046.9 L879.0,1084.3 L879.0,1121.8 L879.0,1159.3 L879.0,1196.7 L879.0,1234.2 L879.0,1271.7 L879.0,1309.1 L879.0,1346.6 L879.0,1384.1Z" fill="#4537d5" fill-rule="evenodd"/>
<path d="M879.0,1346.6 L879.0,1377.2 L911.5,1377.2 L943.9,1377.2 L976.4,1377.2 L1008.9,1377.2 L1041.3,1377.2 L1073.8,1377.2 L1106.3,1377.2 L1138.7,1377.2 L1171.2,1377.2 L1203.7,1377.2 L1236.1,1377.2 L1268.6,1377.2 L1301.1,1377.2 L1333.5,1377.2 L1366.0,1377.2 L1366.0,1346.6 L1366.0,1309.1 L1366.0,1271.7 L1366.0,1234.2 L1366.0,1196.7 L1366.0,1159.3 L1366.0,1121.8 L1366.0,1084.3 L1366.0,1046.9 L1366.0,1009.4 L1366.0,971.9 L1366.0,934.5 L1366.0,897.0 L1333.5,897.0 L1301.1,897.0 L1268.6,897.0 L1236.1,897.0 L1203.7,897.0 L1171.2,897.0 L1138.7,897.0 L1106.3,897.0 L1073.8,897.0 L1041.3,897.0 L1008.9,897.0 L976.4,897.0 L943.9,897.0 L911.5,897.0 L879.0,897.0 L879.0,934.5 L879.0,971.9 L879.0,1009.4 L879.0,1046.9 L879.0,1084.3 L879.0,1121.8 L879.0,1159.3 L879.0,1196.7 L879.0,1234.2 L879.0,1271.7 L879.0,1309.1 L879.0,1346.6Z" fill="#484df0" fill-rule="evenodd"/>
<path d="M879.0,1309.1 L879.0,1340.4 L911.5,1340.4 L943.9,1340.4 L976.4,1340.4 L1008.9,1340.4 L1041.3,1340.4 L1073.8,1340.4 L1106.3,1340.4 L1138.7,1340.4 L1171.2,1340.4 L1203.7,1340.4 L1236.1,1340.4 L1268.6,1340.4 L1301.1,1340.4 L1333.5,1340.4 L1366.0,1340.4 L1366.0,1309.1 L1366.0,1271.7 L1366.0,1234.2 L1366.0,1196.7 L1366.0,1159.3 L1366.0,1121.8 L1366.0,1084.3 L1366.0,1046.9 L1366.0,1009.4 L1366.0,971.9 L1366.0,934.5 L1366.0,897.0 L1333.5,897.0 L1301.1,897.0 L1268.6,897.0 L1236.1,897.0 L1203.7,897.0 L1171.2,897.0 L1138.7,897.0 L1106.3,897.0 L1073.8,897.0 L1041.3,897.0 L1008.9,897.0 L976.4,897.0 L943.9,897.0 L911.5,897.0 L879.0,897.0 L879.0,934.5 L879.0,971.9 L879.0,1009.4 L879.0,1046.9 L879.0,1084.3 L879.0,1121.8 L879.0,1159.3 L879.0,1196.7 L879.0,1234.2 L879.0,1271.7 L879.0,1309.1Z" fill="#4563fd" fill-rule="evenodd"/>
<path d="M879.0,1271.7 L879.0,1305.4 L911.5,1305.4 L943.9,1305.4 L976.4,1305.4 L1008.9,1305.4 L1041.3,1305.4 L1073.8,1305.4 L1106.3,1305.4 L1138.7,1305.4 L1171.2,1305.4 L1203.7,1305.4 L1236.1,1305.4 L1268.6,1305.4 L1301.1,1305.4 L1333.5,1305.4 L1366.0,1305.4 L1366.0,1271.7 L1366.0,1234.2 L1366.0,1196.7 L1366.0,1159.3 L1366.0,1121.8 L1366.0,1084.3 L1366.0,1046.9 L1366.0,1009.4 L1366.0,971.9 L1366.0,934.5 L1366.0,897.0 L1333.5,897.0 L1301.1,897.0 L1268.6,897.0 L1236.1,897.0 L1203.7,897.0 L1171.2,897.0 L1138.7,897.0 L1106.3,897.0 L1073.8,897.0 L1041.3,897.0 L1008.9,897.0 L976.4,897.0 L943.9,897.0 L911.5,897.0 L879.0,897.0 L879.0,934.5 L879.0,971.9 L879.0,1009.4 L879.0,1046.9 L879.0,1084.3 L879.0,1121.8 L879.0,1159.3 L879.0,1196.7 L879.0,1234.2 L879.0,1271.7Z" fill="#2f81fa" fill-rule="evenodd"/>
<path d="M879.0,1234.2 L879.0,1271.6 L911.5,1271.6 L943.9,1271.6 L976.4,1271.6 L1008.9,1271.6 L1041.3,1271.6 L1073.8,1271.6 L1106.3,1271.6 L1138.7,1271.6 L1171.2,1271.6 L1203.7,1271.6 L1236.1,1271.6 L1268.6,1271.6 L1301.1,1271.6 L1333.5,1271.6 L1366.0,1271.6 L1366.0,1234.2 L1366.0,1196.7 L1366.0,1159.3 L1366.0,1121.8 L1366.0,1084.3 L1366.0,1046.9 L1366.0,1009.4 L1366.0,971.9 L1366.0,934.5 L1366.0,897.0 L1333.5,897.0 L1301.1,897.0 L1268.6,897.0 L1236.1,897.0 L1203.7,897.0 L1171.2,897.0 L1138.7,897.0 L1106.3,897.0 L1073.8,897.0 L1041.3,897.0 L1008.9,897.0 L976.4,897.0 L943.9,897.0 L911.5,897.0 L879.0,897.0 L879.0,934.5 L879.0,971.9 L879.0,1009.4 L879.0,1046.9 L879.0,1084.3 L879.0,1121.8 L879.0,1159.3 L879.0,1196.7 L879.0,1234.2Z" fill="#2797eb" fill-rule="evenodd"/>
<path d="M879.0,1234.2 L879.0,1238.8 L911.5,1238.8 L943.9,1238.8 L976.4,1238.8 L1008.9,1238.8 L1041.3,1238.8 L1073.8,1238.8 L1106.3,1238.8 L1138.7,1238.8 L1171.2,1238.8 L1203.7,1238.8 L1236.1,1238.8 L1268.6,1238.8 L1301.1,1238.8 L1333.5,1238.8 L1366.0,1238.8 L1366.0,1234.2 L1366.0,1196.7 L1366.0,1159.3 L1366.0,1121.8 L1366.0,1084.3 L1366.0,1046.9 L1366.0,1009.4 L1366.0,971.9 L1366.0,934.5 L1366.0,897.0 L1333.5,897.0 L1301.1,897.0 L1268.6,897.0 L1236.1,897.0 L1203.7,897.0 L1171.2,897.0 L1138.7,897.0 L1106.3,897.0 L1073.8,897.0 L1041.3,897.0 L1008.9,897.0 L976.4,897.0 L943.9,897.0 L911.5,897.0 L879.0,897.0 L879.0,934.5 L879.0,971.9 L879.0,1009.4 L879.0,1046.9 L879.0,1084.3 L879.0,1121.8 L879.0,1159.3 L879.0,1196.7 L879.0,1234.2Z" fill="#1ca9df" fill-rule="evenodd"/>
<path d="M879.0,1196.7 L879.0,1206.5 L911.5,1206.5 L943.9,1206.5 L976.4,1206.5 L1008.9,1206.5 L1041.3,1206.5 L1073.8,1206.5 L1106.3,1206.5 L1138.7,1206.5 L1171.2,1206.5 L1203.7,1206.5 L1236.1,1206.5 L1268.6,1206.5 L1301.1,1206.5 L1333.5,1206.5 L1366.0,1206.5 L1366.0,1196.7 L1366.0,1159.3 L1366.0,1121.8 L1366.0,1084.3 L1366.0,1046.9 L1366.0,1009.4 L1366.0,971.9 L1366.0,934.5 L1366.0,897.0 L1333.5,897.0 L1301.1,897.0 L1268.6,897.0 L1236.1,897.0 L1203.7,897.0 L1171.2,897.0 L1138.7,897.0 L1106.3,897.0 L1073.8,897.0 L1041.3,897.0 L1008.9,897.0 L976.4,897.0 L943.9,897.0 L911.5,897.0 L879.0,897.0 L879.0,934.5 L879.0,971.9 L879.0,1009.4 L879.0,1046.9 L879.0,1084.3 L879.0,1121.8 L879.0,1159.3 L879.0,1196.7Z" fill="#01b8ca" fill-rule="evenodd"/>
<path d="M879.0,1159.3 L879.0,1174.5 L911.5,1174.5 L943.9,1174.5 L976.4,1174.5 L1008.9,1174.5 L1041.3,1174.5 L1073.8,1174.5 L1106.3,1174.5 L1138.7,1174.5 L1171.2,1174.5 L1203.7,1174.5 L1236.1,1174.5 L1268.6,1174.5 L1301.1,1174.5 L1333.5,1174.5 L1366.0,1174.5 L1366.0,1159.3 L1366.0,1121.8 L1366.0,1084.3 L1366.0,1046.9 L1366.0,1009.4 L1366.0,971.9 L1366.0,934.5 L1366.0,897.0 L1333.5,897.0 L1301.1,897.0 L1268.6,897.0 L1236.1,897.0 L1203.7,897.0 L1171.2,897.0 L1138.7,897.0 L1106.3,897.0 L1073.8,897.0 L1041.3,897.0 L1008.9,897.0 L976.4,897.0 L943.9,897.0 L911.5,897.0 L879.0,897.0 L879.0,934.5 L879.0,971.9 L879.0,1009.4 L879.0,1046.9 L879.0,1084.3 L879.0,1121.8 L879.0,1159.3Z" fill="#2cc4a7" fill-rule="evenodd"/>
<path d="M879.0,1121.8 L879.0,1142.5 L911.5,1142.5 L943.9,1142.5 L976.4,1142.5 L1008.9,1142.5 L1041.3,1142.5 L1073.8,1142.5 L1106.3,1142.5 L1138.7,1142.5 L1171.2,1142.5 L1203.7,1142.5 L1236.1,1142.5 L1268.6,1142.5 L1301.1,1142.5 L1333.5,1142.5 L1366.0,1142.5 L1366.0,1121.8 L1366.0,1084.3 L1366.0,1046.9 L1366.0,1009.4 L1366.0,971.9 L1366.0,934.5 L1366.0,897.0 L1333.5,897.0 L1301.1,897.0 L1268.6,897.0 L1236.1,897.0 L1203.7,897.0 L1171.2,897.0 L1138.7,897.0 L1106.3,897.0 L1073.8,897.0 L1041.3,897.0 L1008.9,897.0 L976.4,897.0 L943.9,897.0 L911.5,897.0 L879.0,897.0 L879.0,934.5 L879.0,971.9 L879.0,1009.4 L879.0,1046.9 L879.0,1084.3 L879.0,1121.8Z" fill="#4acb84" fill-rule="evenodd"/>
<path d="M879.0,1084.3 L879.0,1110.4 L911.5,1110.4 L943.9,1110.4 L976.4,1110.4 L1008.9,1110.4 L1041.3,1110.4 L1073.8,1110.4 L1106.3,1110.4 L1138.7,1110.4 L1171.2,1110.4 L1203.7,1110.4 L1236.1,1110.4 L1268.6,1110.4 L1301.1,1110.4 L1333.5,1110.4 L1366.0,1110.4 L1366.0,1084.3 L1366.0,1046.9 L1366.0,1009.4 L1366.0,971.9 L1366.0,934.5 L1366.0,897.0 L1333.5,897.0 L1301.1,897.0 L1268.6,897.0 L1236.1,897.0 L1203.7,897.0 L1171.2,897.0 L1138.7,897.0 L1106.3,897.0 L1073.8,897.0 L1041.3,897.0 L1008.9,897.0 L976.4,897.0 L943.9,897.0 L911.5,897.0 L879.0,897.0 L879.0,934.5 L879.0,971.9 L879.0,1009.4 L879.0,1046.9 L879.0,1084.3Z" fill="#81cc59" fill-rule="evenodd"/>
<path d="M879.0,1046.9 L879.0,1077.9 L911.5,1077.9 L943.9,1077.9 L976.4,1077.9 L1008.9,1077.9 L1041.3,1077.9 L1073.8,1077.9 L1106.3,1077.9 L1138.7,1077.9 L1171.2,1077.9 L1203.7,1077.9 L1236.1,1077.9 L1268.6,1077.9 L1301.1,1077.9 L1333.5,1077.9 L1366.0,1077.9 L1366.0,1046.9 L1366.0,1009.4 L1366.0,971.9 L1366.0,934.5 L1366.0,897.0 L1333.5,897.0 L1301.1,897.0 L1268.6,897.0 L1236.1,897.0 L1203.7,897.0 L1171.2,897.0 L1138.7,897.0 L1106.3,897.0 L1073.8,897.0 L1041.3,897.0 L1008.9,897.0 L976.4,897.0 L943.9,897.0 L911.5,897.0 L879.0,897.0 L879.0,934.5 L879.0,971.9 L879.0,1009.4 L879.0,1046.9Z" fill="#b9c431" fill-rule="evenodd"/>
<path d="M879.0,1009.4 L879.0,1044.8 L911.5,1044.8 L943.9,1044.8 L976.4,1044.8 L1008.9,1044.8 L1041.3,1044.8 L1073.8,1044.8 L1106.3,1044.8 L1138.7,1044.8 L1171.2,1044.8 L1203.7,1044.8 L1236.1,1044.8 L1268.6,1044.8 L1301.1,1044.8 L1333.5,1044.8 L1366.0,1044.8 L1366.0,1009.4 L1366.0,971.9 L1366.0,934.5 L1366.0,897.0 L1333.5,897.0 L1301.1,897.0 L1268.6,897.0 L1236.1,897.0 L1203.7,897.0 L1171.2,897.0 L1138.7,897.0 L1106.3,897.0 L1073.8,897.0 L1041.3,897.0 L1008.9,897.0 L976.4,897.0 L943.9,897.0 L911.5,897.0 L879.0,897.0 L879.0,934.5 L879.0,971.9 L879.0,1009.4Z" fill="#f0ba36" fill-rule="evenodd"/>
<path d="M879.0,1009.4 L879.0,1010.6 L911.5,1010.6 L943.9,1010.6 L976.4,1010.6 L1008.9,1010.6 L1041.3,1010.6 L1073.8,1010.6 L1106.3,1010.6 L1138.7,1010.6 L1171.2,1010.6 L1203.7,1010.6 L1236.1,1010.6 L1268.6,1010.6 L1301.1,1010.6 L1333.5,1010.6 L1366.0,1010.6 L1366.0,1009.4 L1366.0,971.9 L1366.0,934.5 L1366.0,897.0 L1333.5,897.0 L1301.1,897.0 L1268.6,897.0 L1236.1,897.0 L1203.7,897.0 L1171.2,897.0 L1138.7,897.0 L1106.3,897.0 L1073.8,897.0 L1041.3,897.0 L1008.9,897.0 L976.4,897.0 L943.9,897.0 L911.5,897.0 L879.0,897.0 L879.0,934.5 L879.0,971.9 L879.0,1009.4Z" fill="#fec934" fill-rule="evenodd"/>
<path d="M879.0,971.9 L879.0,974.9 L911.5,974.9 L943.9,974.9 L976.4,974.9 L1008.9,974.9 L1041.3,974.9 L1073.8,974.9 L1106.3,974.9 L1138.7,974.9 L1171.2,974.9 L1203.7,974.9 L1236.1,974.9 L1268.6,974.9 L1301.1,974.9 L1333.5,974.9 L1366.0,974.9 L1366.0,971.9 L1366.0,934.5 L1366.0,897.0 L1333.5,897.0 L1301.1,897.0 L1268.6,897.0 L1236.1,897.0 L1203.7,897.0 L1171.2,897.0 L1138.7,897.0 L1106.3,897.0 L1073.8,897.0 L1041.3,897.0 L1008.9,897.0 L976.4,897.0 L943.9,897.0 L911.5,897.0 L879.0,897.0 L879.0,934.5 L879.0,971.9Z" fill="#f5e327" fill-rule="evenodd"/>
<path d="M879.0,934.5 L879.0,937.3 L911.5,937.3 L943.9,937.3 L976.4,937.3 L1008.9,937.3 L1041.3,937.3 L1073.8,937.3 L1106.3,937.3 L1138.7,937.3 L1171.2,937.3 L1203.7,937.3 L1236.1,937.3 L1268.6,937.3 L1301.1,937.3 L1333.5,937.3 L1366.0,937.3 L1366.0,934.5 L1366.0,897.0 L1333.5,897.0 L1301.1,897.0 L1268.6,897.0 L1236.1,897.0 L1203.7,897.0 L1171.2,897.0 L1138.7,897.0 L1106.3,897.0 L1073.8,897.0 L1041.3,897.0 L1008.9,897.0 L976.4,897.0 L943.9,897.0 L911.5,897.0 L879.0,897.0 L879.0,934.5Z" fill="#f9fb15" fill-rule="evenodd"/>
<path d="M879.0,1416.4 L911.5,1416.4 L943.9,1416.4 L976.4,1416.4 L1008.9,1416.4 L1041.3,1416.4 L1073.8,1416.4 L1106.3,1416.4 L1138.7,1416.4 L1171.2,1416.4 L1203.7,1416.4 L1236.1,1416.4 L1268.6,1416.4 L1301.1,1416.4 L1333.5,1416.4 L1366.0,1416.4M879.0,1377.2 L911.5,1377.2 L943.9,1377.2 L976.4,1377.2 L1008.9,1377.2 L1041.3,1377.2 L1073.8,1377.2 L1106.3,1377.2 L1138.7,1377.2 L1171.2,1377.2 L1203.7,1377.2 L1236.1,1377.2 L1268.6,1377.2 L1301.1,1377.2 L1333.5,1377.2 L1366.0,1377.2M879.0,1340.4 L911.5,1340.4 L943.9,1340.4 L976.4,1340.4 L1008.9,1340.4 L1041.3,1340.4 L1073.8,1340.4 L1106.3,1340.4 L1138.7,1340.4 L1171.2,1340.4 L1203.7,1340.4 L1236.1,1340.4 L1268.6,1340.4 L1301.1,1340.4 L1333.5,1340.4 L1366.0,1340.4M879.0,1305.4 L911.5,1305.4 L943.9,1305.4 L976.4,1305.4 L1008.9,1305.4 L1041.3,1305.4 L1073.8,1305.4 L1106.3,1305.4 L1138.7,1305.4 L1171.2,1305.4 L1203.7,1305.4 L1236.1,1305.4 L1268.6,1305.4 L1301.1,1305.4 L1333.5,1305.4 L1366.0,1305.4M879.0,1271.6 L911.5,1271.6 L943.9,1271.6 L976.4,1271.6 L1008.9,1271.6 L1041.3,1271.6 L1073.8,1271.6 L1106.3,1271.6 L1138.7,1271.6 L1171.2,1271.6 L1203.7,1271.6 L1236.1,1271.6 L1268.6,1271.6 L1301.1,1271.6 L1333.5,1271.6 L1366.0,1271.6M879.0,1238.8 L911.5,1238.8 L943.9,1238.8 L976.4,1238.8 L1008.9,1238.8 L1041.3,1238.8 L1073.8,1238.8 L1106.3,1238.8 L1138.7,1238.8 L1171.2,1238.8 L1203.7,1238.8 L1236.1,1238.8 L1268.6,1238.8 L1301.1,1238.8 L1333.5,1238.8 L1366.0,1238.8M879.0,1206.5 L911.5,1206.5 L943.9,1206.5 L976.4,1206.5 L1008.9,1206.5 L1041.3,1206.5 L1073.8,1206.5 L1106.3,1206.5 L1138.7,1206.5 L1171.2,1206.5 L1203.7,1206.5 L1236.1,1206.5 L1268.6,1206.5 L1301.1,1206.5 L1333.5,1206.5 L1366.0,1206.5M879.0,1174.5 L911.5,1174.5 L943.9,1174.5 L976.4,1174.5 L1008.9,1174.5 L1041.3,1174.5 L1073.8,1174.5 L1106.3,1174.5 L1138.7,1174.5 L1171.2,1174.5 L1203.7,1174.5 L1236.1,1174.5 L1268.6,1174.5 L1301.1,1174.5 L1333.5,1174.5 L1366.0,1174.5M879.0,1142.5 L911.5,1142.5 L943.9,1142.5 L976.4,1142.5 L1008.9,1142.5 L1041.3,1142.5 L1073.8,1142.5 L1106.3,1142.5 L1138.7,1142.5 L1171.2,1142.5 L1203.7,1142.5 L1236.1,1142.5 L1268.6,1142.5 L1301.1,1142.5 L1333.5,1142.5 L1366.0,1142.5M879.0,1110.4 L911.5,1110.4 L943.9,1110.4 L976.4,1110.4 L1008.9,1110.4 L1041.3,1110.4 L1073.8,1110.4 L1106.3,1110.4 L1138.7,1110.4 L1171.2,1110.4 L1203.7,1110.4 L1236.1,1110.4 L1268.6,1110.4 L1301.1,1110.4 L1333.5,1110.4 L1366.0,1110.4M879.0,1077.9 L911.5,1077.9 L943.9,1077.9 L976.4,1077.9 L1008.9,1077.9 L1041.3,1077.9 L1073.8,1077.9 L1106.3,1077.9 L1138.7,1077.9 L1171.2,1077.9 L1203.7,1077.9 L1236.1,1077.9 L1268.6,1077.9 L1301.1,1077.9 L1333.5,1077.9 L1366.0,1077.9M879.0,1044.8 L911.5,1044.8 L943.9,1044.8 L976.4,1044.8 L1008.9,1044.8 L1041.3,1044.8 L1073.8,1044.8 L1106.3,1044.8 L1138.7,1044.8 L1171.2,1044.8 L1203.7,1044.8 L1236.1,1044.8 L1268.6,1044.8 L1301.1,1044.8 L1333.5,1044.8 L1366.0,1044.8M879.0,1010.6 L911.5,1010.6 L943.9,1010.6 L976.4,1010.6 L1008.9,1010.6 L1041.3,1010.6 L1073.8,1010.6 L1106.3,1010.6 L1138.7,1010.6 L1171.2,1010.6 L1203.7,1010.6 L1236.1,1010.6 L1268.6,1010.6 L1301.1,1010.6 L1333.5,1010.6 L1366.0,1010.6M879.0,974.9 L911.5,974.9 L943.9,974.9 L976.4,974.9 L1008.9,974.9 L1041.3,974.9 L1073.8,974.9 L1106.3,974.9 L1138.7,974.9 L1171.2,974.9 L1203.7,974.9 L1236.1,974.9 L1268.6,974.9 L1301.1,974.9 L1333.5,974.9 L1366.0,974.9M879.0,937.3 L911.5,937.3 L943.9,937.3 L976.4,937.3 L1008.9,937.3 L1041.3,937.3 L1073.8,937.3 L1106.3,937.3 L1138.7,937.3 L1171.2,937.3 L1203.7,937.3 L1236.1,937.3 L1268.6,937.3 L1301.1,937.3 L1333.5,937.3 L1366.0,937.3" fill="none" stroke="#000" stroke-width="3.5" stroke-linejoin="round" stroke-linecap="butt"/>
</g>
<path d="M1041.3,1459.0v-8.6M1041.3,897.0v8.6M1203.7,1459.0v-8.6M1203.7,897.0v8.6M879.0,1432.5h8.6M1366.0,1432.5h-8.6M879.0,1245.1h8.6M1366.0,1245.1h-8.6M879.0,1057.8h8.6M1366.0,1057.8h-8.6" stroke="#262626" stroke-width="5.8" fill="none"/>
<rect x="879.0" y="897.0" width="487.0" height="562.0" fill="none" stroke="#262626" stroke-width="5.8"/>
<text x="879.0" y="1536.5" font-size="61.1" text-anchor="middle" fill="#262626">0</text>
<text x="1041.3" y="1536.5" font-size="61.1" text-anchor="middle" fill="#262626">0.5</text>
<text x="1203.7" y="1536.5" font-size="61.1" text-anchor="middle" fill="#262626">1</text>
<text x="1366.0" y="1536.5" font-size="61.1" text-anchor="middle" fill="#262626">1.5</text>
<text x="855.8" y="1452.8" font-size="61.1" text-anchor="end" fill="#262626">-1.5</text>
<text x="855.8" y="1265.4" font-size="61.1" text-anchor="end" fill="#262626">-1</text>
<text x="855.8" y="1078.1" font-size="61.1" text-anchor="end" fill="#262626">-0.5</text>
<text x="1122.5" y="1619.1" font-size="67.2" text-anchor="middle" fill="#262626">q1 [rad]</text>
<text transform="translate(730.4,1179.5) rotate(-90)" font-size="67.2" text-anchor="middle" fill="#262626">q2 [rad]</text>
</g>
<g id="ax12">
<clipPath id="cp12"><rect x="1617.0" y="897.0" width="486.4000000000001" height="562.0"/></clipPath>
<g clip-path="url(#cp12)">
<rect x="1617.0" y="897.0" width="486.4000000000001" height="562.0" fill="#3e26a8"/>
<path d="M1617.0,1440.9 L1617.0,1453.6 L1632.7,1450.2 L1648.4,1446.2 L1664.1,1441.3 L1665.4,1440.9 L1679.8,1435.4 L1695.5,1427.9 L1704.4,1422.7 L1711.1,1418.1 L1726.8,1404.7 L1727.0,1404.6 L1742.2,1386.5 L1742.5,1385.9 L1753.5,1368.4 L1758.2,1358.7 L1762.2,1350.2 L1769.5,1332.1 L1773.9,1319.2 L1775.7,1314.0 L1781.6,1295.8 L1786.8,1277.7 L1789.6,1267.2 L1791.8,1259.6 L1796.8,1241.5 L1801.5,1223.3 L1805.3,1208.3 L1806.1,1205.2 L1811.3,1187.1 L1816.2,1168.9 L1821.0,1151.1 L1821.1,1150.8 L1826.8,1132.7 L1832.5,1114.5 L1836.7,1101.5 L1838.6,1096.4 L1845.7,1078.3 L1852.4,1061.4 L1853.0,1060.2 L1862.4,1042.0 L1868.0,1031.4 L1873.7,1023.9 L1883.7,1011.0 L1891.2,1005.8 L1899.4,1000.2 L1915.1,999.0 L1926.9,1005.8 L1930.8,1008.3 L1942.2,1023.9 L1946.5,1030.5 L1951.5,1042.0 L1958.7,1060.2 L1962.2,1070.0 L1964.4,1078.3 L1968.9,1096.4 L1972.9,1114.5 L1976.5,1132.7 L1977.9,1140.4 L1979.4,1150.8 L1981.7,1168.9 L1983.6,1187.1 L1985.2,1205.2 L1986.4,1223.3 L1987.2,1241.5 L1987.5,1259.6 L1987.4,1277.7 L1986.8,1295.8 L1985.4,1314.0 L1983.4,1332.1 L1980.4,1350.2 L1977.9,1361.8 L1976.1,1368.4 L1970.0,1386.5 L1962.2,1404.2 L1962.0,1404.6 L1950.4,1422.7 L1946.5,1428.0 L1935.0,1440.9 L1930.8,1445.0 L1915.1,1458.7 L1914.7,1459.0 L1915.1,1459.0 L1930.8,1459.0 L1946.5,1459.0 L1962.2,1459.0 L1977.9,1459.0 L1993.6,1459.0 L2009.3,1459.0 L2024.9,1459.0 L2040.6,1459.0 L2056.3,1459.0 L2072.0,1459.0 L2087.7,1459.0 L2103.4,1459.0 L2103.4,1440.9 L2103.4,1422.7 L2103.4,1404.6 L2103.4,1386.5 L2103.4,1368.4 L2103.4,1350.2 L2103.4,1332.1 L2103.4,1314.0 L2103.4,1295.8 L2103.4,1277.7 L2103.4,1259.6 L2103.4,1241.5 L2103.4,1223.3 L2103.4,1205.2 L2103.4,1187.1 L2103.4,1168.9 L2103.4,1150.8 L2103.4,1132.7 L2103.4,1114.5 L2103.4,1096.4 L2103.4,1078.3 L2103.4,1060.2 L2103.4,1042.0 L2103.4,1023.9 L2103.4,1005.8 L2103.4,987.6 L2103.4,969.5 L2103.4,951.4 L2103.4,933.3 L2103.4,915.1 L2103.4,897.0 L2087.7,897.0 L2072.0,897.0 L2056.3,897.0 L2040.6,897.0 L2024.9,897.0 L2009.3,897.0 L1993.6,897.0 L1977.9,897.0 L1962.2,897.0 L1946.5,897.0 L1930.8,897.0 L1915.1,897.0 L1899.4,897.0 L1883.7,897.0 L1868.0,897.0 L1852.4,897.0 L1836.7,897.0 L1821.0,897.0 L1805.3,897.0 L1789.6,897.0 L1773.9,897.0 L1758.2,897.0 L1742.5,897.0 L1726.8,897.0 L1711.1,897.0 L1695.5,897.0 L1679.8,897.0 L1664.1,897.0 L1648.4,897.0 L1632.7,897.0 L1617.0,897.0 L1617.0,915.1 L1617.0,933.3 L1617.0,951.4 L1617.0,969.5 L1617.0,987.6 L1617.0,1005.8 L1617.0,1023.9 L1617.0,1042.0 L1617.0,1060.2 L1617.0,1078.3 L1617.0,1096.4 L1617.0,1114.5 L1617.0,1132.7 L1617.0,1150.8 L1617.0,1168.9 L1617.0,1187.1 L1617.0,1205.2 L1617.0,1223.3 L1617.0,1241.5 L1617.0,1259.6 L1617.0,1277.7 L1617.0,1295.8 L1617.0,1314.0 L1617.0,1332.1 L1617.0,1350.2 L1617.0,1368.4 L1617.0,1386.5 L1617.0,1404.6 L1617.0,1422.7 L1617.0,1440.9Z" fill="#4537d5" fill-rule="evenodd"/>
<path d="M2037.0,1459.0 L2040.6,1459.0 L2056.3,1459.0 L2072.0,1459.0 L2087.7,1459.0 L2103.4,1459.0 L2103.4,1440.9 L2103.4,1422.7 L2103.4,1404.6 L2103.4,1386.5 L2103.4,1368.4 L2103.4,1350.2 L2103.4,1332.1 L2103.4,1314.0 L2103.4,1295.8 L2103.4,1277.7 L2103.4,1259.6 L2103.4,1241.5 L2103.4,1223.3 L2103.4,1205.2 L2103.4,1187.1 L2103.4,1168.9 L2103.4,1150.8 L2103.4,1132.7 L2103.4,1114.5 L2103.4,1096.4 L2103.4,1078.3 L2103.4,1060.2 L2103.4,1042.0 L2103.4,1023.9 L2103.4,1005.8 L2103.4,987.6 L2103.4,969.5 L2103.4,951.4 L2103.4,933.3 L2103.4,915.1 L2103.4,897.0 L2087.7,897.0 L2072.0,897.0 L2056.3,897.0 L2040.6,897.0 L2024.9,897.0 L2009.3,897.0 L1993.6,897.0 L1977.9,897.0 L1962.2,897.0 L1946.5,897.0 L1930.8,897.0 L1922.5,897.0 L1930.8,899.4 L1946.5,912.3 L1948.5,915.1 L1960.9,933.3 L1962.2,935.3 L1969.5,951.4 L1977.3,969.5 L1977.9,971.1 L1983.1,987.6 L1988.5,1005.8 L1993.5,1023.9 L1993.6,1024.0 L1997.5,1042.0 L2001.3,1060.2 L2004.9,1078.3 L2008.3,1096.4 L2009.3,1101.7 L2011.3,1114.5 L2013.9,1132.7 L2016.5,1150.8 L2018.9,1168.9 L2021.3,1187.1 L2023.5,1205.2 L2024.9,1217.9 L2025.5,1223.3 L2027.3,1241.5 L2029.0,1259.6 L2030.6,1277.7 L2032.2,1295.8 L2033.6,1314.0 L2034.9,1332.1 L2036.0,1350.2 L2037.0,1368.4 L2037.8,1386.5 L2038.4,1404.6 L2038.5,1422.7 L2038.2,1440.9 L2037.0,1459.0ZM1617.0,1404.6 L1617.0,1422.4 L1632.7,1415.0 L1648.4,1406.1 L1650.7,1404.6 L1664.1,1395.2 L1674.8,1386.5 L1679.8,1381.8 L1692.6,1368.4 L1695.5,1364.9 L1706.7,1350.2 L1711.1,1343.5 L1718.2,1332.1 L1726.8,1315.8 L1727.8,1314.0 L1736.3,1295.8 L1742.5,1280.5 L1743.7,1277.7 L1750.6,1259.6 L1756.7,1241.5 L1758.2,1236.8 L1762.7,1223.3 L1768.3,1205.2 L1773.5,1187.1 L1773.9,1185.7 L1779.0,1168.9 L1784.1,1150.8 L1789.1,1132.7 L1789.6,1130.8 L1794.4,1114.5 L1799.7,1096.4 L1804.9,1078.3 L1805.3,1076.8 L1810.7,1060.2 L1816.5,1042.0 L1821.0,1027.9 L1822.4,1023.9 L1829.3,1005.8 L1836.1,987.6 L1836.7,986.1 L1844.4,969.5 L1852.4,952.5 L1853.0,951.4 L1864.1,933.3 L1868.0,926.9 L1878.2,915.1 L1883.7,908.9 L1899.4,898.3 L1905.4,897.0 L1899.4,897.0 L1883.7,897.0 L1868.0,897.0 L1852.4,897.0 L1836.7,897.0 L1821.0,897.0 L1805.3,897.0 L1789.6,897.0 L1773.9,897.0 L1758.2,897.0 L1742.5,897.0 L1726.8,897.0 L1711.1,897.0 L1695.5,897.0 L1679.8,897.0 L1664.1,897.0 L1648.4,897.0 L1632.7,897.0 L1617.0,897.0 L1617.0,915.1 L1617.0,933.3 L1617.0,951.4 L1617.0,969.5 L1617.0,987.6 L1617.0,1005.8 L1617.0,1023.9 L1617.0,1042.0 L1617.0,1060.2 L1617.0,1078.3 L1617.0,1096.4 L1617.0,1114.5 L1617.0,1132.7 L1617.0,1150.8 L1617.0,1168.9 L1617.0,1187.1 L1617.0,1205.2 L1617.0,1223.3 L1617.0,1241.5 L1617.0,1259.6 L1617.0,1277.7 L1617.0,1295.8 L1617.0,1314.0 L1617.0,1332.1 L1617.0,1350.2 L1617.0,1368.4 L1617.0,1386.5 L1617.0,1404.6Z" fill="#484df0" fill-rule="evenodd"/>
<path d="M2102.8,1422.7 L2103.4,1423.8 L2103.4,1422.7 L2103.4,1404.6 L2103.4,1386.5 L2103.4,1368.4 L2103.4,1350.2 L2103.4,1332.1 L2103.4,1314.0 L2103.4,1295.8 L2103.4,1277.7 L2103.4,1259.6 L2103.4,1241.5 L2103.4,1223.3 L2103.4,1205.2 L2103.4,1187.1 L2103.4,1168.9 L2103.4,1150.8 L2103.4,1132.7 L2103.4,1114.5 L2103.4,1096.4 L2103.4,1078.3 L2103.4,1060.2 L2103.4,1042.0 L2103.4,1023.9 L2103.4,1005.8 L2103.4,987.6 L2103.4,969.5 L2103.4,951.4 L2103.4,933.3 L2103.4,915.1 L2103.4,897.0 L2087.7,897.0 L2072.0,897.0 L2056.3,897.0 L2040.6,897.0 L2024.9,897.0 L2009.3,897.0 L1993.6,897.0 L1991.5,897.0 L1993.6,902.2 L1997.6,915.1 L2003.0,933.3 L2008.2,951.4 L2009.3,955.5 L2012.5,969.5 L2016.5,987.6 L2020.4,1005.8 L2024.1,1023.9 L2024.9,1028.2 L2027.4,1042.0 L2030.5,1060.2 L2033.5,1078.3 L2036.5,1096.4 L2039.5,1114.5 L2040.6,1121.9 L2042.2,1132.7 L2044.9,1150.8 L2047.5,1168.9 L2050.2,1187.1 L2052.9,1205.2 L2055.7,1223.3 L2056.3,1227.3 L2058.4,1241.5 L2061.2,1259.6 L2064.1,1277.7 L2067.3,1295.8 L2070.7,1314.0 L2072.0,1320.6 L2074.3,1332.1 L2078.3,1350.2 L2082.8,1368.4 L2087.7,1384.8 L2088.2,1386.5 L2094.6,1404.6 L2102.8,1422.7ZM1617.0,1386.5 L1617.0,1391.6 L1624.7,1386.5 L1632.7,1380.5 L1647.0,1368.4 L1648.4,1367.1 L1664.1,1350.8 L1664.6,1350.2 L1678.9,1332.1 L1679.8,1330.9 L1691.0,1314.0 L1695.5,1306.4 L1701.4,1295.8 L1710.3,1277.7 L1711.1,1275.9 L1718.5,1259.6 L1725.8,1241.5 L1726.8,1238.6 L1732.6,1223.3 L1738.9,1205.2 L1742.5,1193.8 L1744.8,1187.1 L1750.5,1168.9 L1755.8,1150.8 L1758.2,1142.3 L1761.1,1132.7 L1766.4,1114.5 L1771.4,1096.4 L1773.9,1086.9 L1776.4,1078.3 L1781.6,1060.2 L1786.7,1042.0 L1789.6,1031.5 L1791.9,1023.9 L1797.4,1005.8 L1802.9,987.6 L1805.3,979.8 L1808.8,969.5 L1815.1,951.4 L1821.0,934.4 L1821.4,933.3 L1828.9,915.1 L1836.5,897.0 L1821.0,897.0 L1805.3,897.0 L1789.6,897.0 L1773.9,897.0 L1758.2,897.0 L1742.5,897.0 L1726.8,897.0 L1711.1,897.0 L1695.5,897.0 L1679.8,897.0 L1664.1,897.0 L1648.4,897.0 L1632.7,897.0 L1617.0,897.0 L1617.0,915.1 L1617.0,933.3 L1617.0,951.4 L1617.0,969.5 L1617.0,987.6 L1617.0,1005.8 L1617.0,1023.9 L1617.0,1042.0 L1617.0,1060.2 L1617.0,1078.3 L1617.0,1096.4 L1617.0,1114.5 L1617.0,1132.7 L1617.0,1150.8 L1617.0,1168.9 L1617.0,1187.1 L1617.0,1205.2 L1617.0,1223.3 L1617.0,1241.5 L1617.0,1259.6 L1617.0,1277.7 L1617.0,1295.8 L1617.0,1314.0 L1617.0,1332.1 L1617.0,1350.2 L1617.0,1368.4 L1617.0,1386.5Z" fill="#4563fd" fill-rule="evenodd"/>
<path d="M1617.0,1350.2 L1617.0,1361.2 L1629.0,1350.2 L1632.7,1346.4 L1645.7,1332.1 L1648.4,1328.7 L1659.6,1314.0 L1664.1,1307.4 L1671.6,1295.8 L1679.8,1281.5 L1681.9,1277.7 L1691.1,1259.6 L1695.5,1250.1 L1699.4,1241.5 L1706.9,1223.3 L1711.1,1212.2 L1713.8,1205.2 L1720.3,1187.1 L1726.2,1168.9 L1726.8,1167.0 L1732.1,1150.8 L1737.6,1132.7 L1742.5,1115.1 L1742.7,1114.5 L1748.0,1096.4 L1753.0,1078.3 L1757.8,1060.2 L1758.2,1058.5 L1762.8,1042.0 L1767.7,1023.9 L1772.5,1005.8 L1773.9,1000.5 L1777.6,987.6 L1782.7,969.5 L1787.8,951.4 L1789.6,945.0 L1793.3,933.3 L1799.0,915.1 L1804.7,897.0 L1789.6,897.0 L1773.9,897.0 L1758.2,897.0 L1742.5,897.0 L1726.8,897.0 L1711.1,897.0 L1695.5,897.0 L1679.8,897.0 L1664.1,897.0 L1648.4,897.0 L1632.7,897.0 L1617.0,897.0 L1617.0,915.1 L1617.0,933.3 L1617.0,951.4 L1617.0,969.5 L1617.0,987.6 L1617.0,1005.8 L1617.0,1023.9 L1617.0,1042.0 L1617.0,1060.2 L1617.0,1078.3 L1617.0,1096.4 L1617.0,1114.5 L1617.0,1132.7 L1617.0,1150.8 L1617.0,1168.9 L1617.0,1187.1 L1617.0,1205.2 L1617.0,1223.3 L1617.0,1241.5 L1617.0,1259.6 L1617.0,1277.7 L1617.0,1295.8 L1617.0,1314.0 L1617.0,1332.1 L1617.0,1350.2ZM2102.3,1314.0 L2103.4,1317.6 L2103.4,1314.0 L2103.4,1295.8 L2103.4,1277.7 L2103.4,1259.6 L2103.4,1241.5 L2103.4,1223.3 L2103.4,1205.2 L2103.4,1187.1 L2103.4,1168.9 L2103.4,1150.8 L2103.4,1132.7 L2103.4,1114.5 L2103.4,1096.4 L2103.4,1078.3 L2103.4,1060.2 L2103.4,1042.0 L2103.4,1023.9 L2103.4,1005.8 L2103.4,987.6 L2103.4,969.5 L2103.4,951.4 L2103.4,933.3 L2103.4,915.1 L2103.4,897.0 L2087.7,897.0 L2072.0,897.0 L2056.3,897.0 L2040.6,897.0 L2024.9,897.0 L2023.5,897.0 L2024.9,902.8 L2027.6,915.1 L2031.5,933.3 L2035.2,951.4 L2038.8,969.5 L2040.6,979.1 L2042.1,987.6 L2045.2,1005.8 L2048.3,1023.9 L2051.3,1042.0 L2054.3,1060.2 L2056.3,1072.2 L2057.3,1078.3 L2060.1,1096.4 L2062.9,1114.5 L2065.8,1132.7 L2068.8,1150.8 L2071.9,1168.9 L2072.0,1169.7 L2074.9,1187.1 L2078.0,1205.2 L2081.4,1223.3 L2085.0,1241.5 L2087.7,1254.4 L2088.8,1259.6 L2092.8,1277.7 L2097.3,1295.8 L2102.3,1314.0Z" fill="#2f81fa" fill-rule="evenodd"/>
<path d="M1617.0,1314.0 L1617.0,1330.8 L1631.5,1314.0 L1632.7,1312.4 L1644.9,1295.8 L1648.4,1290.6 L1656.5,1277.7 L1664.1,1264.3 L1666.7,1259.6 L1675.8,1241.5 L1679.8,1232.8 L1684.0,1223.3 L1691.6,1205.2 L1695.5,1194.9 L1698.5,1187.1 L1705.0,1168.9 L1710.9,1150.8 L1711.1,1150.0 L1716.7,1132.7 L1722.2,1114.5 L1726.8,1097.9 L1727.3,1096.4 L1732.4,1078.3 L1737.3,1060.2 L1742.0,1042.0 L1742.5,1039.9 L1746.8,1023.9 L1751.5,1005.8 L1756.1,987.6 L1758.2,979.0 L1760.8,969.5 L1765.6,951.4 L1770.3,933.3 L1773.9,919.1 L1775.0,915.1 L1780.2,897.0 L1773.9,897.0 L1758.2,897.0 L1742.5,897.0 L1726.8,897.0 L1711.1,897.0 L1695.5,897.0 L1679.8,897.0 L1664.1,897.0 L1648.4,897.0 L1632.7,897.0 L1617.0,897.0 L1617.0,915.1 L1617.0,933.3 L1617.0,951.4 L1617.0,969.5 L1617.0,987.6 L1617.0,1005.8 L1617.0,1023.9 L1617.0,1042.0 L1617.0,1060.2 L1617.0,1078.3 L1617.0,1096.4 L1617.0,1114.5 L1617.0,1132.7 L1617.0,1150.8 L1617.0,1168.9 L1617.0,1187.1 L1617.0,1205.2 L1617.0,1223.3 L1617.0,1241.5 L1617.0,1259.6 L1617.0,1277.7 L1617.0,1295.8 L1617.0,1314.0ZM2100.5,1205.2 L2103.4,1218.4 L2103.4,1205.2 L2103.4,1187.1 L2103.4,1168.9 L2103.4,1150.8 L2103.4,1132.7 L2103.4,1114.5 L2103.4,1096.4 L2103.4,1078.3 L2103.4,1060.2 L2103.4,1042.0 L2103.4,1023.9 L2103.4,1005.8 L2103.4,987.6 L2103.4,969.5 L2103.4,951.4 L2103.4,933.3 L2103.4,915.1 L2103.4,897.0 L2087.7,897.0 L2072.0,897.0 L2056.3,897.0 L2048.1,897.0 L2051.4,915.1 L2054.7,933.3 L2056.3,942.6 L2057.7,951.4 L2060.6,969.5 L2063.5,987.6 L2066.4,1005.8 L2069.3,1023.9 L2072.0,1040.8 L2072.2,1042.0 L2075.0,1060.2 L2077.8,1078.3 L2080.7,1096.4 L2083.7,1114.5 L2086.8,1132.7 L2087.7,1137.5 L2090.0,1150.8 L2093.3,1168.9 L2096.7,1187.1 L2100.5,1205.2Z" fill="#2797eb" fill-rule="evenodd"/>
<path d="M1617.0,1295.8 L1617.0,1300.3 L1620.5,1295.8 L1632.7,1278.4 L1633.1,1277.7 L1644.3,1259.6 L1648.4,1252.3 L1654.2,1241.5 L1663.1,1223.3 L1664.1,1221.1 L1671.2,1205.2 L1678.5,1187.1 L1679.8,1183.8 L1685.4,1168.9 L1691.8,1150.8 L1695.5,1139.5 L1697.7,1132.7 L1703.4,1114.5 L1708.7,1096.4 L1711.1,1087.6 L1713.8,1078.3 L1718.8,1060.2 L1723.5,1042.0 L1726.8,1028.8 L1728.1,1023.9 L1732.7,1005.8 L1737.2,987.6 L1741.5,969.5 L1742.5,965.1 L1745.9,951.4 L1750.4,933.3 L1754.7,915.1 L1758.2,900.3 L1759.1,897.0 L1758.2,897.0 L1742.5,897.0 L1726.8,897.0 L1711.1,897.0 L1695.5,897.0 L1679.8,897.0 L1664.1,897.0 L1648.4,897.0 L1632.7,897.0 L1617.0,897.0 L1617.0,915.1 L1617.0,933.3 L1617.0,951.4 L1617.0,969.5 L1617.0,987.6 L1617.0,1005.8 L1617.0,1023.9 L1617.0,1042.0 L1617.0,1060.2 L1617.0,1078.3 L1617.0,1096.4 L1617.0,1114.5 L1617.0,1132.7 L1617.0,1150.8 L1617.0,1168.9 L1617.0,1187.1 L1617.0,1205.2 L1617.0,1223.3 L1617.0,1241.5 L1617.0,1259.6 L1617.0,1277.7 L1617.0,1295.8ZM2102.6,1114.5 L2103.4,1118.8 L2103.4,1114.5 L2103.4,1096.4 L2103.4,1078.3 L2103.4,1060.2 L2103.4,1042.0 L2103.4,1023.9 L2103.4,1005.8 L2103.4,987.6 L2103.4,969.5 L2103.4,951.4 L2103.4,933.3 L2103.4,915.1 L2103.4,897.0 L2087.7,897.0 L2072.0,897.0 L2069.2,897.0 L2072.0,914.9 L2072.0,915.1 L2074.6,933.3 L2077.3,951.4 L2079.9,969.5 L2082.6,987.6 L2085.3,1005.8 L2087.7,1021.5 L2088.1,1023.9 L2090.7,1042.0 L2093.5,1060.2 L2096.4,1078.3 L2099.4,1096.4 L2102.6,1114.5Z" fill="#1ca9df" fill-rule="evenodd"/>
<path d="M1617.0,1259.6 L1617.0,1269.5 L1623.5,1259.6 L1632.7,1243.9 L1634.1,1241.5 L1643.6,1223.3 L1648.4,1213.4 L1652.2,1205.2 L1660.1,1187.1 L1664.1,1177.0 L1667.3,1168.9 L1674.0,1150.8 L1679.8,1133.8 L1680.1,1132.7 L1686.1,1114.5 L1691.6,1096.4 L1695.5,1082.6 L1696.7,1078.3 L1701.8,1060.2 L1706.5,1042.0 L1711.0,1023.9 L1711.1,1023.5 L1715.6,1005.8 L1719.9,987.6 L1724.1,969.5 L1726.8,957.3 L1728.2,951.4 L1732.4,933.3 L1736.5,915.1 L1740.5,897.0 L1726.8,897.0 L1711.1,897.0 L1695.5,897.0 L1679.8,897.0 L1664.1,897.0 L1648.4,897.0 L1632.7,897.0 L1617.0,897.0 L1617.0,915.1 L1617.0,933.3 L1617.0,951.4 L1617.0,969.5 L1617.0,987.6 L1617.0,1005.8 L1617.0,1023.9 L1617.0,1042.0 L1617.0,1060.2 L1617.0,1078.3 L1617.0,1096.4 L1617.0,1114.5 L1617.0,1132.7 L1617.0,1150.8 L1617.0,1168.9 L1617.0,1187.1 L1617.0,1205.2 L1617.0,1223.3 L1617.0,1241.5 L1617.0,1259.6ZM2102.5,1005.8 L2103.4,1011.6 L2103.4,1005.8 L2103.4,987.6 L2103.4,969.5 L2103.4,951.4 L2103.4,933.3 L2103.4,915.1 L2103.4,897.0 L2088.0,897.0 L2090.3,915.1 L2092.6,933.3 L2095.0,951.4 L2097.4,969.5 L2099.9,987.6 L2102.5,1005.8Z" fill="#01b8ca" fill-rule="evenodd"/>
<path d="M1617.0,1223.3 L1617.0,1238.1 L1625.3,1223.3 L1632.7,1208.6 L1634.4,1205.2 L1642.7,1187.1 L1648.4,1173.5 L1650.3,1168.9 L1657.3,1150.8 L1663.7,1132.7 L1664.1,1131.6 L1669.8,1114.5 L1675.5,1096.4 L1679.8,1081.6 L1680.8,1078.3 L1685.9,1060.2 L1690.7,1042.0 L1695.2,1023.9 L1695.5,1022.8 L1699.7,1005.8 L1704.0,987.6 L1708.0,969.5 L1711.1,955.1 L1712.0,951.4 L1716.0,933.3 L1719.8,915.1 L1723.5,897.0 L1711.1,897.0 L1695.5,897.0 L1679.8,897.0 L1664.1,897.0 L1648.4,897.0 L1632.7,897.0 L1617.0,897.0 L1617.0,915.1 L1617.0,933.3 L1617.0,951.4 L1617.0,969.5 L1617.0,987.6 L1617.0,1005.8 L1617.0,1023.9 L1617.0,1042.0 L1617.0,1060.2 L1617.0,1078.3 L1617.0,1096.4 L1617.0,1114.5 L1617.0,1132.7 L1617.0,1150.8 L1617.0,1168.9 L1617.0,1187.1 L1617.0,1205.2 L1617.0,1223.3Z" fill="#2cc4a7" fill-rule="evenodd"/>
<path d="M1617.0,1205.2 L1617.0,1206.0 L1617.4,1205.2 L1626.2,1187.1 L1632.7,1172.2 L1634.1,1168.9 L1641.5,1150.8 L1648.1,1132.7 L1648.4,1132.0 L1654.5,1114.5 L1660.3,1096.4 L1664.1,1083.7 L1665.7,1078.3 L1670.9,1060.2 L1675.8,1042.0 L1679.8,1026.0 L1680.3,1023.9 L1684.8,1005.8 L1689.0,987.6 L1693.0,969.5 L1695.5,957.7 L1696.8,951.4 L1700.6,933.3 L1704.3,915.1 L1707.8,897.0 L1695.5,897.0 L1679.8,897.0 L1664.1,897.0 L1648.4,897.0 L1632.7,897.0 L1617.0,897.0 L1617.0,915.1 L1617.0,933.3 L1617.0,951.4 L1617.0,969.5 L1617.0,987.6 L1617.0,1005.8 L1617.0,1023.9 L1617.0,1042.0 L1617.0,1060.2 L1617.0,1078.3 L1617.0,1096.4 L1617.0,1114.5 L1617.0,1132.7 L1617.0,1150.8 L1617.0,1168.9 L1617.0,1187.1 L1617.0,1205.2Z" fill="#4acb84" fill-rule="evenodd"/>
<path d="M1617.0,1168.9 L1617.0,1172.7 L1618.7,1168.9 L1626.4,1150.8 L1632.7,1134.2 L1633.3,1132.7 L1639.8,1114.5 L1645.8,1096.4 L1648.4,1088.0 L1651.4,1078.3 L1656.7,1060.2 L1661.6,1042.0 L1664.1,1032.1 L1666.2,1023.9 L1670.7,1005.8 L1674.8,987.6 L1678.7,969.5 L1679.8,964.4 L1682.6,951.4 L1686.2,933.3 L1689.7,915.1 L1693.0,897.0 L1679.8,897.0 L1664.1,897.0 L1648.4,897.0 L1632.7,897.0 L1617.0,897.0 L1617.0,915.1 L1617.0,933.3 L1617.0,951.4 L1617.0,969.5 L1617.0,987.6 L1617.0,1005.8 L1617.0,1023.9 L1617.0,1042.0 L1617.0,1060.2 L1617.0,1078.3 L1617.0,1096.4 L1617.0,1114.5 L1617.0,1132.7 L1617.0,1150.8 L1617.0,1168.9Z" fill="#81cc59" fill-rule="evenodd"/>
<path d="M1617.0,1132.7 L1617.0,1137.8 L1619.0,1132.7 L1625.8,1114.5 L1631.9,1096.4 L1632.7,1093.9 L1637.7,1078.3 L1643.1,1060.2 L1648.0,1042.0 L1648.4,1040.5 L1652.7,1023.9 L1657.2,1005.8 L1661.3,987.6 L1664.1,974.6 L1665.2,969.5 L1669.0,951.4 L1672.5,933.3 L1675.8,915.1 L1679.0,897.0 L1664.1,897.0 L1648.4,897.0 L1632.7,897.0 L1617.0,897.0 L1617.0,915.1 L1617.0,933.3 L1617.0,951.4 L1617.0,969.5 L1617.0,987.6 L1617.0,1005.8 L1617.0,1023.9 L1617.0,1042.0 L1617.0,1060.2 L1617.0,1078.3 L1617.0,1096.4 L1617.0,1114.5 L1617.0,1132.7Z" fill="#b9c431" fill-rule="evenodd"/>
<path d="M1617.0,1096.4 L1617.0,1100.8 L1618.5,1096.4 L1624.5,1078.3 L1629.9,1060.2 L1632.7,1050.2 L1635.0,1042.0 L1639.8,1023.9 L1644.2,1005.8 L1648.3,987.6 L1648.4,987.3 L1652.3,969.5 L1656.0,951.4 L1659.4,933.3 L1662.6,915.1 L1664.1,906.1 L1665.6,897.0 L1664.1,897.0 L1648.4,897.0 L1632.7,897.0 L1617.0,897.0 L1617.0,915.1 L1617.0,933.3 L1617.0,951.4 L1617.0,969.5 L1617.0,987.6 L1617.0,1005.8 L1617.0,1023.9 L1617.0,1042.0 L1617.0,1060.2 L1617.0,1078.3 L1617.0,1096.4Z" fill="#f0ba36" fill-rule="evenodd"/>
<path d="M1617.0,1060.2 L1617.0,1060.9 L1617.2,1060.2 L1622.5,1042.0 L1627.3,1023.9 L1631.7,1005.8 L1632.7,1001.3 L1635.9,987.6 L1639.8,969.5 L1643.4,951.4 L1646.8,933.3 L1648.4,923.8 L1649.9,915.1 L1652.9,897.0 L1648.4,897.0 L1632.7,897.0 L1617.0,897.0 L1617.0,915.1 L1617.0,933.3 L1617.0,951.4 L1617.0,969.5 L1617.0,987.6 L1617.0,1005.8 L1617.0,1023.9 L1617.0,1042.0 L1617.0,1060.2Z" fill="#fec934" fill-rule="evenodd"/>
<path d="M1617.0,1005.8 L1617.0,1016.2 L1619.6,1005.8 L1623.9,987.6 L1627.7,969.5 L1631.3,951.4 L1632.7,943.6 L1634.6,933.3 L1637.7,915.1 L1640.6,897.0 L1632.7,897.0 L1617.0,897.0 L1617.0,915.1 L1617.0,933.3 L1617.0,951.4 L1617.0,969.5 L1617.0,987.6 L1617.0,1005.8Z" fill="#f5e327" fill-rule="evenodd"/>
<path d="M1617.0,951.4 L1617.0,964.2 L1619.6,951.4 L1622.9,933.3 L1625.9,915.1 L1628.6,897.0 L1617.0,897.0 L1617.0,915.1 L1617.0,933.3 L1617.0,951.4Z" fill="#f9fb15" fill-rule="evenodd"/>
<path d="M1617.0,1453.6 L1632.7,1450.2 L1648.4,1446.2 L1664.1,1441.3 L1665.4,1440.9 L1679.8,1435.4 L1695.5,1427.9 L1704.4,1422.7 L1711.1,1418.1 L1726.8,1404.7 L1727.0,1404.6 L1742.2,1386.5 L1742.5,1385.9 L1753.5,1368.4 L1758.2,1358.7 L1762.2,1350.2 L1769.5,1332.1 L1773.9,1319.2 L1775.7,1314.0 L1781.6,1295.8 L1786.8,1277.7 L1789.6,1267.2 L1791.8,1259.6 L1796.8,1241.5 L1801.5,1223.3 L1805.3,1208.3 L1806.1,1205.2 L1811.3,1187.1 L1816.2,1168.9 L1821.0,1151.1 L1821.1,1150.8 L1826.8,1132.7 L1832.5,1114.5 L1836.7,1101.5 L1838.6,1096.4 L1845.7,1078.3 L1852.4,1061.4 L1853.0,1060.2 L1862.4,1042.0 L1868.0,1031.4 L1873.7,1023.9 L1883.7,1011.0 L1891.2,1005.8 L1899.4,1000.2 L1915.1,999.0 L1926.9,1005.8 L1930.8,1008.3 L1942.2,1023.9 L1946.5,1030.5 L1951.5,1042.0 L1958.7,1060.2 L1962.2,1070.0 L1964.4,1078.3 L1968.9,1096.4 L1972.9,1114.5 L1976.5,1132.7 L1977.9,1140.4 L1979.4,1150.8 L1981.7,1168.9 L1983.6,1187.1 L1985.2,1205.2 L1986.4,1223.3 L1987.2,1241.5 L1987.5,1259.6 L1987.4,1277.7 L1986.8,1295.8 L1985.4,1314.0 L1983.4,1332.1 L1980.4,1350.2 L1977.9,1361.8 L1976.1,1368.4 L1970.0,1386.5 L1962.2,1404.2 L1962.0,1404.6 L1950.4,1422.7 L1946.5,1428.0 L1935.0,1440.9 L1930.8,1445.0 L1915.1,1458.7 L1914.7,1459.0M1617.0,1422.4 L1632.7,1415.0 L1648.4,1406.1 L1650.7,1404.6 L1664.1,1395.2 L1674.8,1386.5 L1679.8,1381.8 L1692.6,1368.4 L1695.5,1364.9 L1706.7,1350.2 L1711.1,1343.5 L1718.2,1332.1 L1726.8,1315.8 L1727.8,1314.0 L1736.3,1295.8 L1742.5,1280.5 L1743.7,1277.7 L1750.6,1259.6 L1756.7,1241.5 L1758.2,1236.8 L1762.7,1223.3 L1768.3,1205.2 L1773.5,1187.1 L1773.9,1185.7 L1779.0,1168.9 L1784.1,1150.8 L1789.1,1132.7 L1789.6,1130.8 L1794.4,1114.5 L1799.7,1096.4 L1804.9,1078.3 L1805.3,1076.8 L1810.7,1060.2 L1816.5,1042.0 L1821.0,1027.9 L1822.4,1023.9 L1829.3,1005.8 L1836.1,987.6 L1836.7,986.1 L1844.4,969.5 L1852.4,952.5 L1853.0,951.4 L1864.1,933.3 L1868.0,926.9 L1878.2,915.1 L1883.7,908.9 L1899.4,898.3 L1905.4,897.0M1922.5,897.0 L1930.8,899.4 L1946.5,912.3 L1948.5,915.1 L1960.9,933.3 L1962.2,935.3 L1969.5,951.4 L1977.3,969.5 L1977.9,971.1 L1983.1,987.6 L1988.5,1005.8 L1993.5,1023.9 L1993.6,1024.0 L1997.5,1042.0 L2001.3,1060.2 L2004.9,1078.3 L2008.3,1096.4 L2009.3,1101.7 L2011.3,1114.5 L2013.9,1132.7 L2016.5,1150.8 L2018.9,1168.9 L2021.3,1187.1 L2023.5,1205.2 L2024.9,1217.9 L2025.5,1223.3 L2027.3,1241.5 L2029.0,1259.6 L2030.6,1277.7 L2032.2,1295.8 L2033.6,1314.0 L2034.9,1332.1 L2036.0,1350.2 L2037.0,1368.4 L2037.8,1386.5 L2038.4,1404.6 L2038.5,1422.7 L2038.2,1440.9 L2037.0,1459.0M1617.0,1391.6 L1624.7,1386.5 L1632.7,1380.5 L1647.0,1368.4 L1648.4,1367.1 L1664.1,1350.8 L1664.6,1350.2 L1678.9,1332.1 L1679.8,1330.9 L1691.0,1314.0 L1695.5,1306.4 L1701.4,1295.8 L1710.3,1277.7 L1711.1,1275.9 L1718.5,1259.6 L1725.8,1241.5 L1726.8,1238.6 L1732.6,1223.3 L1738.9,1205.2 L1742.5,1193.8 L1744.8,1187.1 L1750.5,1168.9 L1755.8,1150.8 L1758.2,1142.3 L1761.1,1132.7 L1766.4,1114.5 L1771.4,1096.4 L1773.9,1086.9 L1776.4,1078.3 L1781.6,1060.2 L1786.7,1042.0 L1789.6,1031.5 L1791.9,1023.9 L1797.4,1005.8 L1802.9,987.6 L1805.3,979.8 L1808.8,969.5 L1815.1,951.4 L1821.0,934.4 L1821.4,933.3 L1828.9,915.1 L1836.5,897.0M1991.5,897.0 L1993.6,902.2 L1997.6,915.1 L2003.0,933.3 L2008.2,951.4 L2009.3,955.5 L2012.5,969.5 L2016.5,987.6 L2020.4,1005.8 L2024.1,1023.9 L2024.9,1028.2 L2027.4,1042.0 L2030.5,1060.2 L2033.5,1078.3 L2036.5,1096.4 L2039.5,1114.5 L2040.6,1121.9 L2042.2,1132.7 L2044.9,1150.8 L2047.5,1168.9 L2050.2,1187.1 L2052.9,1205.2 L2055.7,1223.3 L2056.3,1227.3 L2058.4,1241.5 L2061.2,1259.6 L2064.1,1277.7 L2067.3,1295.8 L2070.7,1314.0 L2072.0,1320.6 L2074.3,1332.1 L2078.3,1350.2 L2082.8,1368.4 L2087.7,1384.8 L2088.2,1386.5 L2094.6,1404.6 L2102.8,1422.7 L2103.4,1423.8M1617.0,1361.2 L1629.0,1350.2 L1632.7,1346.4 L1645.7,1332.1 L1648.4,1328.7 L1659.6,1314.0 L1664.1,1307.4 L1671.6,1295.8 L1679.8,1281.5 L1681.9,1277.7 L1691.1,1259.6 L1695.5,1250.1 L1699.4,1241.5 L1706.9,1223.3 L1711.1,1212.2 L1713.8,1205.2 L1720.3,1187.1 L1726.2,1168.9 L1726.8,1167.0 L1732.1,1150.8 L1737.6,1132.7 L1742.5,1115.1 L1742.7,1114.5 L1748.0,1096.4 L1753.0,1078.3 L1757.8,1060.2 L1758.2,1058.5 L1762.8,1042.0 L1767.7,1023.9 L1772.5,1005.8 L1773.9,1000.5 L1777.6,987.6 L1782.7,969.5 L1787.8,951.4 L1789.6,945.0 L1793.3,933.3 L1799.0,915.1 L1804.7,897.0M2023.5,897.0 L2024.9,902.8 L2027.6,915.1 L2031.5,933.3 L2035.2,951.4 L2038.8,969.5 L2040.6,979.1 L2042.1,987.6 L2045.2,1005.8 L2048.3,1023.9 L2051.3,1042.0 L2054.3,1060.2 L2056.3,1072.2 L2057.3,1078.3 L2060.1,1096.4 L2062.9,1114.5 L2065.8,1132.7 L2068.8,1150.8 L2071.9,1168.9 L2072.0,1169.7 L2074.9,1187.1 L2078.0,1205.2 L2081.4,1223.3 L2085.0,1241.5 L2087.7,1254.4 L2088.8,1259.6 L2092.8,1277.7 L2097.3,1295.8 L2102.3,1314.0 L2103.4,1317.6M1617.0,1330.8 L1631.5,1314.0 L1632.7,1312.4 L1644.9,1295.8 L1648.4,1290.6 L1656.5,1277.7 L1664.1,1264.3 L1666.7,1259.6 L1675.8,1241.5 L1679.8,1232.8 L1684.0,1223.3 L1691.6,1205.2 L1695.5,1194.9 L1698.5,1187.1 L1705.0,1168.9 L1710.9,1150.8 L1711.1,1150.0 L1716.7,1132.7 L1722.2,1114.5 L1726.8,1097.9 L1727.3,1096.4 L1732.4,1078.3 L1737.3,1060.2 L1742.0,1042.0 L1742.5,1039.9 L1746.8,1023.9 L1751.5,1005.8 L1756.1,987.6 L1758.2,979.0 L1760.8,969.5 L1765.6,951.4 L1770.3,933.3 L1773.9,919.1 L1775.0,915.1 L1780.2,897.0M2048.1,897.0 L2051.4,915.1 L2054.7,933.3 L2056.3,942.6 L2057.7,951.4 L2060.6,969.5 L2063.5,987.6 L2066.4,1005.8 L2069.3,1023.9 L2072.0,1040.8 L2072.2,1042.0 L2075.0,1060.2 L2077.8,1078.3 L2080.7,1096.4 L2083.7,1114.5 L2086.8,1132.7 L2087.7,1137.5 L2090.0,1150.8 L2093.3,1168.9 L2096.7,1187.1 L2100.5,1205.2 L2103.4,1218.4M1617.0,1300.3 L1620.5,1295.8 L1632.7,1278.4 L1633.1,1277.7 L1644.3,1259.6 L1648.4,1252.3 L1654.2,1241.5 L1663.1,1223.3 L1664.1,1221.1 L1671.2,1205.2 L1678.5,1187.1 L1679.8,1183.8 L1685.4,1168.9 L1691.8,1150.8 L1695.5,1139.5 L1697.7,1132.7 L1703.4,1114.5 L1708.7,1096.4 L1711.1,1087.6 L1713.8,1078.3 L1718.8,1060.2 L1723.5,1042.0 L1726.8,1028.8 L1728.1,1023.9 L1732.7,1005.8 L1737.2,987.6 L1741.5,969.5 L1742.5,965.1 L1745.9,951.4 L1750.4,933.3 L1754.7,915.1 L1758.2,900.3 L1759.1,897.0M2069.2,897.0 L2072.0,914.9 L2072.0,915.1 L2074.6,933.3 L2077.3,951.4 L2079.9,969.5 L2082.6,987.6 L2085.3,1005.8 L2087.7,1021.5 L2088.1,1023.9 L2090.7,1042.0 L2093.5,1060.2 L2096.4,1078.3 L2099.4,1096.4 L2102.6,1114.5 L2103.4,1118.8M1617.0,1269.5 L1623.5,1259.6 L1632.7,1243.9 L1634.1,1241.5 L1643.6,1223.3 L1648.4,1213.4 L1652.2,1205.2 L1660.1,1187.1 L1664.1,1177.0 L1667.3,1168.9 L1674.0,1150.8 L1679.8,1133.8 L1680.1,1132.7 L1686.1,1114.5 L1691.6,1096.4 L1695.5,1082.6 L1696.7,1078.3 L1701.8,1060.2 L1706.5,1042.0 L1711.0,1023.9 L1711.1,1023.5 L1715.6,1005.8 L1719.9,987.6 L1724.1,969.5 L1726.8,957.3 L1728.2,951.4 L1732.4,933.3 L1736.5,915.1 L1740.5,897.0M2088.0,897.0 L2090.3,915.1 L2092.6,933.3 L2095.0,951.4 L2097.4,969.5 L2099.9,987.6 L2102.5,1005.8 L2103.4,1011.6M1617.0,1238.1 L1625.3,1223.3 L1632.7,1208.6 L1634.4,1205.2 L1642.7,1187.1 L1648.4,1173.5 L1650.3,1168.9 L1657.3,1150.8 L1663.7,1132.7 L1664.1,1131.6 L1669.8,1114.5 L1675.5,1096.4 L1679.8,1081.6 L1680.8,1078.3 L1685.9,1060.2 L1690.7,1042.0 L1695.2,1023.9 L1695.5,1022.8 L1699.7,1005.8 L1704.0,987.6 L1708.0,969.5 L1711.1,955.1 L1712.0,951.4 L1716.0,933.3 L1719.8,915.1 L1723.5,897.0M1617.0,1206.0 L1617.4,1205.2 L1626.2,1187.1 L1632.7,1172.2 L1634.1,1168.9 L1641.5,1150.8 L1648.1,1132.7 L1648.4,1132.0 L1654.5,1114.5 L1660.3,1096.4 L1664.1,1083.7 L1665.7,1078.3 L1670.9,1060.2 L1675.8,1042.0 L1679.8,1026.0 L1680.3,1023.9 L1684.8,1005.8 L1689.0,987.6 L1693.0,969.5 L1695.5,957.7 L1696.8,951.4 L1700.6,933.3 L1704.3,915.1 L1707.8,897.0M1617.0,1172.7 L1618.7,1168.9 L1626.4,1150.8 L1632.7,1134.2 L1633.3,1132.7 L1639.8,1114.5 L1645.8,1096.4 L1648.4,1088.0 L1651.4,1078.3 L1656.7,1060.2 L1661.6,1042.0 L1664.1,1032.1 L1666.2,1023.9 L1670.7,1005.8 L1674.8,987.6 L1678.7,969.5 L1679.8,964.4 L1682.6,951.4 L1686.2,933.3 L1689.7,915.1 L1693.0,897.0M1617.0,1137.8 L1619.0,1132.7 L1625.8,1114.5 L1631.9,1096.4 L1632.7,1093.9 L1637.7,1078.3 L1643.1,1060.2 L1648.0,1042.0 L1648.4,1040.5 L1652.7,1023.9 L1657.2,1005.8 L1661.3,987.6 L1664.1,974.6 L1665.2,969.5 L1669.0,951.4 L1672.5,933.3 L1675.8,915.1 L1679.0,897.0M1617.0,1100.8 L1618.5,1096.4 L1624.5,1078.3 L1629.9,1060.2 L1632.7,1050.2 L1635.0,1042.0 L1639.8,1023.9 L1644.2,1005.8 L1648.3,987.6 L1648.4,987.3 L1652.3,969.5 L1656.0,951.4 L1659.4,933.3 L1662.6,915.1 L1664.1,906.1 L1665.6,897.0M1617.0,1060.9 L1617.2,1060.2 L1622.5,1042.0 L1627.3,1023.9 L1631.7,1005.8 L1632.7,1001.3 L1635.9,987.6 L1639.8,969.5 L1643.4,951.4 L1646.8,933.3 L1648.4,923.8 L1649.9,915.1 L1652.9,897.0M1617.0,1016.2 L1619.6,1005.8 L1623.9,987.6 L1627.7,969.5 L1631.3,951.4 L1632.7,943.6 L1634.6,933.3 L1637.7,915.1 L1640.6,897.0M1617.0,964.2 L1619.6,951.4 L1622.9,933.3 L1625.9,915.1 L1628.6,897.0" fill="none" stroke="#000" stroke-width="3.5" stroke-linejoin="round" stroke-linecap="butt"/>
</g>
<path d="M1930.8,1459.0v-8.6M1930.8,897.0v8.6M1617.0,1433.3h8.6M2103.4,1433.3h-8.6M1617.0,1252.0h8.6M2103.4,1252.0h-8.6M1617.0,1070.7h8.6M2103.4,1070.7h-8.6" stroke="#262626" stroke-width="5.8" fill="none"/>
<rect x="1617.0" y="897.0" width="486.4000000000001" height="562.0" fill="none" stroke="#262626" stroke-width="5.8"/>
<text x="1617.0" y="1536.5" font-size="61.1" text-anchor="middle" fill="#262626">0</text>
<text x="1930.8" y="1536.5" font-size="61.1" text-anchor="middle" fill="#262626">2</text>
<text x="1593.8" y="1453.6" font-size="61.1" text-anchor="end" fill="#262626">-3</text>
<text x="1593.8" y="1272.3" font-size="61.1" text-anchor="end" fill="#262626">-2</text>
<text x="1593.8" y="1091.0" font-size="61.1" text-anchor="end" fill="#262626">-1</text>
<text x="1860.2" y="1619.1" font-size="67.2" text-anchor="middle" fill="#262626">q1 [rad]</text>
<text transform="translate(1515.6,1179.5) rotate(-90)" font-size="67.2" text-anchor="middle" fill="#262626">q2 [rad]</text>
</g>
<g id="cbar">
<rect x="2178.6" y="1481.14" width="52.0" height="22.66" fill="#3e26a8"/>
<rect x="2178.6" y="1459.08" width="52.0" height="22.66" fill="#402ab4"/>
<rect x="2178.6" y="1437.02" width="52.0" height="22.66" fill="#422ec0"/>
<rect x="2178.6" y="1414.96" width="52.0" height="22.66" fill="#4332cb"/>
<rect x="2178.6" y="1392.90" width="52.0" height="22.66" fill="#4537d5"/>
<rect x="2178.6" y="1370.83" width="52.0" height="22.66" fill="#463cde"/>
<rect x="2178.6" y="1348.77" width="52.0" height="22.66" fill="#4741e5"/>
<rect x="2178.6" y="1326.71" width="52.0" height="22.66" fill="#4747eb"/>
<rect x="2178.6" y="1304.65" width="52.0" height="22.66" fill="#484df0"/>
<rect x="2178.6" y="1282.59" width="52.0" height="22.66" fill="#4852f4"/>
<rect x="2178.6" y="1260.53" width="52.0" height="22.66" fill="#4758f8"/>
<rect x="2178.6" y="1238.47" width="52.0" height="22.66" fill="#465efb"/>
<rect x="2178.6" y="1216.41" width="52.0" height="22.66" fill="#4563fd"/>
<rect x="2178.6" y="1194.35" width="52.0" height="22.66" fill="#4269fe"/>
<rect x="2178.6" y="1172.29" width="52.0" height="22.66" fill="#3e6fff"/>
<rect x="2178.6" y="1150.22" width="52.0" height="22.66" fill="#3875fe"/>
<rect x="2178.6" y="1128.16" width="52.0" height="22.66" fill="#327cfc"/>
<rect x="2178.6" y="1106.10" width="52.0" height="22.66" fill="#2f81fa"/>
<rect x="2178.6" y="1084.04" width="52.0" height="22.66" fill="#2e87f7"/>
<rect x="2178.6" y="1061.98" width="52.0" height="22.66" fill="#2d8cf3"/>
<rect x="2178.6" y="1039.92" width="52.0" height="22.66" fill="#2b91ef"/>
<rect x="2178.6" y="1017.86" width="52.0" height="22.66" fill="#2797eb"/>
<rect x="2178.6" y="995.80" width="52.0" height="22.66" fill="#259be8"/>
<rect x="2178.6" y="973.74" width="52.0" height="22.66" fill="#23a0e5"/>
<rect x="2178.6" y="951.68" width="52.0" height="22.66" fill="#20a5e3"/>
<rect x="2178.6" y="929.62" width="52.0" height="22.66" fill="#1ca9df"/>
<rect x="2178.6" y="907.55" width="52.0" height="22.66" fill="#18addb"/>
<rect x="2178.6" y="885.49" width="52.0" height="22.66" fill="#12b1d6"/>
<rect x="2178.6" y="863.43" width="52.0" height="22.66" fill="#08b5d0"/>
<rect x="2178.6" y="841.37" width="52.0" height="22.66" fill="#01b8ca"/>
<rect x="2178.6" y="819.31" width="52.0" height="22.66" fill="#02bac3"/>
<rect x="2178.6" y="797.25" width="52.0" height="22.66" fill="#0bbdbd"/>
<rect x="2178.6" y="775.19" width="52.0" height="22.66" fill="#19bfb6"/>
<rect x="2178.6" y="753.13" width="52.0" height="22.66" fill="#24c1ae"/>
<rect x="2178.6" y="731.07" width="52.0" height="22.66" fill="#2cc4a7"/>
<rect x="2178.6" y="709.01" width="52.0" height="22.66" fill="#31c69f"/>
<rect x="2178.6" y="686.95" width="52.0" height="22.66" fill="#37c897"/>
<rect x="2178.6" y="664.88" width="52.0" height="22.66" fill="#3fca8e"/>
<rect x="2178.6" y="642.82" width="52.0" height="22.66" fill="#4acb84"/>
<rect x="2178.6" y="620.76" width="52.0" height="22.66" fill="#57cc7a"/>
<rect x="2178.6" y="598.70" width="52.0" height="22.66" fill="#64cd6f"/>
<rect x="2178.6" y="576.64" width="52.0" height="22.66" fill="#72cd64"/>
<rect x="2178.6" y="554.58" width="52.0" height="22.66" fill="#81cc59"/>
<rect x="2178.6" y="532.52" width="52.0" height="22.66" fill="#8fcb4e"/>
<rect x="2178.6" y="510.46" width="52.0" height="22.66" fill="#9dc943"/>
<rect x="2178.6" y="488.40" width="52.0" height="22.66" fill="#abc739"/>
<rect x="2178.6" y="466.34" width="52.0" height="22.66" fill="#b9c431"/>
<rect x="2178.6" y="444.27" width="52.0" height="22.66" fill="#c5c22a"/>
<rect x="2178.6" y="422.21" width="52.0" height="22.66" fill="#d1bf27"/>
<rect x="2178.6" y="400.15" width="52.0" height="22.66" fill="#dcbd29"/>
<rect x="2178.6" y="378.09" width="52.0" height="22.66" fill="#e6bb2d"/>
<rect x="2178.6" y="356.03" width="52.0" height="22.66" fill="#f0ba36"/>
<rect x="2178.6" y="333.97" width="52.0" height="22.66" fill="#f8ba3d"/>
<rect x="2178.6" y="311.91" width="52.0" height="22.66" fill="#febe3c"/>
<rect x="2178.6" y="289.85" width="52.0" height="22.66" fill="#fec338"/>
<rect x="2178.6" y="267.79" width="52.0" height="22.66" fill="#fec934"/>
<rect x="2178.6" y="245.73" width="52.0" height="22.66" fill="#fccf30"/>
<rect x="2178.6" y="223.67" width="52.0" height="22.66" fill="#fad62d"/>
<rect x="2178.6" y="201.60" width="52.0" height="22.66" fill="#f7dc2a"/>
<rect x="2178.6" y="179.54" width="52.0" height="22.66" fill="#f5e327"/>
<rect x="2178.6" y="157.48" width="52.0" height="22.66" fill="#f5e924"/>
<rect x="2178.6" y="135.42" width="52.0" height="22.66" fill="#f6ef20"/>
<rect x="2178.6" y="113.36" width="52.0" height="22.66" fill="#f7f51b"/>
<rect x="2178.6" y="91.30" width="52.0" height="22.66" fill="#f9fb15"/>
<text x="2250.8" y="1423.8" font-size="55.6" fill="#262626">-1.5</text>
<text x="2250.8" y="1301.0" font-size="55.6" fill="#262626">-1</text>
<text x="2250.8" y="1178.1" font-size="55.6" fill="#262626">-0.5</text>
<text x="2250.8" y="1055.3" font-size="55.6" fill="#262626">0</text>
<text x="2250.8" y="932.5" font-size="55.6" fill="#262626">0.5</text>
<text x="2250.8" y="809.7" font-size="55.6" fill="#262626">1</text>
<text x="2250.8" y="686.8" font-size="55.6" fill="#262626">1.5</text>
<text x="2250.8" y="564.0" font-size="55.6" fill="#262626">2</text>
<text x="2250.8" y="441.2" font-size="55.6" fill="#262626">2.5</text>
<text x="2250.8" y="318.3" font-size="55.6" fill="#262626">3</text>
<text x="2250.8" y="195.5" font-size="55.6" fill="#262626">3.5</text>
<path d="M2230.6,1403.6h-14.2M2230.6,1280.8h-14.2M2230.6,1157.9h-14.2M2230.6,1035.1h-14.2M2230.6,912.3h-14.2M2230.6,789.5h-14.2M2230.6,666.6h-14.2M2230.6,543.8h-14.2M2230.6,421.0h-14.2M2230.6,298.1h-14.2M2230.6,175.3h-14.2" stroke="#262626" stroke-width="2.8" fill="none"/>
<rect x="2178.6" y="91.3" width="52.0" height="1411.9" fill="none" stroke="#262626" stroke-width="2.8"/>
</g>
</svg>
</body></html>
